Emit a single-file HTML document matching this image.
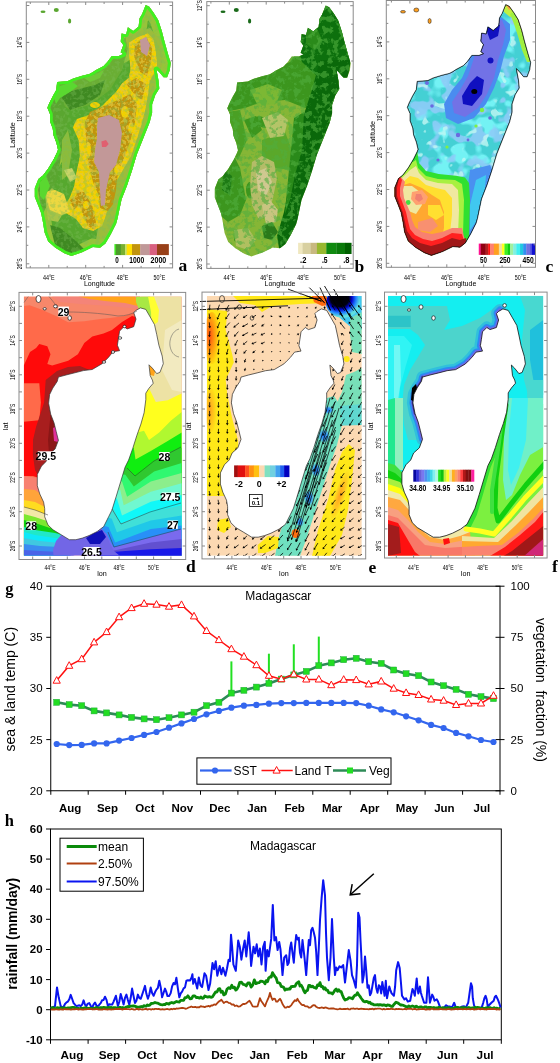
<!DOCTYPE html><html><head><meta charset="utf-8"><title>Madagascar climate figure</title><style>html,body{margin:0;padding:0;background:#fff;}svg{display:block;}</style></head><body>
<svg width="560" height="1063" viewBox="0 0 560 1063">
<rect x="0" y="0" width="560" height="1063" fill="#fff"/>
<g id="panel-a">
<clipPath id="isl-a"><polygon points="145.7,5.0 149.3,6.8 153.8,13.0 158.2,20.1 161.8,30.9 164.5,41.6 168.0,54.1 170.7,63.0 169.8,70.1 167.1,77.3 163.6,77.3 159.1,71.9 156.4,69.3 158.5,80.5 159.3,88.5 155.3,95.0 152.1,104.6 152.1,112.7 149.7,122.3 143.2,138.4 136.8,154.5 132.0,170.5 127.2,185.0 121.5,199.5 117.5,218.8 116.1,223.7 110.7,234.4 105.4,243.4 100.0,247.8 92.9,247.1 82.1,252.3 71.4,255.9 64.3,253.2 55.4,247.8 48.2,241.6 44.6,232.6 42.9,221.9 41.1,213.0 38.4,205.9 34.8,196.9 34.8,188.0 38.4,179.1 42.9,175.5 48.2,168.4 53.6,159.4 57.1,152.3 58.0,149.8 56.3,142.6 53.6,135.5 52.7,128.4 50.0,121.2 50.0,114.1 47.3,107.8 49.1,103.4 52.7,96.2 56.3,90.0 57.1,81.9 67.9,81.0 73.2,78.4 82.1,75.7 89.3,73.9 92.9,72.1 95.5,70.3 103.6,65.9 107.1,62.3 111.8,55.9 118.9,55.9 123.4,54.1 120.7,52.3 123.4,45.1 120.7,41.6 121.6,33.5 126.1,34.4 127.9,27.3 133.2,30.9 138.6,26.4 139.5,18.4 142.1,13.9"/></clipPath>
<polygon points="145.7,5.0 149.3,6.8 153.8,13.0 158.2,20.1 161.8,30.9 164.5,41.6 168.0,54.1 170.7,63.0 169.8,70.1 167.1,77.3 163.6,77.3 159.1,71.9 156.4,69.3 158.5,80.5 159.3,88.5 155.3,95.0 152.1,104.6 152.1,112.7 149.7,122.3 143.2,138.4 136.8,154.5 132.0,170.5 127.2,185.0 121.5,199.5 117.5,218.8 116.1,223.7 110.7,234.4 105.4,243.4 100.0,247.8 92.9,247.1 82.1,252.3 71.4,255.9 64.3,253.2 55.4,247.8 48.2,241.6 44.6,232.6 42.9,221.9 41.1,213.0 38.4,205.9 34.8,196.9 34.8,188.0 38.4,179.1 42.9,175.5 48.2,168.4 53.6,159.4 57.1,152.3 58.0,149.8 56.3,142.6 53.6,135.5 52.7,128.4 50.0,121.2 50.0,114.1 47.3,107.8 49.1,103.4 52.7,96.2 56.3,90.0 57.1,81.9 67.9,81.0 73.2,78.4 82.1,75.7 89.3,73.9 92.9,72.1 95.5,70.3 103.6,65.9 107.1,62.3 111.8,55.9 118.9,55.9 123.4,54.1 120.7,52.3 123.4,45.1 120.7,41.6 121.6,33.5 126.1,34.4 127.9,27.3 133.2,30.9 138.6,26.4 139.5,18.4 142.1,13.9" fill="#56a82e"/>
<polygon points="145.7,5.0 149.3,6.8 153.8,13.0 158.2,20.1 161.8,30.9 164.5,41.6 168.0,54.1 170.7,63.0 169.8,70.1 167.1,77.3 163.6,77.3 159.1,71.9 156.4,69.3 158.5,80.5 159.3,88.5 155.3,95.0 152.1,104.6 152.1,112.7 149.7,122.3 143.2,138.4 136.8,154.5 132.0,170.5 127.2,185.0 121.5,199.5 117.5,218.8 116.1,223.7 110.7,234.4 105.4,243.4 100.0,247.8 92.9,247.1 82.1,252.3 71.4,255.9 64.3,253.2 55.4,247.8 48.2,241.6 44.6,232.6 42.9,221.9 41.1,213.0 38.4,205.9 34.8,196.9 34.8,188.0 38.4,179.1 42.9,175.5 48.2,168.4 53.6,159.4 57.1,152.3 58.0,149.8 56.3,142.6 53.6,135.5 52.7,128.4 50.0,121.2 50.0,114.1 47.3,107.8 49.1,103.4 52.7,96.2 56.3,90.0 57.1,81.9 67.9,81.0 73.2,78.4 82.1,75.7 89.3,73.9 92.9,72.1 95.5,70.3 103.6,65.9 107.1,62.3 111.8,55.9 118.9,55.9 123.4,54.1 120.7,52.3 123.4,45.1 120.7,41.6 121.6,33.5 126.1,34.4 127.9,27.3 133.2,30.9 138.6,26.4 139.5,18.4 142.1,13.9" fill="none" stroke="#96c43a" stroke-width="17" stroke-linejoin="round" clip-path="url(#isl-a)"/>
<g clip-path="url(#isl-a)">
<polygon points="55.0,85.0 80.0,78.0 100.0,70.0 112.0,60.0 120.0,45.0 126.0,36.0 128.0,48.0 122.0,70.0 110.0,90.0 90.0,105.0 70.0,110.0 55.0,100.0" fill="#6aae34"/>
<polygon points="48.0,100.0 62.0,95.0 68.0,120.0 62.0,150.0 58.0,175.0 50.0,200.0 42.0,215.0 38.0,190.0 44.0,160.0 50.0,130.0" fill="#5aa630"/>
<polygon points="72.0,95.0 85.0,92.0 80.0,105.0 73.0,108.0" fill="#96c040"/>
<polygon points="62.0,140.0 68.0,130.0 72.0,150.0 68.0,175.0 62.0,180.0" fill="#8cbc3c"/>
<polygon points="45.0,195.0 52.0,188.0 60.0,195.0 65.0,210.0 58.0,222.0 48.0,220.0" fill="#a8c448"/>
<polygon points="50.0,225.0 60.0,228.0 75.0,240.0 85.0,250.0 70.0,254.0 55.0,245.0" fill="#3f8a22"/>
<polygon points="60.0,95.0 75.0,90.0 95.0,85.0 105.0,80.0 100.0,95.0 85.0,105.0 70.0,110.0" fill="#3f8a22"/>
<polygon points="125.0,36.0 150.0,28.0 160.0,40.0 162.0,65.0 156.0,80.0 152.0,100.0 148.0,120.0 142.0,145.0 135.0,170.0 124.0,198.0 114.0,222.0 104.0,238.0 96.0,240.0 100.0,215.0 112.0,190.0 125.0,160.0 135.0,130.0 140.0,100.0 142.0,80.0 130.0,60.0" fill="#9cbc3c"/>
<polygon points="129.1,42.8 137.2,37.4 147.9,33.4 153.2,38.8 155.9,52.1 157.0,65.5 154.0,73.6 149.5,81.6 148.0,95.0 145.0,111.0 141.0,126.0 136.5,140.0 131.0,156.0 124.0,168.0 117.0,180.0 111.0,198.0 107.0,212.0 102.0,226.0 93.0,231.0 83.0,228.0 76.0,219.0 66.0,213.0 64.0,207.0 69.5,198.2 74.1,186.6 76.4,172.7 79.9,156.4 78.7,140.2 74.1,130.0 72.9,127.2 76.9,119.1 88.9,115.1 102.3,105.7 109.0,99.0 115.7,92.3 122.4,83.0 129.1,77.6 130.5,68.2 129.1,54.8" fill="#f2d000"/>
<clipPath id="hl-a"><polygon points="129.1,42.8 137.2,37.4 147.9,33.4 153.2,38.8 155.9,52.1 157.0,65.5 154.0,73.6 149.5,81.6 148.0,95.0 145.0,111.0 141.0,126.0 136.5,140.0 131.0,156.0 124.0,168.0 117.0,180.0 111.0,198.0 107.0,212.0 102.0,226.0 93.0,231.0 83.0,228.0 76.0,219.0 66.0,213.0 64.0,207.0 69.5,198.2 74.1,186.6 76.4,172.7 79.9,156.4 78.7,140.2 74.1,130.0 72.9,127.2 76.9,119.1 88.9,115.1 102.3,105.7 109.0,99.0 115.7,92.3 122.4,83.0 129.1,77.6 130.5,68.2 129.1,54.8"/></clipPath>
<polygon points="44.0,192.0 55.0,190.0 64.0,194.0 70.0,212.0 62.0,215.0 50.0,210.0" fill="#ecd840"/>
<polygon points="64.0,170.0 72.0,168.0 77.0,178.0 70.0,182.0" fill="#c8d468"/>
<polygon points="135.0,44.0 146.0,37.0 152.0,47.0 151.0,62.0 147.0,76.0 140.0,72.0 134.0,56.0" fill="#c2940c"/>
<polygon points="126.0,84.0 136.0,78.0 146.0,84.0 142.0,100.0 136.0,96.0" fill="#c2940c"/>
<polygon points="90.0,112.0 104.0,106.0 118.0,100.0 130.0,94.0 137.0,104.0 135.0,122.0 130.0,142.0 124.0,158.0 118.0,172.0 116.0,190.0 113.0,204.0 108.0,211.0 100.0,208.0 99.0,196.0 93.0,182.0 88.0,162.0 86.0,140.0 85.0,122.0" fill="#c2940c"/>
<polygon points="77.0,191.0 84.0,192.0 92.0,205.0 96.0,222.0 95.0,230.0 88.0,226.0 82.0,212.0 76.0,198.0" fill="#c2940c"/>
<polygon points="70.0,200.0 76.0,196.0 80.0,204.0 74.0,210.0" fill="#c2940c"/>
<ellipse cx="125" cy="112" rx="4" ry="6" fill="#f2d000"/>
<ellipse cx="88" cy="150" rx="3" ry="8" fill="#f2d000"/>
<ellipse cx="118" cy="170" rx="4" ry="5" fill="#f2d000"/>
<ellipse cx="131" cy="128" rx="3" ry="5" fill="#f2d000"/>
<ellipse cx="95" cy="105" rx="5" ry="3" fill="#f2d000"/>
<ellipse cx="86" cy="205" rx="3" ry="4" fill="#f2d000"/>
<filter id="nza" x="0" y="0" width="1" height="1"><feTurbulence type="fractalNoise" baseFrequency="0.3" numOctaves="2" seed="3"/><feColorMatrix type="matrix" values="0 0 0 0 0.76  0 0 0 0 0.58  0 0 0 0 0.05  0 0 0 -8 4.2"/></filter>
<rect x="60" y="30" width="100" height="210" filter="url(#nza)" opacity="0.7" clip-path="url(#hl-a)"/>
<filter id="nza2" x="0" y="0" width="1" height="1"><feTurbulence type="fractalNoise" baseFrequency="0.25" numOctaves="2" seed="11"/><feColorMatrix type="matrix" values="0 0 0 0 0.2  0 0 0 0 0.5  0 0 0 0 0.1  0 0 0 -7 3.7"/></filter>
<rect x="26" y="2" width="147" height="266" filter="url(#nza2)" opacity="0.35"/>
<polygon points="140.0,40.0 146.0,37.0 150.0,45.0 147.0,56.0 141.0,52.0" fill="#c29898"/>
<polygon points="98.0,118.0 109.0,115.0 119.0,120.0 122.0,133.0 120.0,150.0 116.0,165.0 110.0,172.0 106.0,190.0 105.0,205.0 101.0,206.0 100.0,190.0 99.0,172.0 94.0,162.0 95.0,150.0 97.0,138.0 97.0,126.0" fill="#c29898"/>
<polygon points="101.4,141.4 106.0,140.0 108.6,144.0 106.0,147.1 102.0,147.0" fill="#e06070"/>
<polygon points="52.0,92.0 60.0,86.0 72.0,82.0 78.0,86.0 70.0,92.0 60.0,98.0 56.0,104.0" fill="#5ad830"/>
<polygon points="84.0,78.0 96.0,74.0 104.0,70.0 100.0,78.0 90.0,82.0" fill="#70c838"/>
<polygon points="40.0,182.0 46.0,176.0 50.0,186.0 44.0,200.0 40.0,196.0" fill="#5ad830"/>
</g>
<polygon points="145.7,5.0 149.3,6.8 153.8,13.0 158.2,20.1 161.8,30.9 164.5,41.6 168.0,54.1 170.7,63.0 169.8,70.1 167.1,77.3 163.6,77.3 159.1,71.9 156.4,69.3 158.5,80.5 159.3,88.5 155.3,95.0 152.1,104.6 152.1,112.7 149.7,122.3 143.2,138.4 136.8,154.5 132.0,170.5 127.2,185.0 121.5,199.5 117.5,218.8 116.1,223.7 110.7,234.4 105.4,243.4 100.0,247.8 92.9,247.1 82.1,252.3 71.4,255.9 64.3,253.2 55.4,247.8 48.2,241.6 44.6,232.6 42.9,221.9 41.1,213.0 38.4,205.9 34.8,196.9 34.8,188.0 38.4,179.1 42.9,175.5 48.2,168.4 53.6,159.4 57.1,152.3 58.0,149.8 56.3,142.6 53.6,135.5 52.7,128.4 50.0,121.2 50.0,114.1 47.3,107.8 49.1,103.4 52.7,96.2 56.3,90.0 57.1,81.9 67.9,81.0 73.2,78.4 82.1,75.7 89.3,73.9 92.9,72.1 95.5,70.3 103.6,65.9 107.1,62.3 111.8,55.9 118.9,55.9 123.4,54.1 120.7,52.3 123.4,45.1 120.7,41.6 121.6,33.5 126.1,34.4 127.9,27.3 133.2,30.9 138.6,26.4 139.5,18.4 142.1,13.9" fill="none" stroke="#40f020" stroke-width="5.5" stroke-linejoin="round" clip-path="url(#isl-a)"/>
<ellipse cx="43" cy="11.8" rx="2.5" ry="1.3" fill="#5aa630"/>
<ellipse cx="56.3" cy="10" rx="2.5" ry="2" fill="#5aa630"/>
<ellipse cx="69.6" cy="21" rx="1.6" ry="2.5" fill="#5aa630"/>
<rect x="114.40" y="244.1" width="1.65" height="11.0" fill="#40f020"/>
<rect x="115.80" y="244.1" width="5.25" height="11.0" fill="#4b9a2a"/>
<rect x="120.80" y="244.1" width="4.55" height="11.0" fill="#78b030"/>
<rect x="125.10" y="244.1" width="1.95" height="11.0" fill="#c8e060"/>
<rect x="126.80" y="244.1" width="5.45" height="11.0" fill="#ffe000"/>
<rect x="132.00" y="244.1" width="8.45" height="11.0" fill="#c2940c"/>
<rect x="140.20" y="244.1" width="9.55" height="11.0" fill="#c09898"/>
<rect x="149.50" y="244.1" width="7.75" height="11.0" fill="#d86080"/>
<rect x="157.00" y="244.1" width="11.85" height="11.0" fill="#984018"/>
<text x="115.25" y="260.3" font-family="'Liberation Sans', Arial, sans-serif" font-size="8.2" font-weight="bold" textLength="3.5" lengthAdjust="spacingAndGlyphs" dominant-baseline="central">0</text>
<text x="129.20" y="260.3" font-family="'Liberation Sans', Arial, sans-serif" font-size="8.2" font-weight="bold" textLength="15" lengthAdjust="spacingAndGlyphs" dominant-baseline="central">1000</text>
<text x="150.55" y="260.3" font-family="'Liberation Sans', Arial, sans-serif" font-size="8.2" font-weight="bold" textLength="15.7" lengthAdjust="spacingAndGlyphs" dominant-baseline="central">2000</text>
<rect x="26.3" y="2.0" width="146.3" height="265.9" fill="none" stroke="#8a8a8a" stroke-width="1"/>
<line x1="30.3" y1="267.9" x2="30.3" y2="265.9" stroke="#8a8a8a" stroke-width="1"/>
<line x1="30.3" y1="2.0" x2="30.3" y2="4.0" stroke="#8a8a8a" stroke-width="1"/>
<line x1="48.8" y1="267.9" x2="48.8" y2="264.9" stroke="#8a8a8a" stroke-width="1"/>
<line x1="48.8" y1="2.0" x2="48.8" y2="5.0" stroke="#8a8a8a" stroke-width="1"/>
<text x="48.8" y="277.0" font-family="'Liberation Sans', Arial, sans-serif" font-size="6.6" font-weight="normal" text-anchor="middle" dominant-baseline="central" fill="#000" textLength="11.8" lengthAdjust="spacingAndGlyphs">44°E</text>
<line x1="67.2" y1="267.9" x2="67.2" y2="265.9" stroke="#8a8a8a" stroke-width="1"/>
<line x1="67.2" y1="2.0" x2="67.2" y2="4.0" stroke="#8a8a8a" stroke-width="1"/>
<line x1="85.7" y1="267.9" x2="85.7" y2="264.9" stroke="#8a8a8a" stroke-width="1"/>
<line x1="85.7" y1="2.0" x2="85.7" y2="5.0" stroke="#8a8a8a" stroke-width="1"/>
<text x="85.69999999999999" y="277.0" font-family="'Liberation Sans', Arial, sans-serif" font-size="6.6" font-weight="normal" text-anchor="middle" dominant-baseline="central" fill="#000" textLength="11.8" lengthAdjust="spacingAndGlyphs">46°E</text>
<line x1="104.1" y1="267.9" x2="104.1" y2="265.9" stroke="#8a8a8a" stroke-width="1"/>
<line x1="104.1" y1="2.0" x2="104.1" y2="4.0" stroke="#8a8a8a" stroke-width="1"/>
<line x1="122.6" y1="267.9" x2="122.6" y2="264.9" stroke="#8a8a8a" stroke-width="1"/>
<line x1="122.6" y1="2.0" x2="122.6" y2="5.0" stroke="#8a8a8a" stroke-width="1"/>
<text x="122.6" y="277.0" font-family="'Liberation Sans', Arial, sans-serif" font-size="6.6" font-weight="normal" text-anchor="middle" dominant-baseline="central" fill="#000" textLength="11.8" lengthAdjust="spacingAndGlyphs">48°E</text>
<line x1="141.1" y1="267.9" x2="141.1" y2="265.9" stroke="#8a8a8a" stroke-width="1"/>
<line x1="141.1" y1="2.0" x2="141.1" y2="4.0" stroke="#8a8a8a" stroke-width="1"/>
<line x1="159.5" y1="267.9" x2="159.5" y2="264.9" stroke="#8a8a8a" stroke-width="1"/>
<line x1="159.5" y1="2.0" x2="159.5" y2="5.0" stroke="#8a8a8a" stroke-width="1"/>
<text x="159.5" y="277.0" font-family="'Liberation Sans', Arial, sans-serif" font-size="6.6" font-weight="normal" text-anchor="middle" dominant-baseline="central" fill="#000" textLength="11.8" lengthAdjust="spacingAndGlyphs">50°E</text>
<line x1="26.3" y1="5.5" x2="29.3" y2="5.5" stroke="#8a8a8a" stroke-width="1"/>
<line x1="172.6" y1="5.5" x2="169.6" y2="5.5" stroke="#8a8a8a" stroke-width="1"/>
<line x1="26.3" y1="23.9" x2="28.3" y2="23.9" stroke="#8a8a8a" stroke-width="1"/>
<line x1="172.6" y1="23.9" x2="170.6" y2="23.9" stroke="#8a8a8a" stroke-width="1"/>
<line x1="26.3" y1="42.4" x2="29.3" y2="42.4" stroke="#8a8a8a" stroke-width="1"/>
<line x1="172.6" y1="42.4" x2="169.6" y2="42.4" stroke="#8a8a8a" stroke-width="1"/>
<text x="19.3" y="42.4" font-family="'Liberation Sans', Arial, sans-serif" font-size="6.6" font-weight="normal" text-anchor="middle" dominant-baseline="central" fill="#000" transform="rotate(-90 19.3 42.4)" textLength="11.0" lengthAdjust="spacingAndGlyphs">14°S</text>
<line x1="26.3" y1="60.8" x2="28.3" y2="60.8" stroke="#8a8a8a" stroke-width="1"/>
<line x1="172.6" y1="60.8" x2="170.6" y2="60.8" stroke="#8a8a8a" stroke-width="1"/>
<line x1="26.3" y1="79.3" x2="29.3" y2="79.3" stroke="#8a8a8a" stroke-width="1"/>
<line x1="172.6" y1="79.3" x2="169.6" y2="79.3" stroke="#8a8a8a" stroke-width="1"/>
<text x="19.3" y="79.3" font-family="'Liberation Sans', Arial, sans-serif" font-size="6.6" font-weight="normal" text-anchor="middle" dominant-baseline="central" fill="#000" transform="rotate(-90 19.3 79.3)" textLength="11.0" lengthAdjust="spacingAndGlyphs">16°S</text>
<line x1="26.3" y1="97.8" x2="28.3" y2="97.8" stroke="#8a8a8a" stroke-width="1"/>
<line x1="172.6" y1="97.8" x2="170.6" y2="97.8" stroke="#8a8a8a" stroke-width="1"/>
<line x1="26.3" y1="116.2" x2="29.3" y2="116.2" stroke="#8a8a8a" stroke-width="1"/>
<line x1="172.6" y1="116.2" x2="169.6" y2="116.2" stroke="#8a8a8a" stroke-width="1"/>
<text x="19.3" y="116.19999999999999" font-family="'Liberation Sans', Arial, sans-serif" font-size="6.6" font-weight="normal" text-anchor="middle" dominant-baseline="central" fill="#000" transform="rotate(-90 19.3 116.19999999999999)" textLength="11.0" lengthAdjust="spacingAndGlyphs">18°S</text>
<line x1="26.3" y1="134.7" x2="28.3" y2="134.7" stroke="#8a8a8a" stroke-width="1"/>
<line x1="172.6" y1="134.7" x2="170.6" y2="134.7" stroke="#8a8a8a" stroke-width="1"/>
<line x1="26.3" y1="153.1" x2="29.3" y2="153.1" stroke="#8a8a8a" stroke-width="1"/>
<line x1="172.6" y1="153.1" x2="169.6" y2="153.1" stroke="#8a8a8a" stroke-width="1"/>
<text x="19.3" y="153.1" font-family="'Liberation Sans', Arial, sans-serif" font-size="6.6" font-weight="normal" text-anchor="middle" dominant-baseline="central" fill="#000" transform="rotate(-90 19.3 153.1)" textLength="11.0" lengthAdjust="spacingAndGlyphs">20°S</text>
<line x1="26.3" y1="171.6" x2="28.3" y2="171.6" stroke="#8a8a8a" stroke-width="1"/>
<line x1="172.6" y1="171.6" x2="170.6" y2="171.6" stroke="#8a8a8a" stroke-width="1"/>
<line x1="26.3" y1="190.0" x2="29.3" y2="190.0" stroke="#8a8a8a" stroke-width="1"/>
<line x1="172.6" y1="190.0" x2="169.6" y2="190.0" stroke="#8a8a8a" stroke-width="1"/>
<text x="19.3" y="190.0" font-family="'Liberation Sans', Arial, sans-serif" font-size="6.6" font-weight="normal" text-anchor="middle" dominant-baseline="central" fill="#000" transform="rotate(-90 19.3 190.0)" textLength="11.0" lengthAdjust="spacingAndGlyphs">22°S</text>
<line x1="26.3" y1="208.4" x2="28.3" y2="208.4" stroke="#8a8a8a" stroke-width="1"/>
<line x1="172.6" y1="208.4" x2="170.6" y2="208.4" stroke="#8a8a8a" stroke-width="1"/>
<line x1="26.3" y1="226.9" x2="29.3" y2="226.9" stroke="#8a8a8a" stroke-width="1"/>
<line x1="172.6" y1="226.9" x2="169.6" y2="226.9" stroke="#8a8a8a" stroke-width="1"/>
<text x="19.3" y="226.9" font-family="'Liberation Sans', Arial, sans-serif" font-size="6.6" font-weight="normal" text-anchor="middle" dominant-baseline="central" fill="#000" transform="rotate(-90 19.3 226.9)" textLength="11.0" lengthAdjust="spacingAndGlyphs">24°S</text>
<line x1="26.3" y1="245.3" x2="28.3" y2="245.3" stroke="#8a8a8a" stroke-width="1"/>
<line x1="172.6" y1="245.3" x2="170.6" y2="245.3" stroke="#8a8a8a" stroke-width="1"/>
<line x1="26.3" y1="263.8" x2="29.3" y2="263.8" stroke="#8a8a8a" stroke-width="1"/>
<line x1="172.6" y1="263.8" x2="169.6" y2="263.8" stroke="#8a8a8a" stroke-width="1"/>
<text x="19.3" y="263.79999999999995" font-family="'Liberation Sans', Arial, sans-serif" font-size="6.6" font-weight="normal" text-anchor="middle" dominant-baseline="central" fill="#000" transform="rotate(-90 19.3 263.79999999999995)" textLength="11.0" lengthAdjust="spacingAndGlyphs">26°S</text>
<text x="99.45" y="283.6" font-family="'Liberation Sans', Arial, sans-serif" font-size="7.6" font-weight="normal" text-anchor="middle" dominant-baseline="central" fill="#000" textLength="31.0" lengthAdjust="spacingAndGlyphs">Longitude</text>
<text x="13.0" y="134.95" font-family="'Liberation Sans', Arial, sans-serif" font-size="7.2" font-weight="normal" text-anchor="middle" dominant-baseline="central" fill="#000" transform="rotate(-90 13.0 134.95)">Latitude</text>
</g>
<g id="panel-b">
<clipPath id="isl-b"><polygon points="325.7,5.5 329.3,7.3 333.8,13.5 338.2,20.6 341.8,31.4 344.5,42.1 348.0,54.6 350.7,63.5 349.8,70.6 347.1,77.8 343.6,77.8 339.1,72.4 336.4,69.8 338.5,81.0 339.3,89.0 335.3,95.5 332.1,105.1 332.1,113.2 329.7,122.8 323.2,138.9 316.8,155.0 312.0,171.0 307.2,185.5 301.5,200.0 297.5,219.3 296.1,224.2 290.7,234.9 285.4,243.9 280.0,248.3 272.9,247.6 262.1,252.8 251.4,256.4 244.3,253.7 235.4,248.3 228.2,242.1 224.6,233.1 222.9,222.4 221.1,213.5 218.4,206.4 214.8,197.4 214.8,188.5 218.4,179.6 222.9,176.0 228.2,168.9 233.6,159.9 237.1,152.8 238.0,150.3 236.3,143.1 233.6,136.0 232.7,128.9 230.0,121.7 230.0,114.6 227.3,108.3 229.1,103.9 232.7,96.7 236.3,90.5 237.1,82.4 247.9,81.5 253.2,78.9 262.1,76.2 269.3,74.4 272.9,72.6 275.5,70.8 283.6,66.4 287.1,62.8 291.8,56.4 298.9,56.4 303.4,54.6 300.7,52.8 303.4,45.6 300.7,42.1 301.6,34.0 306.1,34.9 307.9,27.8 313.2,31.4 318.6,26.9 319.5,18.9 322.1,14.4"/></clipPath>
<polygon points="325.7,5.5 329.3,7.3 333.8,13.5 338.2,20.6 341.8,31.4 344.5,42.1 348.0,54.6 350.7,63.5 349.8,70.6 347.1,77.8 343.6,77.8 339.1,72.4 336.4,69.8 338.5,81.0 339.3,89.0 335.3,95.5 332.1,105.1 332.1,113.2 329.7,122.8 323.2,138.9 316.8,155.0 312.0,171.0 307.2,185.5 301.5,200.0 297.5,219.3 296.1,224.2 290.7,234.9 285.4,243.9 280.0,248.3 272.9,247.6 262.1,252.8 251.4,256.4 244.3,253.7 235.4,248.3 228.2,242.1 224.6,233.1 222.9,222.4 221.1,213.5 218.4,206.4 214.8,197.4 214.8,188.5 218.4,179.6 222.9,176.0 228.2,168.9 233.6,159.9 237.1,152.8 238.0,150.3 236.3,143.1 233.6,136.0 232.7,128.9 230.0,121.7 230.0,114.6 227.3,108.3 229.1,103.9 232.7,96.7 236.3,90.5 237.1,82.4 247.9,81.5 253.2,78.9 262.1,76.2 269.3,74.4 272.9,72.6 275.5,70.8 283.6,66.4 287.1,62.8 291.8,56.4 298.9,56.4 303.4,54.6 300.7,52.8 303.4,45.6 300.7,42.1 301.6,34.0 306.1,34.9 307.9,27.8 313.2,31.4 318.6,26.9 319.5,18.9 322.1,14.4" fill="#86b636"/>
<g clip-path="url(#isl-b)">
<ellipse cx="262" cy="122" rx="9" ry="5" transform="rotate(20 262 122)" fill="#3c961e"/>
<ellipse cx="270" cy="150" rx="8" ry="4" transform="rotate(-10 270 150)" fill="#3c961e"/>
<ellipse cx="238" cy="132" rx="5" ry="9" transform="rotate(0 238 132)" fill="#3c961e"/>
<ellipse cx="285" cy="95" rx="7" ry="4" transform="rotate(-20 285 95)" fill="#3c961e"/>
<ellipse cx="250" cy="190" rx="4" ry="8" transform="rotate(0 250 190)" fill="#3c961e"/>
<ellipse cx="240" cy="240" rx="6" ry="4" transform="rotate(10 240 240)" fill="#3c961e"/>
<ellipse cx="226" cy="200" rx="4" ry="8" transform="rotate(0 226 200)" fill="#3c961e"/>
<ellipse cx="282" cy="140" rx="5" ry="4" transform="rotate(0 282 140)" fill="#3c961e"/>
<polygon points="236.0,80.0 262.0,72.0 290.0,62.0 305.0,40.0 318.0,12.0 340.0,10.0 350.0,60.0 330.0,100.0 305.0,108.0 285.0,100.0 262.0,102.0 245.0,108.0 225.0,112.0 222.0,92.0" fill="#3c961e"/>
<polygon points="250.0,90.0 268.0,84.0 282.0,90.0 276.0,104.0 258.0,106.0" fill="#7cb834"/>
<polygon points="214.0,160.0 230.0,148.0 240.0,168.0 246.0,200.0 240.0,215.0 228.0,222.0 216.0,212.0" fill="#3c961e"/>
<polygon points="226.0,112.0 240.0,110.0 247.0,140.0 238.0,160.0 228.0,150.0" fill="#4aa024"/>
<polygon points="224.0,170.0 232.0,176.0 230.0,195.0 222.0,190.0" fill="#1d7a14"/>
<polygon points="262.0,140.0 285.0,132.0 292.0,150.0 290.0,170.0 276.0,168.0 262.0,160.0" fill="#5aa82a"/>
<polygon points="244.0,120.0 256.0,116.0 262.0,130.0 252.0,138.0" fill="#3c961e"/>
<polygon points="252.0,162.0 262.0,156.0 274.0,162.0 277.0,178.0 273.0,198.0 268.0,215.0 259.0,220.0 252.0,205.0 250.0,185.0" fill="#b4bc68"/>
<polygon points="256.0,172.0 266.0,168.0 272.0,182.0 266.0,196.0 258.0,190.0" fill="#d0c890"/>
<polygon points="262.0,205.0 270.0,200.0 278.0,210.0 276.0,222.0 266.0,224.0" fill="#c8c480"/>
<polygon points="262.0,118.0 278.0,112.0 288.0,120.0 284.0,136.0 270.0,138.0" fill="#b4c468"/>
<polygon points="234.0,230.0 248.0,228.0 256.0,240.0 248.0,250.0 236.0,246.0" fill="#b0c060"/>
<polygon points="302.0,8.0 330.0,5.0 346.0,30.0 352.0,55.0 348.0,75.0 332.0,80.0 316.0,75.0 302.0,62.0 296.0,40.0" fill="#0d700d"/>
<polygon points="306.0,30.0 316.0,26.0 322.0,40.0 314.0,50.0 306.0,44.0" fill="#2a8a1a"/>
<polygon points="320.0,60.0 350.0,60.0 345.0,100.0 332.0,140.0 320.0,180.0 306.0,215.0 292.0,245.0 280.0,254.0 277.0,236.0 284.0,212.0 288.0,190.0 294.0,156.0 302.0,120.0 312.0,90.0" fill="#0a680a"/>
<polygon points="294.0,118.0 304.0,112.0 302.0,150.0 295.0,175.0 290.0,200.0 285.0,214.0 287.0,190.0 290.0,160.0" fill="#2a8a1a"/>
<polygon points="262.0,226.0 272.0,222.0 278.0,232.0 272.0,240.0 264.0,238.0" fill="#2a7a1a"/>
<filter id="nzb" x="0" y="0" width="1" height="1"><feTurbulence type="fractalNoise" baseFrequency="0.18" numOctaves="3" seed="7"/><feColorMatrix type="matrix" values="0 0 0 0 0.08  0 0 0 0 0.42  0 0 0 0 0.05  0 0 0 -7 3.6"/></filter>
<rect x="206" y="2" width="148" height="266" filter="url(#nzb)" opacity="0.6"/>
</g>
<ellipse cx="223" cy="11.8" rx="2.5" ry="1.3" fill="#1a6a1a"/>
<ellipse cx="236.3" cy="10" rx="2.5" ry="2" fill="#1a6a1a"/>
<ellipse cx="249.6" cy="21" rx="1.6" ry="2.5" fill="#1a6a1a"/>
<rect x="298.10" y="242.8" width="4.65" height="11.2" fill="#f0e8c0"/>
<rect x="302.50" y="242.8" width="8.35" height="11.2" fill="#d8d0a0"/>
<rect x="310.60" y="242.8" width="6.55" height="11.2" fill="#c8b880"/>
<rect x="316.90" y="242.8" width="9.65" height="11.2" fill="#98b830"/>
<rect x="326.30" y="242.8" width="10.25" height="11.2" fill="#108a10"/>
<rect x="336.30" y="242.8" width="8.95" height="11.2" fill="#0a7a0a"/>
<rect x="345.00" y="242.8" width="6.55" height="11.2" fill="#006000"/>
<text x="300.05" y="260.5" font-family="'Liberation Sans', Arial, sans-serif" font-size="8.2" font-weight="bold" textLength="6.3" lengthAdjust="spacingAndGlyphs" dominant-baseline="central">.2</text>
<text x="321.90" y="260.5" font-family="'Liberation Sans', Arial, sans-serif" font-size="8.2" font-weight="bold" textLength="5.6" lengthAdjust="spacingAndGlyphs" dominant-baseline="central">.5</text>
<text x="343.15" y="260.5" font-family="'Liberation Sans', Arial, sans-serif" font-size="8.2" font-weight="bold" textLength="6.3" lengthAdjust="spacingAndGlyphs" dominant-baseline="central">.8</text>
<rect x="206.8" y="1.6" width="146.4" height="266.8" fill="none" stroke="#8a8a8a" stroke-width="1"/>
<line x1="210.9" y1="268.4" x2="210.9" y2="266.4" stroke="#8a8a8a" stroke-width="1"/>
<line x1="210.9" y1="1.6" x2="210.9" y2="3.6" stroke="#8a8a8a" stroke-width="1"/>
<line x1="229.3" y1="268.4" x2="229.3" y2="265.4" stroke="#8a8a8a" stroke-width="1"/>
<line x1="229.3" y1="1.6" x2="229.3" y2="4.6" stroke="#8a8a8a" stroke-width="1"/>
<text x="229.3" y="277.0" font-family="'Liberation Sans', Arial, sans-serif" font-size="6.6" font-weight="normal" text-anchor="middle" dominant-baseline="central" fill="#000" textLength="11.8" lengthAdjust="spacingAndGlyphs">44°E</text>
<line x1="247.8" y1="268.4" x2="247.8" y2="266.4" stroke="#8a8a8a" stroke-width="1"/>
<line x1="247.8" y1="1.6" x2="247.8" y2="3.6" stroke="#8a8a8a" stroke-width="1"/>
<line x1="266.2" y1="268.4" x2="266.2" y2="265.4" stroke="#8a8a8a" stroke-width="1"/>
<line x1="266.2" y1="1.6" x2="266.2" y2="4.6" stroke="#8a8a8a" stroke-width="1"/>
<text x="266.2" y="277.0" font-family="'Liberation Sans', Arial, sans-serif" font-size="6.6" font-weight="normal" text-anchor="middle" dominant-baseline="central" fill="#000" textLength="11.8" lengthAdjust="spacingAndGlyphs">46°E</text>
<line x1="284.6" y1="268.4" x2="284.6" y2="266.4" stroke="#8a8a8a" stroke-width="1"/>
<line x1="284.6" y1="1.6" x2="284.6" y2="3.6" stroke="#8a8a8a" stroke-width="1"/>
<line x1="303.1" y1="268.4" x2="303.1" y2="265.4" stroke="#8a8a8a" stroke-width="1"/>
<line x1="303.1" y1="1.6" x2="303.1" y2="4.6" stroke="#8a8a8a" stroke-width="1"/>
<text x="303.1" y="277.0" font-family="'Liberation Sans', Arial, sans-serif" font-size="6.6" font-weight="normal" text-anchor="middle" dominant-baseline="central" fill="#000" textLength="11.8" lengthAdjust="spacingAndGlyphs">48°E</text>
<line x1="321.6" y1="268.4" x2="321.6" y2="266.4" stroke="#8a8a8a" stroke-width="1"/>
<line x1="321.6" y1="1.6" x2="321.6" y2="3.6" stroke="#8a8a8a" stroke-width="1"/>
<line x1="340.0" y1="268.4" x2="340.0" y2="265.4" stroke="#8a8a8a" stroke-width="1"/>
<line x1="340.0" y1="1.6" x2="340.0" y2="4.6" stroke="#8a8a8a" stroke-width="1"/>
<text x="340.0" y="277.0" font-family="'Liberation Sans', Arial, sans-serif" font-size="6.6" font-weight="normal" text-anchor="middle" dominant-baseline="central" fill="#000" textLength="11.8" lengthAdjust="spacingAndGlyphs">50°E</text>
<line x1="206.8" y1="5.7" x2="209.8" y2="5.7" stroke="#8a8a8a" stroke-width="1"/>
<line x1="353.2" y1="5.7" x2="350.2" y2="5.7" stroke="#8a8a8a" stroke-width="1"/>
<text x="199.8" y="5.700000000000003" font-family="'Liberation Sans', Arial, sans-serif" font-size="6.6" font-weight="normal" text-anchor="middle" dominant-baseline="central" fill="#000" transform="rotate(-90 199.8 5.700000000000003)" textLength="11.0" lengthAdjust="spacingAndGlyphs">12°S</text>
<line x1="206.8" y1="24.2" x2="208.8" y2="24.2" stroke="#8a8a8a" stroke-width="1"/>
<line x1="353.2" y1="24.2" x2="351.2" y2="24.2" stroke="#8a8a8a" stroke-width="1"/>
<line x1="206.8" y1="42.6" x2="209.8" y2="42.6" stroke="#8a8a8a" stroke-width="1"/>
<line x1="353.2" y1="42.6" x2="350.2" y2="42.6" stroke="#8a8a8a" stroke-width="1"/>
<text x="199.8" y="42.6" font-family="'Liberation Sans', Arial, sans-serif" font-size="6.6" font-weight="normal" text-anchor="middle" dominant-baseline="central" fill="#000" transform="rotate(-90 199.8 42.6)" textLength="11.0" lengthAdjust="spacingAndGlyphs">14°S</text>
<line x1="206.8" y1="61.0" x2="208.8" y2="61.0" stroke="#8a8a8a" stroke-width="1"/>
<line x1="353.2" y1="61.0" x2="351.2" y2="61.0" stroke="#8a8a8a" stroke-width="1"/>
<line x1="206.8" y1="79.5" x2="209.8" y2="79.5" stroke="#8a8a8a" stroke-width="1"/>
<line x1="353.2" y1="79.5" x2="350.2" y2="79.5" stroke="#8a8a8a" stroke-width="1"/>
<text x="199.8" y="79.5" font-family="'Liberation Sans', Arial, sans-serif" font-size="6.6" font-weight="normal" text-anchor="middle" dominant-baseline="central" fill="#000" transform="rotate(-90 199.8 79.5)" textLength="11.0" lengthAdjust="spacingAndGlyphs">16°S</text>
<line x1="206.8" y1="97.9" x2="208.8" y2="97.9" stroke="#8a8a8a" stroke-width="1"/>
<line x1="353.2" y1="97.9" x2="351.2" y2="97.9" stroke="#8a8a8a" stroke-width="1"/>
<line x1="206.8" y1="116.4" x2="209.8" y2="116.4" stroke="#8a8a8a" stroke-width="1"/>
<line x1="353.2" y1="116.4" x2="350.2" y2="116.4" stroke="#8a8a8a" stroke-width="1"/>
<text x="199.8" y="116.4" font-family="'Liberation Sans', Arial, sans-serif" font-size="6.6" font-weight="normal" text-anchor="middle" dominant-baseline="central" fill="#000" transform="rotate(-90 199.8 116.4)" textLength="11.0" lengthAdjust="spacingAndGlyphs">18°S</text>
<line x1="206.8" y1="134.8" x2="208.8" y2="134.8" stroke="#8a8a8a" stroke-width="1"/>
<line x1="353.2" y1="134.8" x2="351.2" y2="134.8" stroke="#8a8a8a" stroke-width="1"/>
<line x1="206.8" y1="153.3" x2="209.8" y2="153.3" stroke="#8a8a8a" stroke-width="1"/>
<line x1="353.2" y1="153.3" x2="350.2" y2="153.3" stroke="#8a8a8a" stroke-width="1"/>
<text x="199.8" y="153.29999999999998" font-family="'Liberation Sans', Arial, sans-serif" font-size="6.6" font-weight="normal" text-anchor="middle" dominant-baseline="central" fill="#000" transform="rotate(-90 199.8 153.29999999999998)" textLength="11.0" lengthAdjust="spacingAndGlyphs">20°S</text>
<line x1="206.8" y1="171.8" x2="208.8" y2="171.8" stroke="#8a8a8a" stroke-width="1"/>
<line x1="353.2" y1="171.8" x2="351.2" y2="171.8" stroke="#8a8a8a" stroke-width="1"/>
<line x1="206.8" y1="190.2" x2="209.8" y2="190.2" stroke="#8a8a8a" stroke-width="1"/>
<line x1="353.2" y1="190.2" x2="350.2" y2="190.2" stroke="#8a8a8a" stroke-width="1"/>
<text x="199.8" y="190.2" font-family="'Liberation Sans', Arial, sans-serif" font-size="6.6" font-weight="normal" text-anchor="middle" dominant-baseline="central" fill="#000" transform="rotate(-90 199.8 190.2)" textLength="11.0" lengthAdjust="spacingAndGlyphs">22°S</text>
<line x1="206.8" y1="208.6" x2="208.8" y2="208.6" stroke="#8a8a8a" stroke-width="1"/>
<line x1="353.2" y1="208.6" x2="351.2" y2="208.6" stroke="#8a8a8a" stroke-width="1"/>
<line x1="206.8" y1="227.1" x2="209.8" y2="227.1" stroke="#8a8a8a" stroke-width="1"/>
<line x1="353.2" y1="227.1" x2="350.2" y2="227.1" stroke="#8a8a8a" stroke-width="1"/>
<text x="199.8" y="227.1" font-family="'Liberation Sans', Arial, sans-serif" font-size="6.6" font-weight="normal" text-anchor="middle" dominant-baseline="central" fill="#000" transform="rotate(-90 199.8 227.1)" textLength="11.0" lengthAdjust="spacingAndGlyphs">24°S</text>
<line x1="206.8" y1="245.5" x2="208.8" y2="245.5" stroke="#8a8a8a" stroke-width="1"/>
<line x1="353.2" y1="245.5" x2="351.2" y2="245.5" stroke="#8a8a8a" stroke-width="1"/>
<line x1="206.8" y1="264.0" x2="209.8" y2="264.0" stroke="#8a8a8a" stroke-width="1"/>
<line x1="353.2" y1="264.0" x2="350.2" y2="264.0" stroke="#8a8a8a" stroke-width="1"/>
<text x="199.8" y="264.0" font-family="'Liberation Sans', Arial, sans-serif" font-size="6.6" font-weight="normal" text-anchor="middle" dominant-baseline="central" fill="#000" transform="rotate(-90 199.8 264.0)" textLength="11.0" lengthAdjust="spacingAndGlyphs">26°S</text>
<text x="280.0" y="283.6" font-family="'Liberation Sans', Arial, sans-serif" font-size="7.6" font-weight="normal" text-anchor="middle" dominant-baseline="central" fill="#000" textLength="31.0" lengthAdjust="spacingAndGlyphs">Longitude</text>
<text x="193.5" y="135.0" font-family="'Liberation Sans', Arial, sans-serif" font-size="7.2" font-weight="normal" text-anchor="middle" dominant-baseline="central" fill="#000" transform="rotate(-90 193.5 135.0)">Latitude</text>
</g>
<g id="panel-c">
<clipPath id="isl-c"><polygon points="505.7,4.5 509.3,6.3 513.8,12.5 518.2,19.6 521.8,30.4 524.5,41.1 528.0,53.6 530.7,62.5 529.8,69.6 527.1,76.8 523.6,76.8 519.1,71.4 516.4,68.8 518.5,80.0 519.3,88.0 515.3,94.5 512.1,104.1 512.1,112.2 509.7,121.8 503.2,137.9 496.8,154.0 492.0,170.0 487.2,184.5 481.5,199.0 477.5,218.3 476.1,223.2 470.7,233.9 465.4,242.9 460.0,247.3 452.9,246.6 442.1,251.8 431.4,255.4 424.3,252.7 415.4,247.3 408.2,241.1 404.6,232.1 402.9,221.4 401.1,212.5 398.4,205.4 394.8,196.4 394.8,187.5 398.4,178.6 402.9,175.0 408.2,167.9 413.6,158.9 417.1,151.8 418.0,149.3 416.3,142.1 413.6,135.0 412.7,127.9 410.0,120.7 410.0,113.6 407.3,107.3 409.1,102.9 412.7,95.7 416.3,89.5 417.1,81.4 427.9,80.5 433.2,77.9 442.1,75.2 449.3,73.4 452.9,71.6 455.5,69.8 463.6,65.4 467.1,61.8 471.8,55.4 478.9,55.4 483.4,53.6 480.7,51.8 483.4,44.6 480.7,41.1 481.6,33.0 486.1,33.9 487.9,26.8 493.2,30.4 498.6,25.9 499.5,17.9 502.1,13.4"/></clipPath>
<polygon points="505.7,4.5 509.3,6.3 513.8,12.5 518.2,19.6 521.8,30.4 524.5,41.1 528.0,53.6 530.7,62.5 529.8,69.6 527.1,76.8 523.6,76.8 519.1,71.4 516.4,68.8 518.5,80.0 519.3,88.0 515.3,94.5 512.1,104.1 512.1,112.2 509.7,121.8 503.2,137.9 496.8,154.0 492.0,170.0 487.2,184.5 481.5,199.0 477.5,218.3 476.1,223.2 470.7,233.9 465.4,242.9 460.0,247.3 452.9,246.6 442.1,251.8 431.4,255.4 424.3,252.7 415.4,247.3 408.2,241.1 404.6,232.1 402.9,221.4 401.1,212.5 398.4,205.4 394.8,196.4 394.8,187.5 398.4,178.6 402.9,175.0 408.2,167.9 413.6,158.9 417.1,151.8 418.0,149.3 416.3,142.1 413.6,135.0 412.7,127.9 410.0,120.7 410.0,113.6 407.3,107.3 409.1,102.9 412.7,95.7 416.3,89.5 417.1,81.4 427.9,80.5 433.2,77.9 442.1,75.2 449.3,73.4 452.9,71.6 455.5,69.8 463.6,65.4 467.1,61.8 471.8,55.4 478.9,55.4 483.4,53.6 480.7,51.8 483.4,44.6 480.7,41.1 481.6,33.0 486.1,33.9 487.9,26.8 493.2,30.4 498.6,25.9 499.5,17.9 502.1,13.4" fill="#44d0d4"/>
<g clip-path="url(#isl-c)">
<filter id="nzc1" x="0" y="0" width="1" height="1"><feTurbulence type="fractalNoise" baseFrequency="0.06" numOctaves="2" seed="5"/><feColorMatrix type="matrix" values="0 0 0 0 0.19  0 0 0 0 0.91  0 0 0 0 0.94  0 0 0 -10 4.9"/></filter>
<rect x="386" y="1" width="150" height="266" filter="url(#nzc1)" opacity="0.9"/>
<filter id="nzc2" x="0" y="0" width="1" height="1"><feTurbulence type="fractalNoise" baseFrequency="0.07" numOctaves="2" seed="9"/><feColorMatrix type="matrix" values="0 0 0 0 0.27  0 0 0 0 0.6  0 0 0 0 0.94  0 0 0 -10 4.9"/></filter>
<rect x="386" y="1" width="150" height="266" filter="url(#nzc2)" opacity="0.9"/>
<filter id="nzc3" x="0" y="0" width="1" height="1"><feTurbulence type="fractalNoise" baseFrequency="0.1" numOctaves="2" seed="13"/><feColorMatrix type="matrix" values="0 0 0 0 0.55  0 0 0 0 0.93  0 0 0 0 0.9  0 0 0 -12 4.4"/></filter>
<rect x="386" y="1" width="150" height="266" filter="url(#nzc3)" opacity="0.8"/>
<polygon points="476.0,28.0 486.0,20.0 500.0,16.0 510.0,24.0 510.0,40.0 504.0,56.0 500.0,72.0 494.0,88.0 486.0,104.0 474.0,118.0 458.0,124.0 446.0,118.0 444.0,104.0 452.0,90.0 462.0,78.0 468.0,64.0 472.0,46.0" fill="#4a8cf0"/>
<polygon points="480.0,28.0 490.0,22.0 502.0,20.0 506.0,30.0 503.0,45.0 498.0,60.0 494.0,78.0 487.0,94.0 478.0,108.0 465.0,117.0 454.0,113.0 452.0,102.0 460.0,90.0 468.0,76.0 474.0,58.0 477.0,42.0" fill="#7272e6"/>
<polygon points="462.0,96.0 470.0,83.0 477.0,76.0 484.0,80.0 482.0,94.0 472.0,106.0 463.0,104.0" fill="#1010c0"/>
<ellipse cx="474.3" cy="91.4" rx="3" ry="2.5" fill="#000"/>
<polygon points="485.7,28.0 492.0,24.0 500.0,25.0 498.0,36.0 490.0,40.0" fill="#1010c0"/>
<circle cx="490.5" cy="60.5" r="3" fill="#1010c0"/>
<circle cx="427" cy="83" r="2" fill="#6a6ae0"/>
<circle cx="432" cy="106" r="1.8" fill="#6a6ae0"/>
<circle cx="458" cy="135" r="2.2" fill="#6a6ae0"/>
<circle cx="468" cy="140" r="1.4" fill="#6a6ae0"/>
<circle cx="485" cy="177" r="2.4" fill="#6a6ae0"/>
<circle cx="438" cy="160" r="1.6" fill="#6a6ae0"/>
<circle cx="490" cy="118" r="1.8" fill="#6a6ae0"/>
<circle cx="447" cy="147" r="1.6" fill="#80f040"/>
<circle cx="476" cy="126" r="1.6" fill="#80f040"/>
<circle cx="482" cy="110" r="2.2" fill="#80f040"/>
<polygon points="470.0,170.0 490.0,165.0 495.0,175.0 488.0,200.0 480.0,222.0 472.0,238.0 465.0,245.0 462.0,230.0 466.0,205.0 468.0,185.0" fill="#4a90f0"/>
<polygon points="476.0,180.0 486.0,175.0 484.0,200.0 476.0,222.0 470.0,230.0 470.0,205.0" fill="#40c8f0"/>
<polygon points="503.0,6.0 508.0,4.0 513.0,9.0 515.0,15.0 510.0,17.0 504.0,12.0" fill="#c0f040"/>
<polygon points="506.0,5.0 509.0,4.0 512.0,8.0 509.0,10.0" fill="#ffa040"/>
<polygon points="513.0,12.0 518.0,18.0 522.0,30.0 525.0,42.0 528.0,54.0 531.0,62.0 527.0,62.0 522.0,50.0 518.0,36.0 514.0,24.0 510.0,14.0" fill="#a0f040"/>
<polygon points="516.0,15.0 520.0,22.0 524.0,34.0 527.0,46.0 530.0,58.0 528.0,50.0 524.0,38.0 520.0,26.0" fill="#ffa040"/>
<polygon points="380.0,175.0 395.0,175.0 405.0,160.0 417.0,150.0 419.0,163.0 426.0,171.0 438.6,174.0 456.0,175.7 465.0,177.5 469.0,183.0 470.0,200.0 469.0,240.0 463.0,250.0 440.0,262.0 380.0,262.0" fill="#30e030"/>
<polygon points="380.0,178.0 398.0,178.0 408.0,165.0 416.0,160.0 418.0,168.0 426.0,176.0 438.0,179.0 455.0,180.0 462.0,184.0 464.0,200.0 463.0,235.0 458.0,250.0 440.0,262.0 380.0,262.0" fill="#a8f040"/>
<polygon points="380.0,180.0 400.0,180.0 410.0,170.0 416.0,166.0 419.0,173.0 426.0,180.0 438.0,183.0 452.0,184.0 458.0,190.0 459.0,210.0 458.0,235.0 452.0,250.0 440.0,262.0 380.0,262.0" fill="#f0e8a0"/>
<polygon points="380.0,183.0 402.0,183.0 410.0,176.0 418.0,178.0 426.0,185.0 436.0,188.0 445.0,190.0 452.0,198.0 452.0,215.0 450.0,232.0 446.0,248.0 380.0,262.0" fill="#ffe030"/>
<polygon points="380.0,186.0 400.0,186.0 410.0,183.0 422.0,188.0 432.0,195.0 440.0,200.0 444.0,212.0 444.0,228.0 440.0,245.0 380.0,262.0" fill="#ffa830"/>
<polygon points="402.0,186.0 412.0,186.0 420.0,192.0 422.0,205.0 416.0,214.0 406.0,210.0 402.0,198.0" fill="#f0e8a0"/>
<polygon points="412.0,192.0 422.0,190.0 428.0,197.0 425.0,204.0 416.0,205.0 411.0,199.0" fill="#ffa070"/>
<polygon points="416.0,194.0 421.0,194.0 423.0,199.0 419.0,202.0 415.0,199.0" fill="#f08070"/>
<circle cx="408.2" cy="202.5" r="2.4" fill="#40e040"/>
<polygon points="418.0,222.0 432.0,218.0 438.0,226.0 430.0,232.0 418.0,230.0" fill="#f89070"/>
<polygon points="428.0,205.0 440.0,205.0 444.0,215.0 436.0,220.0 428.0,215.0" fill="#ffe030"/>
<polygon points="405.0,182.0 403.0,190.0 404.0,198.0 407.0,205.0 410.0,212.0 412.0,220.0 415.0,227.0 422.0,232.0 432.0,234.0 442.0,232.0 452.0,228.0 462.0,228.0 470.0,262.0 380.0,262.0 380.0,150.0" fill="#f88070"/>
<polygon points="402.0,180.0 400.0,188.0 400.0,196.0 403.0,204.0 406.0,212.0 408.0,221.0 410.0,229.0 415.0,235.0 423.0,239.0 432.0,241.0 442.0,238.0 452.0,233.0 462.0,234.0 470.0,262.0 380.0,262.0 380.0,150.0" fill="#ff2020"/>
<polygon points="399.0,178.0 397.0,188.0 397.0,196.0 400.0,205.0 403.0,213.0 405.0,222.0 407.0,231.0 412.0,238.0 420.0,243.0 431.0,246.0 442.0,243.0 452.0,238.0 460.0,240.0 466.0,238.0 470.0,262.0 380.0,262.0 380.0,150.0" fill="#a01818"/>
</g>
<polygon points="505.7,4.5 509.3,6.3 513.8,12.5 518.2,19.6 521.8,30.4 524.5,41.1 528.0,53.6 530.7,62.5 529.8,69.6 527.1,76.8 523.6,76.8 519.1,71.4 516.4,68.8 518.5,80.0 519.3,88.0 515.3,94.5 512.1,104.1 512.1,112.2 509.7,121.8 503.2,137.9 496.8,154.0 492.0,170.0 487.2,184.5 481.5,199.0 477.5,218.3 476.1,223.2 470.7,233.9 465.4,242.9 460.0,247.3 452.9,246.6 442.1,251.8 431.4,255.4 424.3,252.7 415.4,247.3 408.2,241.1 404.6,232.1 402.9,221.4 401.1,212.5 398.4,205.4 394.8,196.4 394.8,187.5 398.4,178.6 402.9,175.0 408.2,167.9 413.6,158.9 417.1,151.8 418.0,149.3 416.3,142.1 413.6,135.0 412.7,127.9 410.0,120.7 410.0,113.6 407.3,107.3 409.1,102.9 412.7,95.7 416.3,89.5 417.1,81.4 427.9,80.5 433.2,77.9 442.1,75.2 449.3,73.4 452.9,71.6 455.5,69.8 463.6,65.4 467.1,61.8 471.8,55.4 478.9,55.4 483.4,53.6 480.7,51.8 483.4,44.6 480.7,41.1 481.6,33.0 486.1,33.9 487.9,26.8 493.2,30.4 498.6,25.9 499.5,17.9 502.1,13.4" fill="none" stroke="#111" stroke-width="0.8" stroke-linejoin="round" clip-path="url(#isl-c)"/>
<polygon points="505.7,4.5 509.3,6.3 513.8,12.5 518.2,19.6 521.8,30.4 524.5,41.1 528.0,53.6 530.7,62.5 529.8,69.6 527.1,76.8 523.6,76.8 519.1,71.4 516.4,68.8 518.5,80.0 519.3,88.0 515.3,94.5 512.1,104.1 512.1,112.2 509.7,121.8 503.2,137.9 496.8,154.0 492.0,170.0 487.2,184.5 481.5,199.0 477.5,218.3 476.1,223.2 470.7,233.9 465.4,242.9 460.0,247.3 452.9,246.6 442.1,251.8 431.4,255.4 424.3,252.7 415.4,247.3 408.2,241.1 404.6,232.1 402.9,221.4 401.1,212.5 398.4,205.4 394.8,196.4 394.8,187.5 398.4,178.6 402.9,175.0 408.2,167.9 413.6,158.9 417.1,151.8 418.0,149.3 416.3,142.1 413.6,135.0 412.7,127.9 410.0,120.7 410.0,113.6 407.3,107.3 409.1,102.9 412.7,95.7 416.3,89.5 417.1,81.4 427.9,80.5 433.2,77.9 442.1,75.2 449.3,73.4 452.9,71.6 455.5,69.8 463.6,65.4 467.1,61.8 471.8,55.4 478.9,55.4 483.4,53.6 480.7,51.8 483.4,44.6 480.7,41.1 481.6,33.0 486.1,33.9 487.9,26.8 493.2,30.4 498.6,25.9 499.5,17.9 502.1,13.4" fill="none" stroke="#111" stroke-width="0.6"/>
<ellipse cx="403" cy="11.8" rx="2.5" ry="1.3" fill="#ffa020" stroke="#111" stroke-width="0.5"/>
<ellipse cx="416.3" cy="10" rx="2.5" ry="2" fill="#ffa020" stroke="#111" stroke-width="0.5"/>
<ellipse cx="429.6" cy="21" rx="1.6" ry="2.5" fill="#ffa020" stroke="#111" stroke-width="0.5"/>
<rect x="478.75" y="243.6" width="2.15" height="11.3" fill="#ff1090"/>
<rect x="480.65" y="243.6" width="5.25" height="11.3" fill="#900010"/>
<rect x="485.65" y="243.6" width="2.75" height="11.3" fill="#b02020"/>
<rect x="488.15" y="243.6" width="2.15" height="11.3" fill="#ff1010"/>
<rect x="490.05" y="243.6" width="4.05" height="11.3" fill="#ff8070"/>
<rect x="493.85" y="243.6" width="5.25" height="11.3" fill="#ffa020"/>
<rect x="498.85" y="243.6" width="3.35" height="11.3" fill="#f0e0a0"/>
<rect x="501.95" y="243.6" width="2.75" height="11.3" fill="#ffff20"/>
<rect x="504.45" y="243.6" width="3.35" height="11.3" fill="#40f020"/>
<rect x="507.55" y="243.6" width="2.75" height="11.3" fill="#10d010"/>
<rect x="510.05" y="243.6" width="3.35" height="11.3" fill="#a0f0a0"/>
<rect x="513.15" y="243.6" width="3.35" height="11.3" fill="#80f0e0"/>
<rect x="516.25" y="243.6" width="4.05" height="11.3" fill="#40f0f0"/>
<rect x="520.05" y="243.6" width="3.35" height="11.3" fill="#20c8e0"/>
<rect x="523.15" y="243.6" width="3.35" height="11.3" fill="#3090f0"/>
<rect x="526.25" y="243.6" width="4.05" height="11.3" fill="#7070e0"/>
<rect x="530.05" y="243.6" width="2.15" height="11.3" fill="#5050e0"/>
<rect x="531.95" y="243.6" width="4.05" height="11.3" fill="#1010d0"/>
<text x="479.95" y="260.8" font-family="'Liberation Sans', Arial, sans-serif" font-size="8.2" font-weight="bold" textLength="6.9" lengthAdjust="spacingAndGlyphs" dominant-baseline="central">50</text>
<text x="499.40" y="260.8" font-family="'Liberation Sans', Arial, sans-serif" font-size="8.2" font-weight="bold" textLength="11.2" lengthAdjust="spacingAndGlyphs" dominant-baseline="central">250</text>
<text x="522.50" y="260.8" font-family="'Liberation Sans', Arial, sans-serif" font-size="8.2" font-weight="bold" textLength="11.2" lengthAdjust="spacingAndGlyphs" dominant-baseline="central">450</text>
<rect x="386.3" y="0.5" width="149.2" height="266.8" fill="none" stroke="#8a8a8a" stroke-width="1"/>
<line x1="391.4" y1="267.3" x2="391.4" y2="265.3" stroke="#8a8a8a" stroke-width="1"/>
<line x1="391.4" y1="0.5" x2="391.4" y2="2.5" stroke="#8a8a8a" stroke-width="1"/>
<line x1="409.9" y1="267.3" x2="409.9" y2="264.3" stroke="#8a8a8a" stroke-width="1"/>
<line x1="409.9" y1="0.5" x2="409.9" y2="3.5" stroke="#8a8a8a" stroke-width="1"/>
<text x="409.9" y="277.0" font-family="'Liberation Sans', Arial, sans-serif" font-size="6.6" font-weight="normal" text-anchor="middle" dominant-baseline="central" fill="#000" textLength="11.8" lengthAdjust="spacingAndGlyphs">44°E</text>
<line x1="428.3" y1="267.3" x2="428.3" y2="265.3" stroke="#8a8a8a" stroke-width="1"/>
<line x1="428.3" y1="0.5" x2="428.3" y2="2.5" stroke="#8a8a8a" stroke-width="1"/>
<line x1="446.8" y1="267.3" x2="446.8" y2="264.3" stroke="#8a8a8a" stroke-width="1"/>
<line x1="446.8" y1="0.5" x2="446.8" y2="3.5" stroke="#8a8a8a" stroke-width="1"/>
<text x="446.79999999999995" y="277.0" font-family="'Liberation Sans', Arial, sans-serif" font-size="6.6" font-weight="normal" text-anchor="middle" dominant-baseline="central" fill="#000" textLength="11.8" lengthAdjust="spacingAndGlyphs">46°E</text>
<line x1="465.2" y1="267.3" x2="465.2" y2="265.3" stroke="#8a8a8a" stroke-width="1"/>
<line x1="465.2" y1="0.5" x2="465.2" y2="2.5" stroke="#8a8a8a" stroke-width="1"/>
<line x1="483.7" y1="267.3" x2="483.7" y2="264.3" stroke="#8a8a8a" stroke-width="1"/>
<line x1="483.7" y1="0.5" x2="483.7" y2="3.5" stroke="#8a8a8a" stroke-width="1"/>
<text x="483.7" y="277.0" font-family="'Liberation Sans', Arial, sans-serif" font-size="6.6" font-weight="normal" text-anchor="middle" dominant-baseline="central" fill="#000" textLength="11.8" lengthAdjust="spacingAndGlyphs">48°E</text>
<line x1="502.1" y1="267.3" x2="502.1" y2="265.3" stroke="#8a8a8a" stroke-width="1"/>
<line x1="502.1" y1="0.5" x2="502.1" y2="2.5" stroke="#8a8a8a" stroke-width="1"/>
<line x1="520.6" y1="267.3" x2="520.6" y2="264.3" stroke="#8a8a8a" stroke-width="1"/>
<line x1="520.6" y1="0.5" x2="520.6" y2="3.5" stroke="#8a8a8a" stroke-width="1"/>
<text x="520.5999999999999" y="277.0" font-family="'Liberation Sans', Arial, sans-serif" font-size="6.6" font-weight="normal" text-anchor="middle" dominant-baseline="central" fill="#000" textLength="11.8" lengthAdjust="spacingAndGlyphs">50°E</text>
<line x1="386.3" y1="5.0" x2="389.3" y2="5.0" stroke="#8a8a8a" stroke-width="1"/>
<line x1="535.5" y1="5.0" x2="532.5" y2="5.0" stroke="#8a8a8a" stroke-width="1"/>
<line x1="386.3" y1="23.4" x2="388.3" y2="23.4" stroke="#8a8a8a" stroke-width="1"/>
<line x1="535.5" y1="23.4" x2="533.5" y2="23.4" stroke="#8a8a8a" stroke-width="1"/>
<line x1="386.3" y1="41.9" x2="389.3" y2="41.9" stroke="#8a8a8a" stroke-width="1"/>
<line x1="535.5" y1="41.9" x2="532.5" y2="41.9" stroke="#8a8a8a" stroke-width="1"/>
<text x="379.3" y="41.9" font-family="'Liberation Sans', Arial, sans-serif" font-size="6.6" font-weight="normal" text-anchor="middle" dominant-baseline="central" fill="#000" transform="rotate(-90 379.3 41.9)" textLength="11.0" lengthAdjust="spacingAndGlyphs">14°S</text>
<line x1="386.3" y1="60.3" x2="388.3" y2="60.3" stroke="#8a8a8a" stroke-width="1"/>
<line x1="535.5" y1="60.3" x2="533.5" y2="60.3" stroke="#8a8a8a" stroke-width="1"/>
<line x1="386.3" y1="78.8" x2="389.3" y2="78.8" stroke="#8a8a8a" stroke-width="1"/>
<line x1="535.5" y1="78.8" x2="532.5" y2="78.8" stroke="#8a8a8a" stroke-width="1"/>
<text x="379.3" y="78.8" font-family="'Liberation Sans', Arial, sans-serif" font-size="6.6" font-weight="normal" text-anchor="middle" dominant-baseline="central" fill="#000" transform="rotate(-90 379.3 78.8)" textLength="11.0" lengthAdjust="spacingAndGlyphs">16°S</text>
<line x1="386.3" y1="97.2" x2="388.3" y2="97.2" stroke="#8a8a8a" stroke-width="1"/>
<line x1="535.5" y1="97.2" x2="533.5" y2="97.2" stroke="#8a8a8a" stroke-width="1"/>
<line x1="386.3" y1="115.7" x2="389.3" y2="115.7" stroke="#8a8a8a" stroke-width="1"/>
<line x1="535.5" y1="115.7" x2="532.5" y2="115.7" stroke="#8a8a8a" stroke-width="1"/>
<text x="379.3" y="115.69999999999999" font-family="'Liberation Sans', Arial, sans-serif" font-size="6.6" font-weight="normal" text-anchor="middle" dominant-baseline="central" fill="#000" transform="rotate(-90 379.3 115.69999999999999)" textLength="11.0" lengthAdjust="spacingAndGlyphs">18°S</text>
<line x1="386.3" y1="134.2" x2="388.3" y2="134.2" stroke="#8a8a8a" stroke-width="1"/>
<line x1="535.5" y1="134.2" x2="533.5" y2="134.2" stroke="#8a8a8a" stroke-width="1"/>
<line x1="386.3" y1="152.6" x2="389.3" y2="152.6" stroke="#8a8a8a" stroke-width="1"/>
<line x1="535.5" y1="152.6" x2="532.5" y2="152.6" stroke="#8a8a8a" stroke-width="1"/>
<text x="379.3" y="152.6" font-family="'Liberation Sans', Arial, sans-serif" font-size="6.6" font-weight="normal" text-anchor="middle" dominant-baseline="central" fill="#000" transform="rotate(-90 379.3 152.6)" textLength="11.0" lengthAdjust="spacingAndGlyphs">20°S</text>
<line x1="386.3" y1="171.1" x2="388.3" y2="171.1" stroke="#8a8a8a" stroke-width="1"/>
<line x1="535.5" y1="171.1" x2="533.5" y2="171.1" stroke="#8a8a8a" stroke-width="1"/>
<line x1="386.3" y1="189.5" x2="389.3" y2="189.5" stroke="#8a8a8a" stroke-width="1"/>
<line x1="535.5" y1="189.5" x2="532.5" y2="189.5" stroke="#8a8a8a" stroke-width="1"/>
<text x="379.3" y="189.5" font-family="'Liberation Sans', Arial, sans-serif" font-size="6.6" font-weight="normal" text-anchor="middle" dominant-baseline="central" fill="#000" transform="rotate(-90 379.3 189.5)" textLength="11.0" lengthAdjust="spacingAndGlyphs">22°S</text>
<line x1="386.3" y1="207.9" x2="388.3" y2="207.9" stroke="#8a8a8a" stroke-width="1"/>
<line x1="535.5" y1="207.9" x2="533.5" y2="207.9" stroke="#8a8a8a" stroke-width="1"/>
<line x1="386.3" y1="226.4" x2="389.3" y2="226.4" stroke="#8a8a8a" stroke-width="1"/>
<line x1="535.5" y1="226.4" x2="532.5" y2="226.4" stroke="#8a8a8a" stroke-width="1"/>
<text x="379.3" y="226.4" font-family="'Liberation Sans', Arial, sans-serif" font-size="6.6" font-weight="normal" text-anchor="middle" dominant-baseline="central" fill="#000" transform="rotate(-90 379.3 226.4)" textLength="11.0" lengthAdjust="spacingAndGlyphs">24°S</text>
<line x1="386.3" y1="244.8" x2="388.3" y2="244.8" stroke="#8a8a8a" stroke-width="1"/>
<line x1="535.5" y1="244.8" x2="533.5" y2="244.8" stroke="#8a8a8a" stroke-width="1"/>
<line x1="386.3" y1="263.3" x2="389.3" y2="263.3" stroke="#8a8a8a" stroke-width="1"/>
<line x1="535.5" y1="263.3" x2="532.5" y2="263.3" stroke="#8a8a8a" stroke-width="1"/>
<text x="379.3" y="263.29999999999995" font-family="'Liberation Sans', Arial, sans-serif" font-size="6.6" font-weight="normal" text-anchor="middle" dominant-baseline="central" fill="#000" transform="rotate(-90 379.3 263.29999999999995)" textLength="11.0" lengthAdjust="spacingAndGlyphs">26°S</text>
<text x="460.9" y="283.6" font-family="'Liberation Sans', Arial, sans-serif" font-size="7.6" font-weight="normal" text-anchor="middle" dominant-baseline="central" fill="#000" textLength="31.0" lengthAdjust="spacingAndGlyphs">Longitude</text>
<text x="373.0" y="133.9" font-family="'Liberation Sans', Arial, sans-serif" font-size="7.2" font-weight="normal" text-anchor="middle" dominant-baseline="central" fill="#000" transform="rotate(-90 373.0 133.9)">Latitude</text>
</g>
<g id="panel-d">
<clipPath id="dat-d"><rect x="23.8" y="296.5" width="157.9" height="259.1"/></clipPath>
<g clip-path="url(#dat-d)">
<polygon points="23.8,296.5 181.7,296.5 181.7,555.6 23.8,555.6" fill="#ff6a4a"/>
<polygon points="23.8,296.5 140.0,296.5 140.0,310.0 125.0,316.0 110.0,318.0 100.4,319.0 84.3,321.3 68.2,322.2 55.4,315.7 40.0,309.0 29.6,305.3 23.8,306.0" fill="#f7876a"/>
<polygon points="52.0,296.5 140.0,296.5 140.0,309.0 110.0,306.0 80.0,304.0 60.0,302.0" fill="#f48478"/>
<polygon points="78.0,296.5 135.0,296.5 138.0,306.0 125.0,303.0 105.0,301.0 90.0,299.0" fill="#ffa41a"/>
<polygon points="23.8,365.6 30.0,352.0 36.1,347.9 39.3,343.9 47.3,346.3 50.5,354.3 47.3,364.0 52.2,365.6 68.2,360.7 77.9,354.3 84.3,343.0 92.3,336.6 103.6,333.4 112.0,330.0 122.0,322.0 132.0,316.0 140.0,318.0 140.0,470.0 60.0,482.0 39.3,478.0 33.0,476.0 23.8,476.0" fill="#ff0a0a"/>
<polygon points="23.8,383.2 39.3,383.2 40.9,402.5 39.3,420.2 23.8,421.8" fill="#ff6a4a"/>
<polygon points="57.0,371.0 68.0,367.0 80.0,366.0 92.0,371.0 110.0,360.0 110.0,380.0 70.0,380.0 62.0,385.0 60.0,478.0 45.0,479.0 39.3,478.0 35.0,470.0 32.9,455.0 33.0,440.0 36.1,426.7 40.0,415.0 44.1,402.5 45.7,380.0 52.0,375.0" fill="#a81e1e"/>
<polygon points="52.0,392.0 56.0,388.0 60.0,392.0 60.0,470.0 50.0,468.0 48.0,440.0 50.0,420.0" fill="#8a1616"/>
<polygon points="53.0,428.0 57.0,426.0 60.0,432.0 58.0,442.0 54.0,441.0" fill="#e0309a"/>
<polygon points="23.8,476.0 40.0,478.0 70.0,484.0 66.0,560.0 23.8,560.0" fill="#f88070"/>
<polygon points="23.8,489.0 35.0,490.0 45.0,497.0 70.0,505.0 66.0,560.0 23.8,560.0" fill="#ffa43a"/>
<polygon points="23.8,500.0 35.0,502.0 47.0,508.0 70.0,515.0 66.0,560.0 23.8,560.0" fill="#ffdc20"/>
<polygon points="23.8,507.0 35.0,510.0 48.0,515.0 70.0,520.0 66.0,560.0 23.8,560.0" fill="#f2e8a8"/>
<polygon points="23.8,514.0 35.0,517.0 50.0,522.0 70.0,527.0 66.0,560.0 23.8,560.0" fill="#7ce830"/>
<polygon points="23.8,520.0 35.0,523.0 50.0,528.0 70.0,532.0 66.0,560.0 23.8,560.0" fill="#10d010"/>
<polygon points="23.8,527.0 35.0,530.0 55.0,533.0 70.0,537.0 66.0,560.0 23.8,560.0" fill="#20e8c8"/>
<polygon points="23.8,532.0 35.0,535.0 55.0,538.0 75.0,540.0 66.0,560.0 23.8,560.0" fill="#10e8f8"/>
<polygon points="23.8,538.0 40.0,541.0 60.0,543.0 80.0,544.0 66.0,560.0 23.8,560.0" fill="#40c8e0"/>
<polygon points="23.8,544.0 40.0,546.0 60.0,547.0 80.0,547.0 66.0,560.0 23.8,560.0" fill="#3a8cf0"/>
<polygon points="23.8,550.0 40.0,551.0 60.0,552.0 80.0,552.0 66.0,560.0 23.8,560.0" fill="#4a64e8"/>
<polygon points="141.0,296.0 181.7,296.0 181.7,560.0 120.0,560.0 125.0,440.0 135.0,400.0 140.0,350.0 141.0,310.0" fill="#ede2a4"/>
<polygon points="110.0,384.0 149.1,388.5 155.8,402.0 167.7,400.3 177.8,395.2 181.7,393.5 181.7,560.0 110.0,560.0" fill="#ffff1e"/>
<polygon points="110.0,440.0 144.0,430.8 149.0,440.0 159.2,432.5 171.1,420.6 181.7,412.1 181.7,560.0 110.0,560.0" fill="#b0f830"/>
<polygon points="110.0,450.0 133.8,447.7 135.5,459.5 150.8,451.0 167.7,441.0 181.7,432.5 181.7,560.0 110.0,560.0" fill="#10ee10"/>
<polygon points="105.0,465.0 127.1,468.0 135.5,476.4 154.1,461.2 167.7,452.8 181.7,447.7 181.7,560.0 105.0,560.0" fill="#30c830"/>
<polygon points="105.0,472.0 125.4,474.8 133.8,486.6 154.1,471.4 181.7,462.9 181.7,560.0 105.0,560.0" fill="#30f870"/>
<polygon points="100.0,478.0 122.0,481.5 127.1,496.8 150.8,481.5 181.7,473.0 181.7,560.0 100.0,560.0" fill="#8cee8c"/>
<polygon points="100.0,487.0 120.3,490.0 123.7,505.2 150.8,491.7 181.7,483.2 181.7,560.0 100.0,560.0" fill="#70f8d0"/>
<polygon points="100.0,495.0 116.9,498.4 122.0,515.4 150.8,501.8 181.7,495.0 181.7,560.0 100.0,560.0" fill="#10f8f8"/>
<polygon points="100.0,505.0 113.5,508.6 120.3,523.8 150.8,512.0 181.7,505.2 181.7,560.0 100.0,560.0" fill="#40e0d8"/>
<polygon points="100.0,515.0 111.8,518.7 116.9,532.3 150.8,520.4 181.7,515.4 181.7,560.0 100.0,560.0" fill="#20c8e8"/>
<polygon points="100.0,525.0 108.5,527.0 115.2,542.4 150.8,528.9 181.7,525.5 181.7,560.0 100.0,560.0" fill="#2890f8"/>
<polygon points="100.0,532.0 106.0,533.0 113.5,547.5 150.8,537.4 181.7,528.9 181.7,560.0 100.0,560.0" fill="#7a6aee"/>
<polygon points="100.0,540.0 111.8,550.9 150.8,542.4 181.7,539.0 181.7,560.0 100.0,560.0" fill="#6250d0"/>
<polygon points="100.0,553.0 125.4,550.9 150.8,549.2 181.7,548.0 181.7,560.0 100.0,560.0" fill="#1818e8"/>
<polygon points="54.0,560.0 53.0,550.0 56.0,541.0 62.0,534.0 75.0,530.0 90.0,528.0 100.0,526.0 106.0,534.0 110.0,544.0 114.0,551.0 120.0,556.0 124.0,560.0" fill="#7266e6"/>
<polygon points="86.0,538.0 94.0,533.0 102.0,530.0 106.0,537.0 100.0,544.0 90.0,544.0" fill="#1010b8"/>
<polygon points="165.0,330.0 181.7,320.0 181.7,392.0 172.0,390.0 162.0,370.0" fill="#f2eac0"/>
<polygon points="136.0,296.5 150.0,296.5 152.0,310.0 151.0,320.0 146.0,322.0 140.0,312.0 136.0,302.0" fill="#a8e844"/>
<polygon points="148.0,296.5 154.0,296.5 159.0,310.0 158.0,322.0 152.0,326.0 151.0,312.0" fill="#ffff30"/>
<polygon points="149.4,366.0 153.0,364.0 155.6,369.0 154.0,376.0 150.0,375.0" fill="#ffa41a"/>
</g>
<polygon points="140.4,307.9 145.8,309.4 150.2,317.0 154.5,324.6 156.7,334.4 158.9,345.2 162.2,356.1 163.3,363.7 159.9,372.4 156.7,373.6 152.3,368.1 149.0,364.8 150.2,375.7 152.4,380.1 153.2,383.3 149.0,388.2 145.8,393.2 145.8,399.7 144.1,412.8 140.9,424.1 136.8,435.6 132.7,448.6 128.6,460.1 125.1,467.1 120.7,481.6 116.3,496.1 111.9,510.2 108.6,516.8 103.7,526.6 97.2,531.5 89.0,535.6 82.4,538.1 75.9,539.7 69.3,539.7 61.1,534.7 53.0,529.8 48.0,525.0 44.7,516.8 44.7,508.6 43.6,502.1 39.8,494.0 37.3,485.8 37.3,474.4 41.4,466.2 46.3,461.3 49.3,454.2 55.1,449.0 58.4,440.3 56.2,431.5 54.0,422.8 50.7,414.2 48.6,403.3 49.6,394.6 52.8,388.1 57.2,381.5 58.4,377.1 66.0,375.0 74.8,372.8 83.4,370.6 92.2,369.5 102.1,363.7 105.4,360.5 108.6,357.2 113.0,351.7 119.6,350.7 117.4,345.2 118.4,338.7 119.6,331.1 123.9,326.7 127.2,328.9 133.7,326.7 136.0,319.1 133.7,312.6 136.0,310.4" fill="#fff" stroke="#333" stroke-width="0.7"/>
<ellipse cx="38.5" cy="299" rx="2.5" ry="3.5" fill="#fff" stroke="#111" stroke-width="0.7"/>
<ellipse cx="44.7" cy="308.8" rx="1.6" ry="1.2" fill="#fff" stroke="#111" stroke-width="0.7"/>
<ellipse cx="55.5" cy="306.3" rx="2" ry="1.6" fill="#fff" stroke="#111" stroke-width="0.7"/>
<ellipse cx="69.7" cy="318" rx="1.8" ry="2.2" fill="#fff" stroke="#111" stroke-width="0.7"/>
<ellipse cx="124.5" cy="326.5" rx="1.5" ry="1.3" fill="#fff" stroke="#111" stroke-width="0.7"/>
<ellipse cx="120" cy="338" rx="1.8" ry="1.2" fill="#fff" stroke="#111" stroke-width="0.7"/>
<ellipse cx="113" cy="352" rx="1.6" ry="1.4" fill="#fff" stroke="#111" stroke-width="0.7"/>
<ellipse cx="104" cy="362" rx="1.8" ry="1.2" fill="#fff" stroke="#111" stroke-width="0.7"/>
<path d="M49,296.5 C52,300 55,304 58,308 M69,312 C80,312 100,313 118,316 C126,316 132,314 137,311 M24,302.5 C26,300 27,298 28.3,296.5" fill="none" stroke="#555" stroke-width="0.5"/>
<path d="M179,329 C172,331 169,340 170,346 C171,352 174,356 179,357" fill="none" stroke="#555" stroke-width="0.5"/>
<path d="M127,468 L135,476 L154,461 L181,447" fill="none" stroke="#333" stroke-width="0.5"/>
<path d="M112,509 L121,524 L150,512 L181,503" fill="none" stroke="#333" stroke-width="0.5"/>
<path d="M108,532 L114,547 L151,537 L181,529" fill="none" stroke="#333" stroke-width="0.5"/>
<path d="M24,507 L35,510 L48,515" fill="none" stroke="#333" stroke-width="0.5"/>
<rect x="58.3" y="306.6" width="10.6" height="9.8" fill="#fff"/>
<text x="63.6" y="312.0" font-family="'Liberation Sans', Arial, sans-serif" font-size="10.5" font-weight="bold" text-anchor="middle" dominant-baseline="central">29</text>
<rect x="37.7" y="451.3" width="16.1" height="8.9" fill="#fff"/>
<text x="45.8" y="456.2" font-family="'Liberation Sans', Arial, sans-serif" font-size="10.5" font-weight="bold" text-anchor="middle" dominant-baseline="central">29.5</text>
<rect x="159.2" y="452.0" width="10.4" height="8.6" fill="#fff"/>
<text x="164.4" y="456.8" font-family="'Liberation Sans', Arial, sans-serif" font-size="10.5" font-weight="bold" text-anchor="middle" dominant-baseline="central">28</text>
<rect x="161.8" y="492.5" width="16.9" height="7.8" fill="#fff"/>
<text x="170.2" y="496.9" font-family="'Liberation Sans', Arial, sans-serif" font-size="10.5" font-weight="bold" text-anchor="middle" dominant-baseline="central">27.5</text>
<rect x="167.7" y="520.4" width="10.1" height="8.5" fill="#fff"/>
<text x="172.8" y="525.1" font-family="'Liberation Sans', Arial, sans-serif" font-size="10.5" font-weight="bold" text-anchor="middle" dominant-baseline="central">27</text>
<rect x="26.4" y="521.3" width="9.7" height="8.8" fill="#fff"/>
<text x="31.2" y="526.2" font-family="'Liberation Sans', Arial, sans-serif" font-size="10.5" font-weight="bold" text-anchor="middle" dominant-baseline="central">28</text>
<rect x="83.5" y="547.0" width="16.1" height="8.0" fill="#fff"/>
<text x="91.5" y="551.5" font-family="'Liberation Sans', Arial, sans-serif" font-size="10.5" font-weight="bold" text-anchor="middle" dominant-baseline="central">26.5</text>
<rect x="19.0" y="292.4" width="166.7" height="267.1" fill="none" stroke="#8a8a8a" stroke-width="1"/>
<line x1="32.7" y1="559.5" x2="32.7" y2="556.5" stroke="#8a8a8a" stroke-width="1"/>
<line x1="32.7" y1="292.4" x2="32.7" y2="295.4" stroke="#8a8a8a" stroke-width="1"/>
<line x1="50.0" y1="559.5" x2="50.0" y2="556.5" stroke="#8a8a8a" stroke-width="1"/>
<line x1="50.0" y1="292.4" x2="50.0" y2="295.4" stroke="#8a8a8a" stroke-width="1"/>
<text x="50.0" y="567.2" font-family="'Liberation Sans', Arial, sans-serif" font-size="6.6" font-weight="normal" text-anchor="middle" dominant-baseline="central" fill="#000" textLength="11.0" lengthAdjust="spacingAndGlyphs">44°E</text>
<line x1="67.3" y1="559.5" x2="67.3" y2="556.5" stroke="#8a8a8a" stroke-width="1"/>
<line x1="67.3" y1="292.4" x2="67.3" y2="295.4" stroke="#8a8a8a" stroke-width="1"/>
<line x1="84.5" y1="559.5" x2="84.5" y2="556.5" stroke="#8a8a8a" stroke-width="1"/>
<line x1="84.5" y1="292.4" x2="84.5" y2="295.4" stroke="#8a8a8a" stroke-width="1"/>
<text x="84.53999999999999" y="567.2" font-family="'Liberation Sans', Arial, sans-serif" font-size="6.6" font-weight="normal" text-anchor="middle" dominant-baseline="central" fill="#000" textLength="11.0" lengthAdjust="spacingAndGlyphs">46°E</text>
<line x1="101.8" y1="559.5" x2="101.8" y2="556.5" stroke="#8a8a8a" stroke-width="1"/>
<line x1="101.8" y1="292.4" x2="101.8" y2="295.4" stroke="#8a8a8a" stroke-width="1"/>
<line x1="119.1" y1="559.5" x2="119.1" y2="556.5" stroke="#8a8a8a" stroke-width="1"/>
<line x1="119.1" y1="292.4" x2="119.1" y2="295.4" stroke="#8a8a8a" stroke-width="1"/>
<text x="119.08" y="567.2" font-family="'Liberation Sans', Arial, sans-serif" font-size="6.6" font-weight="normal" text-anchor="middle" dominant-baseline="central" fill="#000" textLength="11.0" lengthAdjust="spacingAndGlyphs">48°E</text>
<line x1="136.3" y1="559.5" x2="136.3" y2="556.5" stroke="#8a8a8a" stroke-width="1"/>
<line x1="136.3" y1="292.4" x2="136.3" y2="295.4" stroke="#8a8a8a" stroke-width="1"/>
<line x1="153.6" y1="559.5" x2="153.6" y2="556.5" stroke="#8a8a8a" stroke-width="1"/>
<line x1="153.6" y1="292.4" x2="153.6" y2="295.4" stroke="#8a8a8a" stroke-width="1"/>
<text x="153.62" y="567.2" font-family="'Liberation Sans', Arial, sans-serif" font-size="6.6" font-weight="normal" text-anchor="middle" dominant-baseline="central" fill="#000" textLength="11.0" lengthAdjust="spacingAndGlyphs">50°E</text>
<line x1="170.9" y1="559.5" x2="170.9" y2="556.5" stroke="#8a8a8a" stroke-width="1"/>
<line x1="170.9" y1="292.4" x2="170.9" y2="295.4" stroke="#8a8a8a" stroke-width="1"/>
<line x1="19.0" y1="306.3" x2="22.0" y2="306.3" stroke="#8a8a8a" stroke-width="1"/>
<line x1="185.7" y1="306.3" x2="182.7" y2="306.3" stroke="#8a8a8a" stroke-width="1"/>
<text x="12.7" y="306.3" font-family="'Liberation Sans', Arial, sans-serif" font-size="6.6" font-weight="normal" text-anchor="middle" dominant-baseline="central" fill="#000" transform="rotate(-90 12.7 306.3)" textLength="10.5" lengthAdjust="spacingAndGlyphs">12°S</text>
<line x1="19.0" y1="323.4" x2="22.0" y2="323.4" stroke="#8a8a8a" stroke-width="1"/>
<line x1="185.7" y1="323.4" x2="182.7" y2="323.4" stroke="#8a8a8a" stroke-width="1"/>
<line x1="19.0" y1="340.5" x2="22.0" y2="340.5" stroke="#8a8a8a" stroke-width="1"/>
<line x1="185.7" y1="340.5" x2="182.7" y2="340.5" stroke="#8a8a8a" stroke-width="1"/>
<text x="12.7" y="340.54" font-family="'Liberation Sans', Arial, sans-serif" font-size="6.6" font-weight="normal" text-anchor="middle" dominant-baseline="central" fill="#000" transform="rotate(-90 12.7 340.54)" textLength="10.5" lengthAdjust="spacingAndGlyphs">14°S</text>
<line x1="19.0" y1="357.7" x2="22.0" y2="357.7" stroke="#8a8a8a" stroke-width="1"/>
<line x1="185.7" y1="357.7" x2="182.7" y2="357.7" stroke="#8a8a8a" stroke-width="1"/>
<line x1="19.0" y1="374.8" x2="22.0" y2="374.8" stroke="#8a8a8a" stroke-width="1"/>
<line x1="185.7" y1="374.8" x2="182.7" y2="374.8" stroke="#8a8a8a" stroke-width="1"/>
<text x="12.7" y="374.78000000000003" font-family="'Liberation Sans', Arial, sans-serif" font-size="6.6" font-weight="normal" text-anchor="middle" dominant-baseline="central" fill="#000" transform="rotate(-90 12.7 374.78000000000003)" textLength="10.5" lengthAdjust="spacingAndGlyphs">16°S</text>
<line x1="19.0" y1="391.9" x2="22.0" y2="391.9" stroke="#8a8a8a" stroke-width="1"/>
<line x1="185.7" y1="391.9" x2="182.7" y2="391.9" stroke="#8a8a8a" stroke-width="1"/>
<line x1="19.0" y1="409.0" x2="22.0" y2="409.0" stroke="#8a8a8a" stroke-width="1"/>
<line x1="185.7" y1="409.0" x2="182.7" y2="409.0" stroke="#8a8a8a" stroke-width="1"/>
<text x="12.7" y="409.02" font-family="'Liberation Sans', Arial, sans-serif" font-size="6.6" font-weight="normal" text-anchor="middle" dominant-baseline="central" fill="#000" transform="rotate(-90 12.7 409.02)" textLength="10.5" lengthAdjust="spacingAndGlyphs">18°S</text>
<line x1="19.0" y1="426.1" x2="22.0" y2="426.1" stroke="#8a8a8a" stroke-width="1"/>
<line x1="185.7" y1="426.1" x2="182.7" y2="426.1" stroke="#8a8a8a" stroke-width="1"/>
<line x1="19.0" y1="443.3" x2="22.0" y2="443.3" stroke="#8a8a8a" stroke-width="1"/>
<line x1="185.7" y1="443.3" x2="182.7" y2="443.3" stroke="#8a8a8a" stroke-width="1"/>
<text x="12.7" y="443.26" font-family="'Liberation Sans', Arial, sans-serif" font-size="6.6" font-weight="normal" text-anchor="middle" dominant-baseline="central" fill="#000" transform="rotate(-90 12.7 443.26)" textLength="10.5" lengthAdjust="spacingAndGlyphs">20°S</text>
<line x1="19.0" y1="460.4" x2="22.0" y2="460.4" stroke="#8a8a8a" stroke-width="1"/>
<line x1="185.7" y1="460.4" x2="182.7" y2="460.4" stroke="#8a8a8a" stroke-width="1"/>
<line x1="19.0" y1="477.5" x2="22.0" y2="477.5" stroke="#8a8a8a" stroke-width="1"/>
<line x1="185.7" y1="477.5" x2="182.7" y2="477.5" stroke="#8a8a8a" stroke-width="1"/>
<text x="12.7" y="477.5" font-family="'Liberation Sans', Arial, sans-serif" font-size="6.6" font-weight="normal" text-anchor="middle" dominant-baseline="central" fill="#000" transform="rotate(-90 12.7 477.5)" textLength="10.5" lengthAdjust="spacingAndGlyphs">22°S</text>
<line x1="19.0" y1="494.6" x2="22.0" y2="494.6" stroke="#8a8a8a" stroke-width="1"/>
<line x1="185.7" y1="494.6" x2="182.7" y2="494.6" stroke="#8a8a8a" stroke-width="1"/>
<line x1="19.0" y1="511.7" x2="22.0" y2="511.7" stroke="#8a8a8a" stroke-width="1"/>
<line x1="185.7" y1="511.7" x2="182.7" y2="511.7" stroke="#8a8a8a" stroke-width="1"/>
<text x="12.7" y="511.74" font-family="'Liberation Sans', Arial, sans-serif" font-size="6.6" font-weight="normal" text-anchor="middle" dominant-baseline="central" fill="#000" transform="rotate(-90 12.7 511.74)" textLength="10.5" lengthAdjust="spacingAndGlyphs">24°S</text>
<line x1="19.0" y1="528.9" x2="22.0" y2="528.9" stroke="#8a8a8a" stroke-width="1"/>
<line x1="185.7" y1="528.9" x2="182.7" y2="528.9" stroke="#8a8a8a" stroke-width="1"/>
<line x1="19.0" y1="546.0" x2="22.0" y2="546.0" stroke="#8a8a8a" stroke-width="1"/>
<line x1="185.7" y1="546.0" x2="182.7" y2="546.0" stroke="#8a8a8a" stroke-width="1"/>
<text x="12.7" y="545.98" font-family="'Liberation Sans', Arial, sans-serif" font-size="6.6" font-weight="normal" text-anchor="middle" dominant-baseline="central" fill="#000" transform="rotate(-90 12.7 545.98)" textLength="10.5" lengthAdjust="spacingAndGlyphs">26°S</text>
<text x="102.0" y="573.8" font-family="'Liberation Sans', Arial, sans-serif" font-size="7.2" font-weight="normal" text-anchor="middle" dominant-baseline="central" fill="#000">lon</text>
<text x="5.5" y="426.4" font-family="'Liberation Sans', Arial, sans-serif" font-size="7.2" font-weight="normal" text-anchor="middle" dominant-baseline="central" fill="#000" transform="rotate(-90 5.5 426.4)">lat</text>
</g>
<g id="panel-e">
<clipPath id="dat-e"><rect x="206.8" y="296.0" width="155.0" height="259.7"/></clipPath>
<defs><radialGradient id="eor1" cx="0.35" cy="0.45" r="0.6"><stop offset="0" stop-color="#ff5010"/><stop offset="0.55" stop-color="#ffa010"/><stop offset="1" stop-color="#ffe010"/></radialGradient><radialGradient id="eor2" cx="0.4" cy="0.5" r="0.6"><stop offset="0" stop-color="#ff9020"/><stop offset="1" stop-color="#ffe818"/></radialGradient><radialGradient id="eor3" cx="0.5" cy="0.5" r="0.5"><stop offset="0" stop-color="#ffa020"/><stop offset="1" stop-color="#ffee20"/></radialGradient><radialGradient id="ebs"><stop offset="0" stop-color="#2070f0"/><stop offset="0.6" stop-color="#40a8f0"/><stop offset="1" stop-color="#70e0c0"/></radialGradient><radialGradient id="ebl" cx="0.4" cy="0.35" r="0.6"><stop offset="0" stop-color="#000"/><stop offset="0.45" stop-color="#000010"/><stop offset="0.6" stop-color="#0000c8"/><stop offset="0.8" stop-color="#2080ff"/><stop offset="1" stop-color="#60e0e0"/></radialGradient></defs>
<g clip-path="url(#dat-e)">
<polygon points="206.8,296.0 361.8,296.0 361.8,555.7 206.8,555.7" fill="#fcd9b2"/>
<polygon points="206.8,309.0 227.3,311.0 225.7,330.0 232.2,354.3 233.8,362.3 225.7,380.0 227.3,394.5 232.2,418.6 238.0,440.0 239.5,470.0 236.0,496.0 206.8,496.0" fill="#ffe818"/>
<ellipse cx="212" cy="338" rx="8" ry="26" fill="url(#eor1)"/>
<ellipse cx="211" cy="410" rx="6" ry="22" fill="url(#eor2)" opacity="0.8"/>
<polygon points="233.0,296.0 330.0,296.0 330.0,303.0 300.0,304.0 272.0,306.0 262.0,312.0 255.0,305.0 240.0,303.0" fill="#ffe818"/>
<polygon points="312.0,296.0 327.0,296.0 328.0,305.0 322.0,306.0 314.0,302.0" fill="#ff6a10"/>
<polygon points="326.0,296.0 361.8,296.0 361.8,330.0 352.0,328.0 340.0,318.0 332.0,306.0" fill="#40c8f0"/>
<ellipse cx="343" cy="303" rx="17" ry="15" fill="url(#ebl)"/>
<polygon points="350.0,318.0 361.8,312.0 361.8,354.0 352.0,352.0 350.0,335.0" fill="#78e0b8"/>
<polygon points="346.0,375.0 354.0,372.0 361.8,368.0 361.8,405.0 334.0,409.0 342.0,392.0" fill="#78e0b8"/>
<polygon points="326.6,407.2 361.8,404.0 361.8,425.0 330.0,426.0" fill="#60d8d0"/>
<polygon points="320.0,400.0 334.0,396.0 340.0,405.0 342.0,425.0 337.0,445.0 330.0,465.0 322.0,490.0 314.0,515.0 306.0,540.0 300.0,556.0 275.0,556.0 278.0,540.0 284.0,520.0 290.0,500.0 296.0,480.0 303.0,460.0 310.0,440.0 316.0,420.0" fill="#70e0c0"/>
<ellipse cx="324" cy="436" rx="6" ry="7" fill="url(#ebs)"/>
<ellipse cx="316" cy="470" rx="5" ry="7" fill="url(#ebs)"/>
<ellipse cx="309" cy="498" rx="5" ry="8" fill="url(#ebs)"/>
<ellipse cx="300" cy="522" rx="4" ry="5" fill="url(#ebs)"/>
<ellipse cx="328" cy="410" rx="6" ry="4" fill="url(#ebs)"/>
<polygon points="348.8,444.0 355.0,450.0 352.0,480.0 348.0,510.0 342.0,535.0 330.0,556.0 312.0,556.0 318.0,530.0 328.0,500.0 335.0,470.0 342.0,452.0" fill="#ffe818"/>
<ellipse cx="340" cy="495" rx="6" ry="28" fill="url(#eor3)" transform="rotate(18 340 495)"/>
<ellipse cx="346.7" cy="359" rx="3" ry="3" fill="#ffe818"/>
<polygon points="218.0,520.0 228.0,518.0 231.0,527.0 224.0,533.0 217.0,530.0" fill="#ffe818"/>
<polygon points="257.7,545.0 268.0,536.0 279.0,537.0 278.0,548.0 265.0,553.0 258.0,553.0" fill="#ffe818"/>
<ellipse cx="295.5" cy="533.5" rx="4" ry="4.5" fill="#ff7010"/>
<line x1="209.9" y1="304.7" x2="209.5" y2="308.4" stroke="#000" stroke-width="0.8"/>
<polygon points="209.3,310.6 208.2,308.3 210.8,308.6" fill="#000"/>
<line x1="219.5" y1="304.7" x2="218.1" y2="308.6" stroke="#000" stroke-width="0.8"/>
<polygon points="217.4,310.6 216.9,308.1 219.4,309.0" fill="#000"/>
<line x1="229.0" y1="305.0" x2="226.8" y2="308.5" stroke="#000" stroke-width="0.8"/>
<polygon points="225.6,310.3 225.7,307.8 227.9,309.2" fill="#000"/>
<line x1="238.2" y1="305.6" x2="235.7" y2="308.1" stroke="#000" stroke-width="0.8"/>
<polygon points="234.1,309.7 234.7,307.2 236.6,309.0" fill="#000"/>
<line x1="247.1" y1="306.2" x2="244.7" y2="307.9" stroke="#000" stroke-width="0.8"/>
<polygon points="242.9,309.1 243.9,306.8 245.5,308.9" fill="#000"/>
<line x1="255.8" y1="306.3" x2="253.7" y2="307.8" stroke="#000" stroke-width="0.8"/>
<polygon points="251.9,309.0 252.9,306.7 254.5,308.8" fill="#000"/>
<line x1="263.8" y1="306.5" x2="263.0" y2="307.3" stroke="#000" stroke-width="0.8"/>
<polygon points="261.6,308.8 262.1,306.5 263.9,308.1" fill="#000"/>
<line x1="271.0" y1="307.0" x2="271.2" y2="307.1" stroke="#000" stroke-width="0.8"/>
<polygon points="272.1,308.3 270.4,307.7 271.9,306.6" fill="#000"/>
<line x1="279.2" y1="307.2" x2="279.9" y2="307.5" stroke="#000" stroke-width="0.8"/>
<polygon points="281.6,308.1 279.5,308.5 280.3,306.5" fill="#000"/>
<line x1="288.2" y1="307.4" x2="288.7" y2="307.5" stroke="#000" stroke-width="0.8"/>
<polygon points="290.3,307.9 288.4,308.4 288.9,306.6" fill="#000"/>
<line x1="297.4" y1="307.9" x2="297.5" y2="307.9" stroke="#000" stroke-width="0.8"/>
<polygon points="298.8,307.4 297.7,308.7 297.2,307.1" fill="#000"/>
<line x1="306.4" y1="308.5" x2="306.6" y2="308.2" stroke="#000" stroke-width="0.8"/>
<polygon points="307.5,306.8 307.5,308.7 305.8,307.7" fill="#000"/>
<line x1="315.2" y1="308.9" x2="315.6" y2="308.1" stroke="#000" stroke-width="0.8"/>
<polygon points="316.4,306.4 316.6,308.6 314.6,307.6" fill="#000"/>
<line x1="324.4" y1="309.2" x2="324.6" y2="308.1" stroke="#000" stroke-width="0.8"/>
<polygon points="324.9,306.1 325.7,308.3 323.4,307.9" fill="#000"/>
<line x1="335.1" y1="310.3" x2="333.0" y2="306.8" stroke="#000" stroke-width="0.8"/>
<polygon points="331.9,305.0 334.1,306.2 331.9,307.5" fill="#000"/>
<line x1="344.8" y1="310.9" x2="341.2" y2="306.1" stroke="#000" stroke-width="0.8"/>
<polygon points="339.9,304.4 342.3,305.3 340.2,306.9" fill="#000"/>
<line x1="353.5" y1="310.7" x2="350.2" y2="306.3" stroke="#000" stroke-width="0.8"/>
<polygon points="348.9,304.6 351.3,305.5 349.2,307.1" fill="#000"/>
<line x1="362.2" y1="310.4" x2="359.3" y2="306.7" stroke="#000" stroke-width="0.8"/>
<polygon points="357.9,304.9 360.3,305.9 358.3,307.5" fill="#000"/>
<line x1="209.1" y1="313.5" x2="209.7" y2="317.3" stroke="#000" stroke-width="0.8"/>
<polygon points="210.1,319.5 208.4,317.6 211.0,317.1" fill="#000"/>
<line x1="219.8" y1="313.2" x2="217.9" y2="317.7" stroke="#000" stroke-width="0.8"/>
<polygon points="217.1,319.8 216.7,317.2 219.2,318.2" fill="#000"/>
<line x1="229.3" y1="313.6" x2="226.6" y2="317.6" stroke="#000" stroke-width="0.8"/>
<polygon points="225.3,319.4 225.5,316.8 227.7,318.3" fill="#000"/>
<line x1="238.6" y1="314.3" x2="235.4" y2="317.2" stroke="#000" stroke-width="0.8"/>
<polygon points="233.7,318.7 234.5,316.2 236.3,318.2" fill="#000"/>
<line x1="247.2" y1="315.1" x2="244.7" y2="316.7" stroke="#000" stroke-width="0.8"/>
<polygon points="242.8,317.9 244.0,315.6 245.4,317.8" fill="#000"/>
<line x1="256.0" y1="315.2" x2="253.6" y2="316.7" stroke="#000" stroke-width="0.8"/>
<polygon points="251.7,317.8 252.9,315.5 254.3,317.8" fill="#000"/>
<line x1="263.9" y1="315.4" x2="263.0" y2="316.2" stroke="#000" stroke-width="0.8"/>
<polygon points="261.5,317.6 262.1,315.3 263.8,317.1" fill="#000"/>
<line x1="270.5" y1="315.9" x2="271.1" y2="316.2" stroke="#000" stroke-width="0.8"/>
<polygon points="272.6,317.1 270.6,317.1 271.6,315.3" fill="#000"/>
<line x1="278.8" y1="316.1" x2="280.0" y2="316.4" stroke="#000" stroke-width="0.8"/>
<polygon points="282.0,316.9 279.7,317.6 280.3,315.2" fill="#000"/>
<line x1="288.0" y1="316.3" x2="288.8" y2="316.4" stroke="#000" stroke-width="0.8"/>
<polygon points="290.5,316.7 288.6,317.5 289.0,315.3" fill="#000"/>
<line x1="297.2" y1="316.9" x2="297.6" y2="316.7" stroke="#000" stroke-width="0.8"/>
<polygon points="299.0,316.1 297.9,317.6 297.2,315.9" fill="#000"/>
<line x1="306.2" y1="317.4" x2="306.6" y2="316.9" stroke="#000" stroke-width="0.8"/>
<polygon points="307.7,315.6 307.4,317.6 305.8,316.3" fill="#000"/>
<line x1="315.0" y1="317.8" x2="315.6" y2="316.9" stroke="#000" stroke-width="0.8"/>
<polygon points="316.6,315.2 316.6,317.5 314.6,316.3" fill="#000"/>
<line x1="324.1" y1="317.9" x2="324.5" y2="316.9" stroke="#000" stroke-width="0.8"/>
<polygon points="325.2,315.1 325.6,317.4 323.4,316.5" fill="#000"/>
<line x1="335.8" y1="319.8" x2="332.5" y2="315.0" stroke="#000" stroke-width="0.8"/>
<polygon points="331.2,313.2 333.5,314.3 331.4,315.8" fill="#000"/>
<line x1="345.2" y1="320.2" x2="340.8" y2="314.5" stroke="#000" stroke-width="0.8"/>
<polygon points="339.5,312.8 341.8,313.7 339.8,315.3" fill="#000"/>
<line x1="353.7" y1="319.9" x2="350.0" y2="314.9" stroke="#000" stroke-width="0.8"/>
<polygon points="348.7,313.1 351.0,314.1 348.9,315.7" fill="#000"/>
<line x1="362.3" y1="319.7" x2="359.0" y2="315.1" stroke="#000" stroke-width="0.8"/>
<polygon points="357.8,313.3 360.1,314.3 358.0,315.9" fill="#000"/>
<line x1="209.3" y1="322.3" x2="209.7" y2="326.2" stroke="#000" stroke-width="0.8"/>
<polygon points="209.9,328.4 208.4,326.3 211.0,326.0" fill="#000"/>
<line x1="219.7" y1="322.2" x2="218.0" y2="326.5" stroke="#000" stroke-width="0.8"/>
<polygon points="217.2,328.5 216.8,326.0 219.2,327.0" fill="#000"/>
<line x1="229.8" y1="322.6" x2="226.3" y2="326.4" stroke="#000" stroke-width="0.8"/>
<polygon points="224.8,328.1 225.3,325.5 227.3,327.3" fill="#000"/>
<line x1="239.0" y1="322.9" x2="235.0" y2="326.3" stroke="#000" stroke-width="0.8"/>
<polygon points="233.3,327.8 234.2,325.3 235.9,327.3" fill="#000"/>
<line x1="248.0" y1="323.6" x2="243.9" y2="326.0" stroke="#000" stroke-width="0.8"/>
<polygon points="242.0,327.1 243.3,324.8 244.6,327.1" fill="#000"/>
<line x1="256.3" y1="323.9" x2="253.3" y2="325.7" stroke="#000" stroke-width="0.8"/>
<polygon points="251.4,326.8 252.6,324.6 253.9,326.8" fill="#000"/>
<line x1="264.3" y1="324.2" x2="262.9" y2="325.2" stroke="#000" stroke-width="0.8"/>
<polygon points="261.1,326.5 262.2,324.1 263.7,326.3" fill="#000"/>
<line x1="271.2" y1="324.7" x2="271.2" y2="324.8" stroke="#000" stroke-width="0.8"/>
<polygon points="271.9,326.0 270.5,325.2 271.9,324.3" fill="#000"/>
<line x1="279.1" y1="324.9" x2="279.9" y2="325.2" stroke="#000" stroke-width="0.8"/>
<polygon points="281.7,325.8 279.6,326.3 280.3,324.1" fill="#000"/>
<line x1="288.2" y1="325.4" x2="288.7" y2="325.4" stroke="#000" stroke-width="0.8"/>
<polygon points="290.3,325.3 288.7,326.4 288.6,324.4" fill="#000"/>
<line x1="296.9" y1="326.1" x2="297.7" y2="325.6" stroke="#000" stroke-width="0.8"/>
<polygon points="299.3,324.6 298.3,326.6 297.1,324.7" fill="#000"/>
<line x1="305.9" y1="326.1" x2="306.5" y2="325.7" stroke="#000" stroke-width="0.8"/>
<polygon points="308.0,324.6 307.2,326.5 305.9,324.8" fill="#000"/>
<line x1="315.2" y1="326.5" x2="315.6" y2="325.8" stroke="#000" stroke-width="0.8"/>
<polygon points="316.4,324.2 316.5,326.3 314.6,325.3" fill="#000"/>
<line x1="324.7" y1="326.9" x2="324.7" y2="325.8" stroke="#000" stroke-width="0.8"/>
<polygon points="324.6,323.8 325.8,325.8 323.5,325.8" fill="#000"/>
<line x1="335.5" y1="328.2" x2="332.8" y2="324.3" stroke="#000" stroke-width="0.8"/>
<polygon points="331.5,322.5 333.8,323.5 331.7,325.1" fill="#000"/>
<line x1="344.9" y1="328.7" x2="341.1" y2="323.8" stroke="#000" stroke-width="0.8"/>
<polygon points="339.8,322.0 342.2,323.0 340.1,324.6" fill="#000"/>
<line x1="353.7" y1="329.1" x2="349.9" y2="323.4" stroke="#000" stroke-width="0.8"/>
<polygon points="348.7,321.6 351.0,322.7 348.8,324.1" fill="#000"/>
<line x1="362.5" y1="329.1" x2="358.8" y2="323.4" stroke="#000" stroke-width="0.8"/>
<polygon points="357.6,321.6 359.9,322.7 357.7,324.1" fill="#000"/>
<line x1="209.9" y1="331.1" x2="209.5" y2="335.2" stroke="#000" stroke-width="0.8"/>
<polygon points="209.3,337.3 208.2,335.0 210.8,335.3" fill="#000"/>
<line x1="219.5" y1="331.1" x2="218.1" y2="335.2" stroke="#000" stroke-width="0.8"/>
<polygon points="217.4,337.3 216.9,334.7 219.4,335.6" fill="#000"/>
<line x1="228.9" y1="331.1" x2="226.7" y2="335.3" stroke="#000" stroke-width="0.8"/>
<polygon points="225.7,337.3 225.5,334.7 227.9,335.9" fill="#000"/>
<line x1="238.4" y1="331.6" x2="235.4" y2="335.1" stroke="#000" stroke-width="0.8"/>
<polygon points="233.9,336.8 234.4,334.2 236.4,336.0" fill="#000"/>
<line x1="248.1" y1="332.5" x2="243.8" y2="334.8" stroke="#000" stroke-width="0.8"/>
<polygon points="241.9,335.9 243.2,333.7 244.5,336.0" fill="#000"/>
<line x1="256.4" y1="333.1" x2="253.3" y2="334.4" stroke="#000" stroke-width="0.8"/>
<polygon points="251.3,335.3 252.8,333.2 253.8,335.6" fill="#000"/>
<line x1="264.9" y1="333.2" x2="262.5" y2="334.3" stroke="#000" stroke-width="0.8"/>
<polygon points="260.5,335.2 262.0,333.1 263.1,335.5" fill="#000"/>
<line x1="272.2" y1="333.5" x2="271.9" y2="333.7" stroke="#000" stroke-width="0.8"/>
<polygon points="270.9,334.9 271.2,333.1 272.7,334.3" fill="#000"/>
<line x1="280.0" y1="333.8" x2="279.9" y2="333.6" stroke="#000" stroke-width="0.8"/>
<polygon points="280.8,334.6 279.3,334.2 280.5,333.1" fill="#000"/>
<line x1="288.6" y1="334.2" x2="288.6" y2="334.2" stroke="#000" stroke-width="0.8"/>
<polygon points="289.9,334.2 288.6,335.1 288.5,333.4" fill="#000"/>
<line x1="296.9" y1="334.9" x2="297.7" y2="334.5" stroke="#000" stroke-width="0.8"/>
<polygon points="299.3,333.5 298.3,335.4 297.1,333.5" fill="#000"/>
<line x1="305.9" y1="334.9" x2="306.5" y2="334.5" stroke="#000" stroke-width="0.8"/>
<polygon points="308.0,333.5 307.1,335.4 305.9,333.6" fill="#000"/>
<line x1="315.4" y1="334.9" x2="315.5" y2="334.8" stroke="#000" stroke-width="0.8"/>
<polygon points="316.2,333.5 316.3,335.2 314.7,334.4" fill="#000"/>
<line x1="325.1" y1="335.2" x2="324.9" y2="334.7" stroke="#000" stroke-width="0.8"/>
<polygon points="324.2,333.2 325.8,334.3 324.0,335.1" fill="#000"/>
<line x1="334.9" y1="335.4" x2="333.8" y2="334.4" stroke="#000" stroke-width="0.8"/>
<polygon points="332.1,333.0 334.6,333.4 332.9,335.4" fill="#000"/>
<line x1="344.1" y1="335.2" x2="342.5" y2="334.3" stroke="#000" stroke-width="0.8"/>
<polygon points="340.6,333.2 343.2,333.1 341.8,335.4" fill="#000"/>
<line x1="353.4" y1="337.0" x2="350.4" y2="333.1" stroke="#000" stroke-width="0.8"/>
<polygon points="349.0,331.4 351.4,332.3 349.3,334.0" fill="#000"/>
<line x1="362.4" y1="337.4" x2="359.0" y2="332.7" stroke="#000" stroke-width="0.8"/>
<polygon points="357.7,331.0 360.1,332.0 357.9,333.5" fill="#000"/>
<line x1="209.6" y1="339.7" x2="209.6" y2="344.2" stroke="#000" stroke-width="0.8"/>
<polygon points="209.6,346.4 208.3,344.2 210.9,344.2" fill="#000"/>
<line x1="219.0" y1="339.8" x2="218.3" y2="344.1" stroke="#000" stroke-width="0.8"/>
<polygon points="217.9,346.3 217.0,343.9 219.6,344.3" fill="#000"/>
<line x1="228.6" y1="339.8" x2="226.8" y2="344.3" stroke="#000" stroke-width="0.8"/>
<polygon points="226.0,346.3 225.6,343.8 228.1,344.8" fill="#000"/>
<line x1="237.6" y1="340.1" x2="235.6" y2="344.1" stroke="#000" stroke-width="0.8"/>
<polygon points="234.7,346.0 234.5,343.5 236.8,344.7" fill="#000"/>
<line x1="247.2" y1="341.3" x2="244.5" y2="343.4" stroke="#000" stroke-width="0.8"/>
<polygon points="242.8,344.8 243.7,342.4 245.3,344.5" fill="#000"/>
<line x1="256.3" y1="342.0" x2="253.5" y2="343.2" stroke="#000" stroke-width="0.8"/>
<polygon points="251.4,344.1 253.0,342.0 254.0,344.4" fill="#000"/>
<line x1="264.7" y1="342.1" x2="262.7" y2="343.1" stroke="#000" stroke-width="0.8"/>
<polygon points="260.7,344.0 262.1,341.9 263.2,344.3" fill="#000"/>
<line x1="272.1" y1="342.4" x2="272.0" y2="342.5" stroke="#000" stroke-width="0.8"/>
<polygon points="271.0,343.7 271.2,342.0 272.7,343.1" fill="#000"/>
<line x1="280.1" y1="342.6" x2="279.9" y2="342.5" stroke="#000" stroke-width="0.8"/>
<polygon points="280.7,343.5 279.3,343.0 280.5,342.0" fill="#000"/>
<line x1="288.8" y1="342.7" x2="288.7" y2="342.5" stroke="#000" stroke-width="0.8"/>
<polygon points="289.7,343.4 288.2,343.1 289.2,342.0" fill="#000"/>
<line x1="297.6" y1="343.1" x2="297.4" y2="343.1" stroke="#000" stroke-width="0.8"/>
<polygon points="298.6,343.0 297.4,343.9 297.3,342.3" fill="#000"/>
<line x1="306.4" y1="343.3" x2="306.3" y2="343.4" stroke="#000" stroke-width="0.8"/>
<polygon points="307.5,342.8 306.7,344.1 305.9,342.7" fill="#000"/>
<circle cx="315.7" cy="343.3" r="0.7" fill="#000"/>
<line x1="325.2" y1="343.2" x2="325.3" y2="343.3" stroke="#000" stroke-width="0.8"/>
<polygon points="324.1,342.9 325.6,342.5 325.1,344.0" fill="#000"/>
<line x1="334.6" y1="342.5" x2="334.0" y2="342.8" stroke="#000" stroke-width="0.8"/>
<polygon points="332.4,343.6 333.5,341.9 334.5,343.7" fill="#000"/>
<line x1="343.4" y1="340.8" x2="342.2" y2="343.3" stroke="#000" stroke-width="0.8"/>
<polygon points="341.3,345.3 341.0,342.8 343.4,343.9" fill="#000"/>
<line x1="352.1" y1="340.0" x2="350.9" y2="344.0" stroke="#000" stroke-width="0.8"/>
<polygon points="350.3,346.1 349.7,343.6 352.2,344.4" fill="#000"/>
<line x1="361.4" y1="342.1" x2="360.4" y2="342.8" stroke="#000" stroke-width="0.8"/>
<polygon points="358.7,344.0 359.7,341.8 361.1,343.8" fill="#000"/>
<line x1="209.7" y1="348.6" x2="209.6" y2="353.0" stroke="#000" stroke-width="0.8"/>
<polygon points="209.5,355.2 208.2,353.0 210.9,353.0" fill="#000"/>
<line x1="218.8" y1="348.8" x2="218.4" y2="352.8" stroke="#000" stroke-width="0.8"/>
<polygon points="218.1,355.0 217.0,352.7 219.7,353.0" fill="#000"/>
<line x1="228.0" y1="348.9" x2="227.1" y2="352.7" stroke="#000" stroke-width="0.8"/>
<polygon points="226.6,354.9 225.8,352.4 228.4,353.0" fill="#000"/>
<line x1="237.2" y1="349.2" x2="235.9" y2="352.5" stroke="#000" stroke-width="0.8"/>
<polygon points="235.1,354.6 234.7,352.0 237.1,353.0" fill="#000"/>
<line x1="246.5" y1="350.0" x2="244.9" y2="352.1" stroke="#000" stroke-width="0.8"/>
<polygon points="243.5,353.8 243.8,351.3 245.9,352.9" fill="#000"/>
<line x1="255.4" y1="350.6" x2="254.0" y2="351.8" stroke="#000" stroke-width="0.8"/>
<polygon points="252.3,353.2 253.2,350.8 254.8,352.8" fill="#000"/>
<line x1="263.8" y1="351.0" x2="263.1" y2="351.6" stroke="#000" stroke-width="0.8"/>
<polygon points="261.6,352.8 262.3,350.7 263.8,352.5" fill="#000"/>
<line x1="271.8" y1="351.3" x2="271.8" y2="351.3" stroke="#000" stroke-width="0.8"/>
<polygon points="271.3,352.5 271.1,350.9 272.6,351.6" fill="#000"/>
<line x1="280.2" y1="351.5" x2="280.1" y2="351.2" stroke="#000" stroke-width="0.8"/>
<polygon points="280.6,352.3 279.4,351.5 280.8,350.9" fill="#000"/>
<circle cx="289.1" cy="351.6" r="0.7" fill="#000"/>
<circle cx="298.0" cy="351.7" r="0.7" fill="#000"/>
<circle cx="306.8" cy="351.7" r="0.7" fill="#000"/>
<circle cx="316.0" cy="351.7" r="0.7" fill="#000"/>
<line x1="325.2" y1="351.4" x2="325.2" y2="351.5" stroke="#000" stroke-width="0.8"/>
<polygon points="324.1,352.4 324.6,350.8 325.7,352.1" fill="#000"/>
<line x1="334.4" y1="350.6" x2="333.7" y2="351.6" stroke="#000" stroke-width="0.8"/>
<polygon points="332.6,353.2 332.8,350.9 334.7,352.3" fill="#000"/>
<line x1="343.3" y1="349.4" x2="342.2" y2="352.3" stroke="#000" stroke-width="0.8"/>
<polygon points="341.4,354.4 341.0,351.8 343.4,352.8" fill="#000"/>
<line x1="352.1" y1="349.0" x2="350.9" y2="352.7" stroke="#000" stroke-width="0.8"/>
<polygon points="350.3,354.8 349.7,352.3 352.2,353.1" fill="#000"/>
<line x1="361.1" y1="349.9" x2="360.0" y2="352.0" stroke="#000" stroke-width="0.8"/>
<polygon points="359.0,353.9 358.8,351.4 361.2,352.6" fill="#000"/>
<line x1="209.8" y1="357.8" x2="209.5" y2="361.5" stroke="#000" stroke-width="0.8"/>
<polygon points="209.4,363.7 208.2,361.5 210.9,361.6" fill="#000"/>
<line x1="218.3" y1="357.8" x2="218.5" y2="361.5" stroke="#000" stroke-width="0.8"/>
<polygon points="218.6,363.7 217.2,361.5 219.8,361.4" fill="#000"/>
<line x1="227.0" y1="357.8" x2="227.4" y2="361.5" stroke="#000" stroke-width="0.8"/>
<polygon points="227.6,363.7 226.1,361.6 228.7,361.4" fill="#000"/>
<line x1="236.3" y1="358.1" x2="236.1" y2="361.2" stroke="#000" stroke-width="0.8"/>
<polygon points="236.0,363.4 234.8,361.1 237.4,361.3" fill="#000"/>
<line x1="245.7" y1="358.8" x2="245.1" y2="360.6" stroke="#000" stroke-width="0.8"/>
<polygon points="244.3,362.7 243.8,360.1 246.3,361.1" fill="#000"/>
<line x1="254.6" y1="359.6" x2="254.1" y2="360.3" stroke="#000" stroke-width="0.8"/>
<polygon points="253.1,361.9 253.2,359.7 255.1,360.9" fill="#000"/>
<line x1="263.0" y1="360.1" x2="263.0" y2="360.2" stroke="#000" stroke-width="0.8"/>
<polygon points="262.4,361.4 262.2,359.8 263.8,360.5" fill="#000"/>
<line x1="271.6" y1="360.3" x2="271.6" y2="360.0" stroke="#000" stroke-width="0.8"/>
<polygon points="271.5,361.2 270.9,359.9 272.4,360.1" fill="#000"/>
<circle cx="280.4" cy="360.4" r="0.7" fill="#000"/>
<circle cx="289.2" cy="360.5" r="0.7" fill="#000"/>
<circle cx="298.1" cy="360.5" r="0.7" fill="#000"/>
<circle cx="307.0" cy="360.4" r="0.7" fill="#000"/>
<line x1="316.1" y1="360.2" x2="316.1" y2="360.1" stroke="#000" stroke-width="0.8"/>
<polygon points="315.5,361.3 315.4,359.7 316.9,360.5" fill="#000"/>
<line x1="325.3" y1="359.8" x2="325.0" y2="360.3" stroke="#000" stroke-width="0.8"/>
<polygon points="324.0,361.7 324.1,359.7 325.8,360.9" fill="#000"/>
<line x1="334.4" y1="359.2" x2="333.7" y2="360.4" stroke="#000" stroke-width="0.8"/>
<polygon points="332.6,362.3 332.6,359.8 334.8,361.1" fill="#000"/>
<line x1="343.3" y1="358.7" x2="342.3" y2="360.8" stroke="#000" stroke-width="0.8"/>
<polygon points="341.4,362.8 341.1,360.3 343.5,361.4" fill="#000"/>
<line x1="352.2" y1="358.5" x2="351.1" y2="361.0" stroke="#000" stroke-width="0.8"/>
<polygon points="350.2,363.0 349.9,360.5 352.3,361.5" fill="#000"/>
<line x1="361.1" y1="358.7" x2="360.0" y2="360.9" stroke="#000" stroke-width="0.8"/>
<polygon points="359.0,362.8 358.8,360.3 361.2,361.4" fill="#000"/>
<line x1="209.9" y1="366.7" x2="209.5" y2="370.3" stroke="#000" stroke-width="0.8"/>
<polygon points="209.3,372.5 208.2,370.2 210.8,370.5" fill="#000"/>
<line x1="218.4" y1="366.7" x2="218.5" y2="370.3" stroke="#000" stroke-width="0.8"/>
<polygon points="218.5,372.5 217.1,370.3 219.8,370.3" fill="#000"/>
<line x1="227.0" y1="366.7" x2="227.4" y2="370.3" stroke="#000" stroke-width="0.8"/>
<polygon points="227.6,372.5 226.1,370.5 228.7,370.2" fill="#000"/>
<line x1="236.1" y1="367.0" x2="236.2" y2="370.0" stroke="#000" stroke-width="0.8"/>
<polygon points="236.2,372.2 234.8,370.0 237.5,370.0" fill="#000"/>
<line x1="245.3" y1="367.9" x2="245.1" y2="369.2" stroke="#000" stroke-width="0.8"/>
<polygon points="244.7,371.3 243.8,369.0 246.3,369.5" fill="#000"/>
<line x1="254.1" y1="368.9" x2="254.1" y2="369.0" stroke="#000" stroke-width="0.8"/>
<polygon points="253.6,370.3 253.2,368.7 254.9,369.2" fill="#000"/>
<line x1="262.8" y1="369.2" x2="262.9" y2="368.9" stroke="#000" stroke-width="0.8"/>
<polygon points="262.6,370.0 262.2,368.7 263.6,369.0" fill="#000"/>
<line x1="271.6" y1="369.2" x2="271.6" y2="368.8" stroke="#000" stroke-width="0.8"/>
<polygon points="271.5,370.0 270.9,368.8 272.3,368.9" fill="#000"/>
<line x1="280.4" y1="369.2" x2="280.4" y2="368.8" stroke="#000" stroke-width="0.8"/>
<polygon points="280.4,370.0 279.7,368.8 281.2,368.9" fill="#000"/>
<circle cx="289.3" cy="369.3" r="0.7" fill="#000"/>
<circle cx="298.2" cy="369.2" r="0.7" fill="#000"/>
<line x1="307.1" y1="369.0" x2="307.2" y2="368.9" stroke="#000" stroke-width="0.8"/>
<polygon points="306.8,370.2 306.4,368.7 307.9,369.2" fill="#000"/>
<line x1="316.2" y1="368.7" x2="316.1" y2="369.1" stroke="#000" stroke-width="0.8"/>
<polygon points="315.4,370.5 315.2,368.6 316.9,369.5" fill="#000"/>
<line x1="325.4" y1="368.3" x2="324.9" y2="369.2" stroke="#000" stroke-width="0.8"/>
<polygon points="323.9,370.9 323.8,368.6 325.9,369.8" fill="#000"/>
<line x1="334.4" y1="367.7" x2="333.5" y2="369.5" stroke="#000" stroke-width="0.8"/>
<polygon points="332.6,371.5 332.4,368.9 334.7,370.1" fill="#000"/>
<line x1="343.3" y1="367.2" x2="342.2" y2="369.9" stroke="#000" stroke-width="0.8"/>
<polygon points="341.4,372.0 341.0,369.4 343.5,370.4" fill="#000"/>
<line x1="352.1" y1="367.1" x2="351.1" y2="370.0" stroke="#000" stroke-width="0.8"/>
<polygon points="350.3,372.1 349.8,369.6 352.3,370.5" fill="#000"/>
<line x1="360.9" y1="367.2" x2="359.9" y2="370.0" stroke="#000" stroke-width="0.8"/>
<polygon points="359.2,372.0 358.7,369.5 361.2,370.4" fill="#000"/>
<line x1="210.0" y1="375.5" x2="209.5" y2="379.2" stroke="#000" stroke-width="0.8"/>
<polygon points="209.2,381.4 208.2,379.1 210.8,379.4" fill="#000"/>
<line x1="218.8" y1="375.5" x2="218.4" y2="379.2" stroke="#000" stroke-width="0.8"/>
<polygon points="218.1,381.4 217.1,379.0 219.7,379.3" fill="#000"/>
<line x1="227.4" y1="375.7" x2="227.3" y2="379.0" stroke="#000" stroke-width="0.8"/>
<polygon points="227.2,381.2 226.0,379.0 228.6,379.0" fill="#000"/>
<line x1="236.3" y1="376.1" x2="236.1" y2="378.6" stroke="#000" stroke-width="0.8"/>
<polygon points="236.0,380.8 234.8,378.5 237.5,378.7" fill="#000"/>
<line x1="245.2" y1="377.1" x2="245.1" y2="378.0" stroke="#000" stroke-width="0.8"/>
<polygon points="244.8,379.8 244.0,377.8 246.2,378.1" fill="#000"/>
<circle cx="253.9" cy="378.1" r="0.7" fill="#000"/>
<circle cx="262.7" cy="378.3" r="0.7" fill="#000"/>
<circle cx="271.6" cy="378.1" r="0.7" fill="#000"/>
<line x1="280.4" y1="378.0" x2="280.5" y2="377.7" stroke="#000" stroke-width="0.8"/>
<polygon points="280.4,378.9 279.7,377.6 281.2,377.7" fill="#000"/>
<line x1="289.3" y1="378.0" x2="289.3" y2="377.7" stroke="#000" stroke-width="0.8"/>
<polygon points="289.2,378.9 288.6,377.6 290.1,377.8" fill="#000"/>
<line x1="298.2" y1="377.9" x2="298.3" y2="377.7" stroke="#000" stroke-width="0.8"/>
<polygon points="298.0,379.0 297.5,377.5 299.0,377.9" fill="#000"/>
<line x1="307.3" y1="377.6" x2="307.2" y2="377.9" stroke="#000" stroke-width="0.8"/>
<polygon points="306.6,379.3 306.4,377.5 308.0,378.2" fill="#000"/>
<line x1="316.4" y1="377.2" x2="316.0" y2="378.0" stroke="#000" stroke-width="0.8"/>
<polygon points="315.2,379.7 315.0,377.5 317.0,378.5" fill="#000"/>
<line x1="325.6" y1="376.7" x2="324.7" y2="378.3" stroke="#000" stroke-width="0.8"/>
<polygon points="323.7,380.2 323.6,377.7 325.9,378.9" fill="#000"/>
<line x1="334.5" y1="376.2" x2="333.4" y2="378.7" stroke="#000" stroke-width="0.8"/>
<polygon points="332.5,380.7 332.2,378.1 334.6,379.2" fill="#000"/>
<line x1="343.3" y1="376.0" x2="342.2" y2="378.9" stroke="#000" stroke-width="0.8"/>
<polygon points="341.4,380.9 341.0,378.4 343.4,379.3" fill="#000"/>
<line x1="352.1" y1="375.9" x2="351.0" y2="378.9" stroke="#000" stroke-width="0.8"/>
<polygon points="350.3,381.0 349.8,378.5 352.3,379.3" fill="#000"/>
<line x1="360.9" y1="376.0" x2="359.9" y2="378.9" stroke="#000" stroke-width="0.8"/>
<polygon points="359.2,380.9 358.7,378.4 361.1,379.3" fill="#000"/>
<line x1="210.0" y1="384.4" x2="209.5" y2="388.0" stroke="#000" stroke-width="0.8"/>
<polygon points="209.2,390.2 208.2,387.9 210.8,388.2" fill="#000"/>
<line x1="218.7" y1="384.4" x2="218.4" y2="388.0" stroke="#000" stroke-width="0.8"/>
<polygon points="218.2,390.2 217.1,387.9 219.7,388.1" fill="#000"/>
<line x1="227.4" y1="384.5" x2="227.3" y2="387.9" stroke="#000" stroke-width="0.8"/>
<polygon points="227.2,390.1 226.0,387.8 228.6,387.9" fill="#000"/>
<line x1="236.3" y1="384.9" x2="236.1" y2="387.5" stroke="#000" stroke-width="0.8"/>
<polygon points="236.0,389.7 234.8,387.4 237.5,387.6" fill="#000"/>
<line x1="245.2" y1="385.9" x2="245.0" y2="386.8" stroke="#000" stroke-width="0.8"/>
<polygon points="244.8,388.7 243.9,386.7 246.2,387.0" fill="#000"/>
<line x1="253.9" y1="386.8" x2="254.0" y2="386.6" stroke="#000" stroke-width="0.8"/>
<polygon points="253.8,387.8 253.2,386.5 254.7,386.7" fill="#000"/>
<circle cx="262.7" cy="387.0" r="0.7" fill="#000"/>
<circle cx="271.5" cy="387.0" r="0.7" fill="#000"/>
<circle cx="280.3" cy="387.0" r="0.7" fill="#000"/>
<circle cx="289.2" cy="386.9" r="0.7" fill="#000"/>
<line x1="298.3" y1="386.6" x2="298.3" y2="386.6" stroke="#000" stroke-width="0.8"/>
<polygon points="297.9,388.0 297.5,386.4 299.1,386.8" fill="#000"/>
<line x1="307.4" y1="386.2" x2="307.2" y2="386.8" stroke="#000" stroke-width="0.8"/>
<polygon points="306.5,388.4 306.2,386.4 308.1,387.2" fill="#000"/>
<line x1="316.7" y1="385.6" x2="315.9" y2="387.0" stroke="#000" stroke-width="0.8"/>
<polygon points="314.9,389.0 314.8,386.4 317.1,387.6" fill="#000"/>
<line x1="325.9" y1="385.0" x2="324.4" y2="387.7" stroke="#000" stroke-width="0.8"/>
<polygon points="323.4,389.6 323.3,387.1 325.6,388.3" fill="#000"/>
<line x1="334.9" y1="384.5" x2="333.1" y2="388.1" stroke="#000" stroke-width="0.8"/>
<polygon points="332.1,390.1 331.9,387.5 334.2,388.7" fill="#000"/>
<line x1="343.7" y1="384.5" x2="342.0" y2="388.1" stroke="#000" stroke-width="0.8"/>
<polygon points="341.0,390.1 340.8,387.6 343.2,388.7" fill="#000"/>
<line x1="352.3" y1="384.7" x2="350.9" y2="387.9" stroke="#000" stroke-width="0.8"/>
<polygon points="350.1,389.9 349.7,387.4 352.2,388.4" fill="#000"/>
<line x1="361.1" y1="384.8" x2="359.8" y2="387.8" stroke="#000" stroke-width="0.8"/>
<polygon points="359.0,389.8 358.6,387.3 361.1,388.3" fill="#000"/>
<line x1="209.8" y1="393.3" x2="209.6" y2="396.8" stroke="#000" stroke-width="0.8"/>
<polygon points="209.4,399.0 208.2,396.7 210.9,396.9" fill="#000"/>
<line x1="218.5" y1="393.2" x2="218.4" y2="396.9" stroke="#000" stroke-width="0.8"/>
<polygon points="218.4,399.1 217.1,396.8 219.8,396.9" fill="#000"/>
<line x1="227.3" y1="393.2" x2="227.3" y2="396.9" stroke="#000" stroke-width="0.8"/>
<polygon points="227.3,399.1 226.0,396.9 228.6,396.9" fill="#000"/>
<line x1="236.2" y1="393.5" x2="236.1" y2="396.6" stroke="#000" stroke-width="0.8"/>
<polygon points="236.1,398.8 234.8,396.6 237.5,396.7" fill="#000"/>
<line x1="245.1" y1="394.4" x2="245.0" y2="395.8" stroke="#000" stroke-width="0.8"/>
<polygon points="244.9,397.9 243.7,395.7 246.3,395.9" fill="#000"/>
<line x1="254.0" y1="395.2" x2="253.9" y2="395.5" stroke="#000" stroke-width="0.8"/>
<polygon points="253.7,397.1 253.0,395.4 254.8,395.6" fill="#000"/>
<line x1="262.7" y1="395.6" x2="262.7" y2="395.4" stroke="#000" stroke-width="0.8"/>
<polygon points="262.7,396.7 262.0,395.4 263.5,395.5" fill="#000"/>
<circle cx="271.4" cy="395.8" r="0.7" fill="#000"/>
<circle cx="280.2" cy="395.9" r="0.7" fill="#000"/>
<circle cx="289.1" cy="395.8" r="0.7" fill="#000"/>
<line x1="298.3" y1="395.4" x2="298.3" y2="395.5" stroke="#000" stroke-width="0.8"/>
<polygon points="297.9,396.9 297.4,395.3 299.1,395.7" fill="#000"/>
<line x1="307.6" y1="394.8" x2="307.1" y2="395.7" stroke="#000" stroke-width="0.8"/>
<polygon points="306.3,397.5 306.1,395.3 308.2,396.2" fill="#000"/>
<line x1="316.9" y1="394.0" x2="315.7" y2="396.4" stroke="#000" stroke-width="0.8"/>
<polygon points="314.7,398.3 314.5,395.8 316.9,397.0" fill="#000"/>
<line x1="326.3" y1="393.2" x2="324.1" y2="397.2" stroke="#000" stroke-width="0.8"/>
<polygon points="323.0,399.1 322.9,396.6 325.2,397.8" fill="#000"/>
<line x1="335.4" y1="392.6" x2="332.6" y2="397.7" stroke="#000" stroke-width="0.8"/>
<polygon points="331.6,399.7 331.5,397.1 333.8,398.4" fill="#000"/>
<line x1="344.3" y1="392.5" x2="341.4" y2="397.8" stroke="#000" stroke-width="0.8"/>
<polygon points="340.4,399.8 340.3,397.2 342.6,398.5" fill="#000"/>
<line x1="352.9" y1="392.9" x2="350.5" y2="397.5" stroke="#000" stroke-width="0.8"/>
<polygon points="349.5,399.4 349.3,396.9 351.7,398.1" fill="#000"/>
<line x1="361.5" y1="393.3" x2="359.6" y2="397.1" stroke="#000" stroke-width="0.8"/>
<polygon points="358.6,399.0 358.4,396.4 360.8,397.7" fill="#000"/>
<line x1="209.7" y1="402.2" x2="209.6" y2="405.6" stroke="#000" stroke-width="0.8"/>
<polygon points="209.5,407.8 208.3,405.6 210.9,405.7" fill="#000"/>
<line x1="218.5" y1="402.1" x2="218.4" y2="405.7" stroke="#000" stroke-width="0.8"/>
<polygon points="218.4,407.9 217.1,405.7 219.8,405.7" fill="#000"/>
<line x1="227.3" y1="402.1" x2="227.3" y2="405.7" stroke="#000" stroke-width="0.8"/>
<polygon points="227.3,407.9 226.0,405.7 228.6,405.7" fill="#000"/>
<line x1="236.2" y1="402.3" x2="236.1" y2="405.5" stroke="#000" stroke-width="0.8"/>
<polygon points="236.1,407.7 234.8,405.5 237.5,405.5" fill="#000"/>
<line x1="245.1" y1="403.1" x2="245.0" y2="404.7" stroke="#000" stroke-width="0.8"/>
<polygon points="244.9,406.9 243.7,404.6 246.3,404.8" fill="#000"/>
<line x1="254.0" y1="404.0" x2="253.9" y2="404.4" stroke="#000" stroke-width="0.8"/>
<polygon points="253.7,406.0 252.9,404.3 254.9,404.5" fill="#000"/>
<line x1="262.8" y1="404.4" x2="262.8" y2="404.3" stroke="#000" stroke-width="0.8"/>
<polygon points="262.6,405.6 262.0,404.2 263.5,404.3" fill="#000"/>
<circle cx="271.5" cy="404.6" r="0.7" fill="#000"/>
<circle cx="280.3" cy="404.7" r="0.7" fill="#000"/>
<line x1="289.3" y1="404.5" x2="289.3" y2="404.2" stroke="#000" stroke-width="0.8"/>
<polygon points="289.2,405.5 288.5,404.2 290.0,404.3" fill="#000"/>
<line x1="298.4" y1="404.0" x2="298.3" y2="404.4" stroke="#000" stroke-width="0.8"/>
<polygon points="297.8,406.0 297.4,404.1 299.2,404.8" fill="#000"/>
<line x1="307.8" y1="403.2" x2="307.1" y2="404.8" stroke="#000" stroke-width="0.8"/>
<polygon points="306.1,406.8 305.9,404.2 308.2,405.3" fill="#000"/>
<line x1="317.2" y1="402.3" x2="315.4" y2="405.7" stroke="#000" stroke-width="0.8"/>
<polygon points="314.4,407.7 314.3,405.1 316.6,406.3" fill="#000"/>
<line x1="326.5" y1="401.6" x2="323.9" y2="406.4" stroke="#000" stroke-width="0.8"/>
<polygon points="322.8,408.4 322.7,405.8 325.0,407.1" fill="#000"/>
<line x1="335.6" y1="401.2" x2="332.5" y2="406.8" stroke="#000" stroke-width="0.8"/>
<polygon points="331.4,408.8 331.3,406.2 333.6,407.5" fill="#000"/>
<line x1="344.5" y1="401.2" x2="341.3" y2="406.9" stroke="#000" stroke-width="0.8"/>
<polygon points="340.2,408.8 340.2,406.2 342.5,407.5" fill="#000"/>
<line x1="353.2" y1="401.4" x2="350.3" y2="406.7" stroke="#000" stroke-width="0.8"/>
<polygon points="349.2,408.6 349.1,406.0 351.4,407.3" fill="#000"/>
<line x1="361.8" y1="401.9" x2="359.4" y2="406.2" stroke="#000" stroke-width="0.8"/>
<polygon points="358.3,408.1 358.2,405.6 360.5,406.9" fill="#000"/>
<line x1="209.6" y1="410.9" x2="209.6" y2="414.6" stroke="#000" stroke-width="0.8"/>
<polygon points="209.6,416.8 208.3,414.6 210.9,414.6" fill="#000"/>
<line x1="218.5" y1="410.9" x2="218.4" y2="414.6" stroke="#000" stroke-width="0.8"/>
<polygon points="218.4,416.8 217.1,414.5 219.8,414.6" fill="#000"/>
<line x1="227.4" y1="411.1" x2="227.3" y2="414.4" stroke="#000" stroke-width="0.8"/>
<polygon points="227.2,416.6 226.0,414.4 228.6,414.5" fill="#000"/>
<line x1="236.3" y1="411.4" x2="236.1" y2="414.1" stroke="#000" stroke-width="0.8"/>
<polygon points="236.0,416.3 234.8,414.0 237.5,414.2" fill="#000"/>
<line x1="245.1" y1="412.1" x2="245.0" y2="413.5" stroke="#000" stroke-width="0.8"/>
<polygon points="244.9,415.6 243.8,413.4 246.3,413.6" fill="#000"/>
<line x1="254.0" y1="413.0" x2="253.9" y2="413.2" stroke="#000" stroke-width="0.8"/>
<polygon points="253.7,414.7 253.0,413.1 254.8,413.3" fill="#000"/>
<circle cx="262.7" cy="413.5" r="0.7" fill="#000"/>
<circle cx="271.6" cy="413.7" r="0.7" fill="#000"/>
<circle cx="280.5" cy="413.5" r="0.7" fill="#000"/>
<line x1="289.5" y1="413.1" x2="289.4" y2="413.2" stroke="#000" stroke-width="0.8"/>
<polygon points="289.0,414.6 288.6,413.0 290.3,413.4" fill="#000"/>
<line x1="298.7" y1="412.5" x2="298.3" y2="413.4" stroke="#000" stroke-width="0.8"/>
<polygon points="297.5,415.2 297.2,413.0 299.3,413.9" fill="#000"/>
<line x1="308.0" y1="411.6" x2="306.8" y2="414.1" stroke="#000" stroke-width="0.8"/>
<polygon points="305.9,416.1 305.6,413.5 308.0,414.7" fill="#000"/>
<line x1="317.4" y1="410.7" x2="315.2" y2="415.1" stroke="#000" stroke-width="0.8"/>
<polygon points="314.2,417.0 314.0,414.5 316.4,415.7" fill="#000"/>
<line x1="326.6" y1="410.1" x2="323.7" y2="415.6" stroke="#000" stroke-width="0.8"/>
<polygon points="322.7,417.6 322.6,415.0 324.9,416.2" fill="#000"/>
<line x1="335.5" y1="410.0" x2="332.5" y2="415.7" stroke="#000" stroke-width="0.8"/>
<polygon points="331.5,417.7 331.3,415.1 333.7,416.3" fill="#000"/>
<line x1="344.4" y1="410.1" x2="341.3" y2="415.7" stroke="#000" stroke-width="0.8"/>
<polygon points="340.3,417.6 340.2,415.0 342.5,416.3" fill="#000"/>
<line x1="353.2" y1="410.3" x2="350.3" y2="415.5" stroke="#000" stroke-width="0.8"/>
<polygon points="349.2,417.4 349.1,414.8 351.4,416.1" fill="#000"/>
<line x1="361.9" y1="410.7" x2="359.3" y2="415.1" stroke="#000" stroke-width="0.8"/>
<polygon points="358.2,417.0 358.2,414.4 360.4,415.8" fill="#000"/>
<line x1="209.6" y1="419.7" x2="209.6" y2="423.5" stroke="#000" stroke-width="0.8"/>
<polygon points="209.6,425.7 208.3,423.5 210.9,423.5" fill="#000"/>
<line x1="218.5" y1="419.8" x2="218.4" y2="423.4" stroke="#000" stroke-width="0.8"/>
<polygon points="218.4,425.6 217.1,423.4 219.8,423.4" fill="#000"/>
<line x1="227.4" y1="420.0" x2="227.3" y2="423.2" stroke="#000" stroke-width="0.8"/>
<polygon points="227.2,425.4 226.0,423.1 228.6,423.2" fill="#000"/>
<line x1="236.3" y1="420.5" x2="236.1" y2="422.7" stroke="#000" stroke-width="0.8"/>
<polygon points="236.0,424.9 234.8,422.7 237.5,422.8" fill="#000"/>
<line x1="245.2" y1="421.1" x2="245.0" y2="422.3" stroke="#000" stroke-width="0.8"/>
<polygon points="244.8,424.3 243.9,422.1 246.2,422.4" fill="#000"/>
<line x1="254.0" y1="421.9" x2="253.9" y2="422.0" stroke="#000" stroke-width="0.8"/>
<polygon points="253.7,423.5 253.1,421.9 254.8,422.2" fill="#000"/>
<circle cx="262.7" cy="422.5" r="0.7" fill="#000"/>
<circle cx="271.6" cy="422.5" r="0.7" fill="#000"/>
<circle cx="280.5" cy="422.4" r="0.7" fill="#000"/>
<line x1="289.6" y1="421.8" x2="289.5" y2="422.1" stroke="#000" stroke-width="0.8"/>
<polygon points="288.9,423.6 288.6,421.8 290.3,422.5" fill="#000"/>
<line x1="298.9" y1="421.0" x2="298.2" y2="422.4" stroke="#000" stroke-width="0.8"/>
<polygon points="297.3,424.4 297.0,421.8 299.4,422.9" fill="#000"/>
<line x1="308.3" y1="420.0" x2="306.6" y2="423.5" stroke="#000" stroke-width="0.8"/>
<polygon points="305.6,425.4 305.4,422.9 307.8,424.0" fill="#000"/>
<line x1="317.6" y1="418.9" x2="314.9" y2="424.5" stroke="#000" stroke-width="0.8"/>
<polygon points="314.0,426.5 313.7,423.9 316.1,425.1" fill="#000"/>
<line x1="326.7" y1="418.3" x2="323.5" y2="425.1" stroke="#000" stroke-width="0.8"/>
<polygon points="322.6,427.1 322.3,424.5 324.7,425.7" fill="#000"/>
<line x1="335.6" y1="418.3" x2="332.4" y2="425.1" stroke="#000" stroke-width="0.8"/>
<polygon points="331.4,427.1 331.2,424.6 333.5,425.7" fill="#000"/>
<line x1="344.4" y1="418.8" x2="341.3" y2="424.7" stroke="#000" stroke-width="0.8"/>
<polygon points="340.3,426.6 340.2,424.0 342.5,425.3" fill="#000"/>
<line x1="353.2" y1="419.4" x2="350.3" y2="424.2" stroke="#000" stroke-width="0.8"/>
<polygon points="349.2,426.0 349.2,423.5 351.4,424.8" fill="#000"/>
<line x1="362.0" y1="419.8" x2="359.3" y2="423.8" stroke="#000" stroke-width="0.8"/>
<polygon points="358.1,425.6 358.2,423.0 360.4,424.5" fill="#000"/>
<line x1="209.6" y1="428.7" x2="209.6" y2="432.2" stroke="#000" stroke-width="0.8"/>
<polygon points="209.6,434.4 208.3,432.2 210.9,432.2" fill="#000"/>
<line x1="218.5" y1="428.8" x2="218.4" y2="432.1" stroke="#000" stroke-width="0.8"/>
<polygon points="218.4,434.3 217.1,432.1 219.8,432.1" fill="#000"/>
<line x1="227.4" y1="429.0" x2="227.3" y2="431.9" stroke="#000" stroke-width="0.8"/>
<polygon points="227.2,434.1 226.0,431.8 228.6,431.9" fill="#000"/>
<line x1="236.3" y1="429.5" x2="236.2" y2="431.4" stroke="#000" stroke-width="0.8"/>
<polygon points="236.0,433.6 234.8,431.3 237.5,431.5" fill="#000"/>
<line x1="245.2" y1="430.0" x2="245.1" y2="431.1" stroke="#000" stroke-width="0.8"/>
<polygon points="244.8,433.1 243.9,431.0 246.2,431.3" fill="#000"/>
<line x1="254.0" y1="430.6" x2="254.0" y2="430.9" stroke="#000" stroke-width="0.8"/>
<polygon points="253.7,432.5 253.0,430.8 254.9,431.1" fill="#000"/>
<line x1="262.8" y1="431.1" x2="262.9" y2="430.8" stroke="#000" stroke-width="0.8"/>
<polygon points="262.6,432.0 262.1,430.7 263.6,431.0" fill="#000"/>
<circle cx="271.6" cy="431.2" r="0.7" fill="#000"/>
<line x1="280.6" y1="430.9" x2="280.6" y2="430.9" stroke="#000" stroke-width="0.8"/>
<polygon points="280.2,432.2 279.9,430.6 281.4,431.1" fill="#000"/>
<line x1="289.8" y1="430.3" x2="289.4" y2="431.1" stroke="#000" stroke-width="0.8"/>
<polygon points="288.7,432.8 288.4,430.7 290.5,431.5" fill="#000"/>
<line x1="299.1" y1="429.5" x2="298.1" y2="431.6" stroke="#000" stroke-width="0.8"/>
<polygon points="297.1,433.6 296.9,431.0 299.3,432.2" fill="#000"/>
<line x1="308.5" y1="428.5" x2="306.4" y2="432.6" stroke="#000" stroke-width="0.8"/>
<polygon points="305.4,434.6 305.2,432.0 307.6,433.2" fill="#000"/>
<line x1="317.7" y1="427.6" x2="314.8" y2="433.6" stroke="#000" stroke-width="0.8"/>
<polygon points="313.9,435.5 313.6,433.0 316.0,434.1" fill="#000"/>
<line x1="326.8" y1="427.0" x2="323.5" y2="434.1" stroke="#000" stroke-width="0.8"/>
<polygon points="322.5,436.1 322.3,433.6 324.7,434.7" fill="#000"/>
<line x1="335.6" y1="427.0" x2="332.3" y2="434.1" stroke="#000" stroke-width="0.8"/>
<polygon points="331.4,436.1 331.1,433.6 333.5,434.7" fill="#000"/>
<line x1="344.5" y1="427.8" x2="341.3" y2="433.4" stroke="#000" stroke-width="0.8"/>
<polygon points="340.2,435.3 340.1,432.8 342.4,434.1" fill="#000"/>
<line x1="353.4" y1="428.8" x2="350.4" y2="432.6" stroke="#000" stroke-width="0.8"/>
<polygon points="349.0,434.3 349.4,431.7 351.4,433.4" fill="#000"/>
<line x1="362.2" y1="429.2" x2="359.4" y2="432.3" stroke="#000" stroke-width="0.8"/>
<polygon points="357.9,433.9 358.4,431.4 360.3,433.2" fill="#000"/>
<line x1="209.7" y1="437.8" x2="209.6" y2="440.8" stroke="#000" stroke-width="0.8"/>
<polygon points="209.5,443.0 208.3,440.7 210.9,440.8" fill="#000"/>
<line x1="218.5" y1="437.9" x2="218.4" y2="440.7" stroke="#000" stroke-width="0.8"/>
<polygon points="218.4,442.9 217.1,440.7 219.8,440.7" fill="#000"/>
<line x1="227.4" y1="438.1" x2="227.3" y2="440.5" stroke="#000" stroke-width="0.8"/>
<polygon points="227.2,442.7 226.0,440.4 228.6,440.6" fill="#000"/>
<line x1="236.3" y1="438.5" x2="236.2" y2="440.1" stroke="#000" stroke-width="0.8"/>
<polygon points="236.0,442.3 234.9,440.0 237.5,440.3" fill="#000"/>
<line x1="245.2" y1="438.9" x2="245.1" y2="440.0" stroke="#000" stroke-width="0.8"/>
<polygon points="244.8,441.9 243.9,439.8 246.2,440.1" fill="#000"/>
<line x1="254.1" y1="439.3" x2="254.0" y2="439.9" stroke="#000" stroke-width="0.8"/>
<polygon points="253.6,441.5 253.0,439.7 255.0,440.1" fill="#000"/>
<line x1="262.9" y1="439.5" x2="262.9" y2="439.8" stroke="#000" stroke-width="0.8"/>
<polygon points="262.5,441.3 262.0,439.6 263.8,440.0" fill="#000"/>
<line x1="271.8" y1="439.5" x2="271.7" y2="439.8" stroke="#000" stroke-width="0.8"/>
<polygon points="271.3,441.3 270.9,439.5 272.6,440.1" fill="#000"/>
<line x1="280.8" y1="439.3" x2="280.6" y2="439.9" stroke="#000" stroke-width="0.8"/>
<polygon points="280.0,441.5 279.6,439.5 281.6,440.3" fill="#000"/>
<line x1="290.0" y1="438.7" x2="289.4" y2="440.1" stroke="#000" stroke-width="0.8"/>
<polygon points="288.5,442.1 288.2,439.5 290.6,440.6" fill="#000"/>
<line x1="299.3" y1="438.0" x2="297.9" y2="440.8" stroke="#000" stroke-width="0.8"/>
<polygon points="296.9,442.8 296.7,440.2 299.1,441.4" fill="#000"/>
<line x1="308.5" y1="437.3" x2="306.4" y2="441.6" stroke="#000" stroke-width="0.8"/>
<polygon points="305.4,443.5 305.2,441.0 307.5,442.2" fill="#000"/>
<line x1="317.7" y1="436.7" x2="314.9" y2="442.2" stroke="#000" stroke-width="0.8"/>
<polygon points="313.9,444.1 313.7,441.6 316.1,442.8" fill="#000"/>
<line x1="326.7" y1="436.2" x2="323.6" y2="442.6" stroke="#000" stroke-width="0.8"/>
<polygon points="322.6,444.6 322.4,442.0 324.7,443.2" fill="#000"/>
<line x1="335.6" y1="436.5" x2="332.4" y2="442.4" stroke="#000" stroke-width="0.8"/>
<polygon points="331.4,444.3 331.3,441.8 333.6,443.0" fill="#000"/>
<line x1="344.7" y1="438.0" x2="341.5" y2="441.2" stroke="#000" stroke-width="0.8"/>
<polygon points="340.0,442.8 340.6,440.3 342.5,442.2" fill="#000"/>
<line x1="353.6" y1="438.8" x2="350.6" y2="440.8" stroke="#000" stroke-width="0.8"/>
<polygon points="348.8,442.0 349.8,439.7 351.3,441.9" fill="#000"/>
<line x1="362.4" y1="438.7" x2="359.4" y2="440.8" stroke="#000" stroke-width="0.8"/>
<polygon points="357.7,442.1 358.7,439.8 360.2,441.9" fill="#000"/>
<line x1="209.6" y1="446.7" x2="209.6" y2="449.6" stroke="#000" stroke-width="0.8"/>
<polygon points="209.6,451.8 208.3,449.5 210.9,449.6" fill="#000"/>
<line x1="218.5" y1="446.8" x2="218.4" y2="449.5" stroke="#000" stroke-width="0.8"/>
<polygon points="218.4,451.7 217.1,449.5 219.8,449.5" fill="#000"/>
<line x1="227.4" y1="447.0" x2="227.3" y2="449.3" stroke="#000" stroke-width="0.8"/>
<polygon points="227.2,451.5 226.0,449.2 228.6,449.3" fill="#000"/>
<line x1="236.3" y1="447.5" x2="236.2" y2="448.9" stroke="#000" stroke-width="0.8"/>
<polygon points="236.0,451.0 234.9,448.8 237.5,449.0" fill="#000"/>
<line x1="245.2" y1="448.0" x2="245.1" y2="448.7" stroke="#000" stroke-width="0.8"/>
<polygon points="244.8,450.5 244.0,448.6 246.1,448.9" fill="#000"/>
<line x1="254.0" y1="448.3" x2="254.0" y2="448.7" stroke="#000" stroke-width="0.8"/>
<polygon points="253.7,450.2 253.0,448.5 254.9,448.8" fill="#000"/>
<line x1="263.0" y1="448.3" x2="262.9" y2="448.7" stroke="#000" stroke-width="0.8"/>
<polygon points="262.4,450.2 261.9,448.4 263.8,448.9" fill="#000"/>
<line x1="272.0" y1="448.1" x2="271.7" y2="448.7" stroke="#000" stroke-width="0.8"/>
<polygon points="271.1,450.4 270.8,448.4 272.7,449.1" fill="#000"/>
<line x1="281.0" y1="447.8" x2="280.6" y2="448.9" stroke="#000" stroke-width="0.8"/>
<polygon points="279.8,450.7 279.4,448.4 281.7,449.4" fill="#000"/>
<line x1="290.2" y1="447.2" x2="289.2" y2="449.3" stroke="#000" stroke-width="0.8"/>
<polygon points="288.3,451.3 288.0,448.8 290.4,449.9" fill="#000"/>
<line x1="299.5" y1="446.5" x2="297.7" y2="450.0" stroke="#000" stroke-width="0.8"/>
<polygon points="296.7,452.0 296.5,449.4 298.9,450.6" fill="#000"/>
<line x1="308.7" y1="446.0" x2="306.3" y2="450.6" stroke="#000" stroke-width="0.8"/>
<polygon points="305.2,452.5 305.1,450.0 307.4,451.2" fill="#000"/>
<line x1="317.7" y1="445.6" x2="314.9" y2="450.9" stroke="#000" stroke-width="0.8"/>
<polygon points="313.9,452.9 313.8,450.3 316.1,451.5" fill="#000"/>
<line x1="326.7" y1="445.7" x2="323.7" y2="450.9" stroke="#000" stroke-width="0.8"/>
<polygon points="322.6,452.8 322.6,450.2 324.9,451.5" fill="#000"/>
<line x1="335.7" y1="446.4" x2="332.7" y2="450.3" stroke="#000" stroke-width="0.8"/>
<polygon points="331.3,452.1 331.6,449.5 333.7,451.1" fill="#000"/>
<line x1="344.8" y1="447.7" x2="341.7" y2="449.6" stroke="#000" stroke-width="0.8"/>
<polygon points="339.9,450.8 341.0,448.5 342.4,450.8" fill="#000"/>
<line x1="353.7" y1="447.9" x2="350.6" y2="449.5" stroke="#000" stroke-width="0.8"/>
<polygon points="348.7,450.6 350.0,448.4 351.2,450.7" fill="#000"/>
<line x1="362.5" y1="447.8" x2="359.5" y2="449.6" stroke="#000" stroke-width="0.8"/>
<polygon points="357.6,450.7 358.8,448.5 360.1,450.7" fill="#000"/>
<line x1="209.6" y1="455.6" x2="209.6" y2="458.4" stroke="#000" stroke-width="0.8"/>
<polygon points="209.6,460.6 208.3,458.4 210.9,458.4" fill="#000"/>
<line x1="218.5" y1="455.6" x2="218.4" y2="458.4" stroke="#000" stroke-width="0.8"/>
<polygon points="218.4,460.6 217.1,458.4 219.8,458.4" fill="#000"/>
<line x1="227.4" y1="455.9" x2="227.3" y2="458.1" stroke="#000" stroke-width="0.8"/>
<polygon points="227.2,460.3 226.0,458.1 228.6,458.2" fill="#000"/>
<line x1="236.3" y1="456.5" x2="236.2" y2="457.7" stroke="#000" stroke-width="0.8"/>
<polygon points="236.0,459.7 235.0,457.6 237.4,457.8" fill="#000"/>
<line x1="245.1" y1="457.3" x2="245.1" y2="457.5" stroke="#000" stroke-width="0.8"/>
<polygon points="244.9,458.9 244.2,457.4 246.0,457.6" fill="#000"/>
<line x1="253.9" y1="457.6" x2="254.0" y2="457.4" stroke="#000" stroke-width="0.8"/>
<polygon points="253.8,458.6 253.3,457.2 254.7,457.5" fill="#000"/>
<line x1="262.8" y1="457.5" x2="262.9" y2="457.4" stroke="#000" stroke-width="0.8"/>
<polygon points="262.6,458.7 262.1,457.2 263.6,457.6" fill="#000"/>
<line x1="271.9" y1="457.1" x2="271.8" y2="457.6" stroke="#000" stroke-width="0.8"/>
<polygon points="271.2,459.1 270.8,457.2 272.7,457.9" fill="#000"/>
<line x1="281.1" y1="456.5" x2="280.5" y2="457.8" stroke="#000" stroke-width="0.8"/>
<polygon points="279.7,459.7 279.4,457.2 281.7,458.3" fill="#000"/>
<line x1="290.4" y1="455.8" x2="289.1" y2="458.5" stroke="#000" stroke-width="0.8"/>
<polygon points="288.1,460.4 287.9,457.9 290.3,459.1" fill="#000"/>
<line x1="299.7" y1="455.0" x2="297.5" y2="459.2" stroke="#000" stroke-width="0.8"/>
<polygon points="296.5,461.2 296.4,458.6 298.7,459.8" fill="#000"/>
<line x1="308.8" y1="454.4" x2="306.1" y2="459.9" stroke="#000" stroke-width="0.8"/>
<polygon points="305.1,461.8 304.9,459.3 307.2,460.5" fill="#000"/>
<line x1="317.8" y1="454.0" x2="314.8" y2="460.2" stroke="#000" stroke-width="0.8"/>
<polygon points="313.8,462.2 313.6,459.7 315.9,460.8" fill="#000"/>
<line x1="326.7" y1="454.2" x2="323.6" y2="460.1" stroke="#000" stroke-width="0.8"/>
<polygon points="322.6,462.0 322.5,459.5 324.8,460.7" fill="#000"/>
<line x1="335.6" y1="455.1" x2="332.7" y2="459.3" stroke="#000" stroke-width="0.8"/>
<polygon points="331.4,461.1 331.6,458.5 333.7,460.1" fill="#000"/>
<line x1="344.7" y1="456.3" x2="341.7" y2="458.6" stroke="#000" stroke-width="0.8"/>
<polygon points="340.0,459.9 340.9,457.5 342.5,459.6" fill="#000"/>
<line x1="353.7" y1="456.6" x2="350.6" y2="458.4" stroke="#000" stroke-width="0.8"/>
<polygon points="348.7,459.6 349.9,457.3 351.3,459.6" fill="#000"/>
<line x1="362.5" y1="456.5" x2="359.5" y2="458.5" stroke="#000" stroke-width="0.8"/>
<polygon points="357.6,459.7 358.7,457.4 360.2,459.6" fill="#000"/>
<line x1="209.6" y1="464.4" x2="209.6" y2="467.3" stroke="#000" stroke-width="0.8"/>
<polygon points="209.6,469.5 208.3,467.2 210.9,467.3" fill="#000"/>
<line x1="218.5" y1="464.5" x2="218.4" y2="467.2" stroke="#000" stroke-width="0.8"/>
<polygon points="218.4,469.4 217.1,467.1 219.8,467.2" fill="#000"/>
<line x1="227.3" y1="464.8" x2="227.3" y2="466.9" stroke="#000" stroke-width="0.8"/>
<polygon points="227.3,469.1 226.0,466.9 228.6,466.9" fill="#000"/>
<line x1="236.2" y1="465.4" x2="236.2" y2="466.5" stroke="#000" stroke-width="0.8"/>
<polygon points="236.1,468.5 235.0,466.5 237.4,466.6" fill="#000"/>
<line x1="245.0" y1="466.4" x2="245.1" y2="466.2" stroke="#000" stroke-width="0.8"/>
<polygon points="245.0,467.5 244.3,466.1 245.8,466.3" fill="#000"/>
<circle cx="253.9" cy="466.8" r="0.7" fill="#000"/>
<circle cx="262.7" cy="466.7" r="0.7" fill="#000"/>
<line x1="271.8" y1="466.1" x2="271.8" y2="466.3" stroke="#000" stroke-width="0.8"/>
<polygon points="271.3,467.8 270.9,466.0 272.6,466.7" fill="#000"/>
<line x1="281.2" y1="465.3" x2="280.5" y2="466.6" stroke="#000" stroke-width="0.8"/>
<polygon points="279.6,468.6 279.4,466.1 281.7,467.2" fill="#000"/>
<line x1="290.5" y1="464.4" x2="289.0" y2="467.5" stroke="#000" stroke-width="0.8"/>
<polygon points="288.0,469.5 287.8,466.9 290.1,468.1" fill="#000"/>
<line x1="299.8" y1="463.6" x2="297.4" y2="468.3" stroke="#000" stroke-width="0.8"/>
<polygon points="296.4,470.3 296.2,467.7 298.6,468.9" fill="#000"/>
<line x1="308.9" y1="462.9" x2="305.9" y2="469.1" stroke="#000" stroke-width="0.8"/>
<polygon points="305.0,471.0 304.7,468.5 307.1,469.6" fill="#000"/>
<line x1="317.9" y1="462.4" x2="314.6" y2="469.5" stroke="#000" stroke-width="0.8"/>
<polygon points="313.7,471.5 313.4,468.9 315.8,470.1" fill="#000"/>
<line x1="326.7" y1="462.5" x2="323.5" y2="469.4" stroke="#000" stroke-width="0.8"/>
<polygon points="322.6,471.4 322.3,468.8 324.7,469.9" fill="#000"/>
<line x1="335.4" y1="463.7" x2="332.7" y2="468.3" stroke="#000" stroke-width="0.8"/>
<polygon points="331.6,470.2 331.5,467.7 333.8,469.0" fill="#000"/>
<line x1="344.4" y1="464.4" x2="341.7" y2="467.8" stroke="#000" stroke-width="0.8"/>
<polygon points="340.3,469.5 340.7,467.0 342.7,468.6" fill="#000"/>
<line x1="353.4" y1="464.9" x2="350.6" y2="467.5" stroke="#000" stroke-width="0.8"/>
<polygon points="349.0,469.0 349.7,466.6 351.5,468.5" fill="#000"/>
<line x1="362.3" y1="465.0" x2="359.5" y2="467.5" stroke="#000" stroke-width="0.8"/>
<polygon points="357.8,468.9 358.6,466.5 360.3,468.5" fill="#000"/>
<line x1="209.6" y1="473.5" x2="209.6" y2="475.9" stroke="#000" stroke-width="0.8"/>
<polygon points="209.6,478.1 208.3,475.9 210.9,475.9" fill="#000"/>
<line x1="218.5" y1="473.6" x2="218.5" y2="475.8" stroke="#000" stroke-width="0.8"/>
<polygon points="218.4,478.0 217.1,475.8 219.8,475.8" fill="#000"/>
<line x1="227.3" y1="473.7" x2="227.3" y2="475.7" stroke="#000" stroke-width="0.8"/>
<polygon points="227.3,477.9 226.0,475.7 228.6,475.7" fill="#000"/>
<line x1="236.2" y1="474.0" x2="236.2" y2="475.4" stroke="#000" stroke-width="0.8"/>
<polygon points="236.1,477.6 234.9,475.4 237.5,475.5" fill="#000"/>
<line x1="245.1" y1="475.1" x2="245.1" y2="475.1" stroke="#000" stroke-width="0.8"/>
<polygon points="244.9,476.5 244.2,475.0 245.9,475.2" fill="#000"/>
<circle cx="253.9" cy="475.6" r="0.7" fill="#000"/>
<circle cx="262.8" cy="475.5" r="0.7" fill="#000"/>
<line x1="271.9" y1="474.9" x2="271.8" y2="475.2" stroke="#000" stroke-width="0.8"/>
<polygon points="271.2,476.7 270.9,474.9 272.7,475.6" fill="#000"/>
<line x1="281.3" y1="474.0" x2="280.5" y2="475.6" stroke="#000" stroke-width="0.8"/>
<polygon points="279.5,477.6 279.3,475.1 281.7,476.2" fill="#000"/>
<line x1="290.6" y1="473.1" x2="288.9" y2="476.5" stroke="#000" stroke-width="0.8"/>
<polygon points="287.9,478.5 287.7,475.9 290.1,477.1" fill="#000"/>
<line x1="299.8" y1="472.4" x2="297.4" y2="477.2" stroke="#000" stroke-width="0.8"/>
<polygon points="296.4,479.2 296.2,476.6 298.5,477.8" fill="#000"/>
<line x1="308.9" y1="471.8" x2="306.0" y2="477.8" stroke="#000" stroke-width="0.8"/>
<polygon points="305.0,479.8 304.8,477.2 307.1,478.4" fill="#000"/>
<line x1="317.9" y1="471.4" x2="314.7" y2="478.2" stroke="#000" stroke-width="0.8"/>
<polygon points="313.7,480.2 313.5,477.6 315.9,478.7" fill="#000"/>
<line x1="326.6" y1="472.1" x2="323.7" y2="477.6" stroke="#000" stroke-width="0.8"/>
<polygon points="322.7,479.5 322.6,477.0 324.9,478.2" fill="#000"/>
<line x1="335.2" y1="473.1" x2="333.0" y2="476.6" stroke="#000" stroke-width="0.8"/>
<polygon points="331.8,478.5 331.9,475.9 334.1,477.3" fill="#000"/>
<line x1="344.2" y1="473.2" x2="341.8" y2="476.6" stroke="#000" stroke-width="0.8"/>
<polygon points="340.5,478.4 340.7,475.9 342.8,477.4" fill="#000"/>
<line x1="353.3" y1="473.4" x2="350.6" y2="476.5" stroke="#000" stroke-width="0.8"/>
<polygon points="349.1,478.2 349.6,475.7 351.6,477.4" fill="#000"/>
<line x1="362.2" y1="473.6" x2="359.4" y2="476.4" stroke="#000" stroke-width="0.8"/>
<polygon points="357.9,478.0 358.5,475.5 360.4,477.4" fill="#000"/>
<line x1="209.5" y1="482.3" x2="209.6" y2="484.8" stroke="#000" stroke-width="0.8"/>
<polygon points="209.7,487.0 208.3,484.8 210.9,484.7" fill="#000"/>
<line x1="218.4" y1="482.5" x2="218.4" y2="484.6" stroke="#000" stroke-width="0.8"/>
<polygon points="218.5,486.8 217.1,484.6 219.8,484.6" fill="#000"/>
<line x1="227.3" y1="482.5" x2="227.3" y2="484.6" stroke="#000" stroke-width="0.8"/>
<polygon points="227.3,486.8 226.0,484.6 228.6,484.6" fill="#000"/>
<line x1="236.2" y1="482.7" x2="236.2" y2="484.4" stroke="#000" stroke-width="0.8"/>
<polygon points="236.1,486.6 234.8,484.4 237.5,484.4" fill="#000"/>
<line x1="245.2" y1="483.4" x2="245.1" y2="484.1" stroke="#000" stroke-width="0.8"/>
<polygon points="244.8,485.9 244.0,484.0 246.1,484.3" fill="#000"/>
<line x1="254.0" y1="483.9" x2="254.0" y2="484.0" stroke="#000" stroke-width="0.8"/>
<polygon points="253.7,485.4 253.1,483.8 254.8,484.2" fill="#000"/>
<line x1="263.0" y1="483.8" x2="262.9" y2="484.1" stroke="#000" stroke-width="0.8"/>
<polygon points="262.4,485.5 262.0,483.8 263.8,484.3" fill="#000"/>
<line x1="272.2" y1="483.3" x2="271.7" y2="484.2" stroke="#000" stroke-width="0.8"/>
<polygon points="270.9,486.0 270.6,483.8 272.8,484.7" fill="#000"/>
<line x1="281.5" y1="482.5" x2="280.3" y2="484.8" stroke="#000" stroke-width="0.8"/>
<polygon points="279.3,486.8 279.1,484.3 281.5,485.4" fill="#000"/>
<line x1="290.7" y1="481.8" x2="288.8" y2="485.6" stroke="#000" stroke-width="0.8"/>
<polygon points="287.8,487.5 287.6,485.0 289.9,486.2" fill="#000"/>
<line x1="299.9" y1="481.3" x2="297.3" y2="486.1" stroke="#000" stroke-width="0.8"/>
<polygon points="296.3,488.0 296.2,485.5 298.5,486.7" fill="#000"/>
<line x1="308.9" y1="481.0" x2="306.1" y2="486.3" stroke="#000" stroke-width="0.8"/>
<polygon points="305.0,488.3 304.9,485.7 307.2,487.0" fill="#000"/>
<line x1="317.7" y1="481.1" x2="314.9" y2="486.3" stroke="#000" stroke-width="0.8"/>
<polygon points="313.9,488.2 313.7,485.7 316.1,486.9" fill="#000"/>
<line x1="326.4" y1="481.7" x2="324.0" y2="485.7" stroke="#000" stroke-width="0.8"/>
<polygon points="322.9,487.6 322.9,485.0 325.1,486.4" fill="#000"/>
<line x1="335.2" y1="482.0" x2="333.0" y2="485.4" stroke="#000" stroke-width="0.8"/>
<polygon points="331.8,487.3 331.9,484.7 334.1,486.2" fill="#000"/>
<line x1="344.3" y1="482.1" x2="341.8" y2="485.4" stroke="#000" stroke-width="0.8"/>
<polygon points="340.4,487.2 340.7,484.6 342.8,486.2" fill="#000"/>
<line x1="353.4" y1="482.5" x2="350.6" y2="485.3" stroke="#000" stroke-width="0.8"/>
<polygon points="349.0,486.8 349.6,484.3 351.5,486.2" fill="#000"/>
<line x1="362.3" y1="482.6" x2="359.4" y2="485.2" stroke="#000" stroke-width="0.8"/>
<polygon points="357.8,486.7 358.5,484.2 360.3,486.2" fill="#000"/>
<line x1="209.2" y1="491.0" x2="209.6" y2="493.8" stroke="#000" stroke-width="0.8"/>
<polygon points="210.0,496.0 208.3,494.0 211.0,493.6" fill="#000"/>
<line x1="218.2" y1="491.1" x2="218.5" y2="493.7" stroke="#000" stroke-width="0.8"/>
<polygon points="218.7,495.9 217.2,493.9 219.8,493.6" fill="#000"/>
<line x1="227.3" y1="491.3" x2="227.3" y2="493.5" stroke="#000" stroke-width="0.8"/>
<polygon points="227.3,495.7 226.0,493.5 228.6,493.5" fill="#000"/>
<line x1="236.3" y1="491.5" x2="236.2" y2="493.3" stroke="#000" stroke-width="0.8"/>
<polygon points="236.0,495.5 234.8,493.2 237.5,493.4" fill="#000"/>
<line x1="245.3" y1="491.8" x2="245.1" y2="493.1" stroke="#000" stroke-width="0.8"/>
<polygon points="244.7,495.2 243.8,492.9 246.3,493.4" fill="#000"/>
<line x1="254.3" y1="492.0" x2="254.0" y2="493.1" stroke="#000" stroke-width="0.8"/>
<polygon points="253.4,495.0 252.9,492.7 255.1,493.4" fill="#000"/>
<line x1="263.3" y1="492.0" x2="262.9" y2="493.1" stroke="#000" stroke-width="0.8"/>
<polygon points="262.1,495.0 261.7,492.7 264.0,493.6" fill="#000"/>
<line x1="272.5" y1="491.5" x2="271.6" y2="493.5" stroke="#000" stroke-width="0.8"/>
<polygon points="270.6,495.5 270.4,492.9 272.7,494.1" fill="#000"/>
<line x1="281.7" y1="490.9" x2="280.1" y2="494.1" stroke="#000" stroke-width="0.8"/>
<polygon points="279.1,496.1 278.9,493.5 281.2,494.7" fill="#000"/>
<line x1="290.9" y1="490.3" x2="288.6" y2="494.8" stroke="#000" stroke-width="0.8"/>
<polygon points="287.6,496.7 287.4,494.2 289.8,495.4" fill="#000"/>
<line x1="300.0" y1="489.8" x2="297.2" y2="495.2" stroke="#000" stroke-width="0.8"/>
<polygon points="296.2,497.2 296.0,494.6 298.4,495.8" fill="#000"/>
<line x1="308.9" y1="489.7" x2="306.0" y2="495.4" stroke="#000" stroke-width="0.8"/>
<polygon points="305.0,497.3 304.8,494.8 307.2,496.0" fill="#000"/>
<line x1="317.7" y1="490.0" x2="314.9" y2="495.1" stroke="#000" stroke-width="0.8"/>
<polygon points="313.9,497.0 313.8,494.5 316.1,495.7" fill="#000"/>
<line x1="326.5" y1="490.5" x2="323.9" y2="494.6" stroke="#000" stroke-width="0.8"/>
<polygon points="322.8,496.5 322.8,493.9 325.1,495.3" fill="#000"/>
<line x1="335.4" y1="490.9" x2="332.9" y2="494.3" stroke="#000" stroke-width="0.8"/>
<polygon points="331.6,496.1 331.8,493.5 333.9,495.1" fill="#000"/>
<line x1="344.6" y1="491.4" x2="341.7" y2="494.1" stroke="#000" stroke-width="0.8"/>
<polygon points="340.1,495.6 340.8,493.1 342.6,495.1" fill="#000"/>
<line x1="353.7" y1="491.7" x2="350.5" y2="494.0" stroke="#000" stroke-width="0.8"/>
<polygon points="348.7,495.3 349.7,492.9 351.3,495.1" fill="#000"/>
<line x1="362.5" y1="491.7" x2="359.4" y2="494.0" stroke="#000" stroke-width="0.8"/>
<polygon points="357.6,495.3 358.6,492.9 360.1,495.1" fill="#000"/>
<line x1="209.2" y1="499.8" x2="209.7" y2="502.7" stroke="#000" stroke-width="0.8"/>
<polygon points="210.0,504.9 208.4,502.9 211.0,502.5" fill="#000"/>
<line x1="218.1" y1="499.8" x2="218.5" y2="502.7" stroke="#000" stroke-width="0.8"/>
<polygon points="218.8,504.9 217.2,502.9 219.8,502.5" fill="#000"/>
<line x1="227.3" y1="500.1" x2="227.3" y2="502.4" stroke="#000" stroke-width="0.8"/>
<polygon points="227.3,504.6 226.0,502.4 228.6,502.4" fill="#000"/>
<line x1="236.5" y1="500.3" x2="236.2" y2="502.2" stroke="#000" stroke-width="0.8"/>
<polygon points="235.8,504.4 234.9,502.0 237.5,502.4" fill="#000"/>
<line x1="245.6" y1="500.5" x2="245.1" y2="502.1" stroke="#000" stroke-width="0.8"/>
<polygon points="244.4,504.2 243.8,501.7 246.3,502.5" fill="#000"/>
<line x1="254.6" y1="500.5" x2="253.9" y2="502.2" stroke="#000" stroke-width="0.8"/>
<polygon points="253.1,504.2 252.7,501.7 255.1,502.7" fill="#000"/>
<line x1="263.7" y1="500.4" x2="262.7" y2="502.4" stroke="#000" stroke-width="0.8"/>
<polygon points="261.7,504.3 261.5,501.8 263.9,502.9" fill="#000"/>
<line x1="272.8" y1="500.0" x2="271.3" y2="502.8" stroke="#000" stroke-width="0.8"/>
<polygon points="270.3,504.7 270.2,502.1 272.5,503.4" fill="#000"/>
<line x1="282.0" y1="499.4" x2="279.9" y2="503.3" stroke="#000" stroke-width="0.8"/>
<polygon points="278.8,505.3 278.7,502.7 281.0,504.0" fill="#000"/>
<line x1="291.1" y1="498.7" x2="288.4" y2="504.0" stroke="#000" stroke-width="0.8"/>
<polygon points="287.4,506.0 287.2,503.4 289.6,504.6" fill="#000"/>
<line x1="300.1" y1="498.1" x2="297.0" y2="504.6" stroke="#000" stroke-width="0.8"/>
<polygon points="296.1,506.6 295.8,504.0 298.2,505.1" fill="#000"/>
<line x1="309.0" y1="497.9" x2="305.8" y2="504.8" stroke="#000" stroke-width="0.8"/>
<polygon points="304.9,506.8 304.6,504.2 307.0,505.4" fill="#000"/>
<line x1="317.8" y1="498.3" x2="314.8" y2="504.4" stroke="#000" stroke-width="0.8"/>
<polygon points="313.8,506.4 313.6,503.8 315.9,505.0" fill="#000"/>
<line x1="326.6" y1="499.3" x2="323.9" y2="503.5" stroke="#000" stroke-width="0.8"/>
<polygon points="322.7,505.4 322.8,502.8 325.0,504.2" fill="#000"/>
<line x1="335.5" y1="499.9" x2="332.9" y2="503.1" stroke="#000" stroke-width="0.8"/>
<polygon points="331.5,504.8 331.8,502.3 333.9,504.0" fill="#000"/>
<line x1="344.7" y1="500.4" x2="341.7" y2="502.9" stroke="#000" stroke-width="0.8"/>
<polygon points="340.0,504.3 340.9,501.9 342.5,503.9" fill="#000"/>
<line x1="353.7" y1="500.6" x2="350.5" y2="502.8" stroke="#000" stroke-width="0.8"/>
<polygon points="348.7,504.1 349.7,501.7 351.2,503.9" fill="#000"/>
<line x1="362.6" y1="500.6" x2="359.3" y2="502.8" stroke="#000" stroke-width="0.8"/>
<polygon points="357.5,504.1 358.6,501.8 360.1,503.9" fill="#000"/>
<line x1="209.3" y1="508.8" x2="209.6" y2="511.5" stroke="#000" stroke-width="0.8"/>
<polygon points="209.9,513.6 208.3,511.6 210.9,511.3" fill="#000"/>
<line x1="218.3" y1="508.8" x2="218.5" y2="511.4" stroke="#000" stroke-width="0.8"/>
<polygon points="218.6,513.6 217.1,511.4 219.8,511.3" fill="#000"/>
<line x1="227.6" y1="509.1" x2="227.3" y2="511.1" stroke="#000" stroke-width="0.8"/>
<polygon points="227.0,513.3 226.0,510.9 228.6,511.3" fill="#000"/>
<line x1="236.9" y1="509.3" x2="236.2" y2="511.0" stroke="#000" stroke-width="0.8"/>
<polygon points="235.4,513.1 235.0,510.5 237.5,511.5" fill="#000"/>
<line x1="245.8" y1="509.4" x2="245.1" y2="511.0" stroke="#000" stroke-width="0.8"/>
<polygon points="244.2,513.0 243.9,510.5 246.3,511.6" fill="#000"/>
<line x1="254.8" y1="509.3" x2="253.9" y2="511.2" stroke="#000" stroke-width="0.8"/>
<polygon points="252.9,513.1 252.7,510.5 255.0,511.8" fill="#000"/>
<line x1="263.9" y1="509.1" x2="262.6" y2="511.4" stroke="#000" stroke-width="0.8"/>
<polygon points="261.5,513.3 261.4,510.8 263.7,512.1" fill="#000"/>
<line x1="273.1" y1="508.7" x2="271.2" y2="511.8" stroke="#000" stroke-width="0.8"/>
<polygon points="270.0,513.7 270.0,511.1 272.3,512.5" fill="#000"/>
<line x1="282.2" y1="508.1" x2="279.7" y2="512.4" stroke="#000" stroke-width="0.8"/>
<polygon points="278.6,514.3 278.6,511.7 280.9,513.0" fill="#000"/>
<line x1="291.2" y1="507.5" x2="288.3" y2="513.0" stroke="#000" stroke-width="0.8"/>
<polygon points="287.3,514.9 287.2,512.4 289.5,513.6" fill="#000"/>
<line x1="300.2" y1="506.8" x2="297.0" y2="513.6" stroke="#000" stroke-width="0.8"/>
<polygon points="296.0,515.6 295.8,513.0 298.2,514.1" fill="#000"/>
<line x1="309.1" y1="506.6" x2="305.7" y2="513.8" stroke="#000" stroke-width="0.8"/>
<polygon points="304.8,515.8 304.5,513.3 306.9,514.4" fill="#000"/>
<line x1="317.8" y1="507.2" x2="314.8" y2="513.2" stroke="#000" stroke-width="0.8"/>
<polygon points="313.8,515.2 313.6,512.6 315.9,513.8" fill="#000"/>
<line x1="326.4" y1="508.7" x2="324.1" y2="511.9" stroke="#000" stroke-width="0.8"/>
<polygon points="322.9,513.7 323.1,511.2 325.2,512.7" fill="#000"/>
<line x1="335.4" y1="508.9" x2="333.0" y2="511.8" stroke="#000" stroke-width="0.8"/>
<polygon points="331.6,513.5 332.0,511.0 334.0,512.7" fill="#000"/>
<line x1="344.6" y1="509.2" x2="341.7" y2="511.8" stroke="#000" stroke-width="0.8"/>
<polygon points="340.1,513.2 340.8,510.8 342.6,512.7" fill="#000"/>
<line x1="353.6" y1="509.4" x2="350.5" y2="511.7" stroke="#000" stroke-width="0.8"/>
<polygon points="348.8,513.0 349.7,510.7 351.3,512.8" fill="#000"/>
<line x1="362.5" y1="509.4" x2="359.4" y2="511.7" stroke="#000" stroke-width="0.8"/>
<polygon points="357.6,513.0 358.6,510.6 360.2,512.8" fill="#000"/>
<line x1="209.6" y1="517.8" x2="209.6" y2="520.1" stroke="#000" stroke-width="0.8"/>
<polygon points="209.6,522.3 208.3,520.1 210.9,520.0" fill="#000"/>
<line x1="218.7" y1="517.9" x2="218.5" y2="520.0" stroke="#000" stroke-width="0.8"/>
<polygon points="218.2,522.2 217.1,519.8 219.8,520.1" fill="#000"/>
<line x1="228.0" y1="518.2" x2="227.4" y2="519.9" stroke="#000" stroke-width="0.8"/>
<polygon points="226.6,521.9 226.1,519.4 228.6,520.3" fill="#000"/>
<line x1="237.0" y1="518.3" x2="236.3" y2="519.8" stroke="#000" stroke-width="0.8"/>
<polygon points="235.3,521.8 235.1,519.2 237.5,520.4" fill="#000"/>
<line x1="245.9" y1="518.3" x2="245.1" y2="519.8" stroke="#000" stroke-width="0.8"/>
<polygon points="244.1,521.8 243.9,519.2 246.3,520.4" fill="#000"/>
<line x1="254.9" y1="518.2" x2="253.9" y2="520.0" stroke="#000" stroke-width="0.8"/>
<polygon points="252.8,521.9 252.7,519.3 255.0,520.7" fill="#000"/>
<line x1="264.2" y1="517.9" x2="262.5" y2="520.4" stroke="#000" stroke-width="0.8"/>
<polygon points="261.2,522.2 261.4,519.6 263.5,521.1" fill="#000"/>
<line x1="273.4" y1="517.5" x2="271.0" y2="520.8" stroke="#000" stroke-width="0.8"/>
<polygon points="269.7,522.6 270.0,520.0 272.1,521.6" fill="#000"/>
<line x1="282.3" y1="517.0" x2="279.6" y2="521.3" stroke="#000" stroke-width="0.8"/>
<polygon points="278.5,523.1 278.5,520.5 280.7,522.0" fill="#000"/>
<line x1="291.3" y1="516.4" x2="288.3" y2="521.8" stroke="#000" stroke-width="0.8"/>
<polygon points="287.2,523.7 287.2,521.1 289.5,522.4" fill="#000"/>
<line x1="300.2" y1="516.0" x2="297.0" y2="522.1" stroke="#000" stroke-width="0.8"/>
<polygon points="296.0,524.1 295.9,521.5 298.2,522.7" fill="#000"/>
<line x1="309.0" y1="515.9" x2="305.9" y2="522.2" stroke="#000" stroke-width="0.8"/>
<polygon points="304.9,524.2 304.7,521.6 307.1,522.8" fill="#000"/>
<line x1="317.6" y1="517.1" x2="315.1" y2="521.1" stroke="#000" stroke-width="0.8"/>
<polygon points="314.0,523.0 314.0,520.4 316.2,521.8" fill="#000"/>
<line x1="326.4" y1="517.9" x2="324.3" y2="520.5" stroke="#000" stroke-width="0.8"/>
<polygon points="322.9,522.2 323.3,519.7 325.3,521.3" fill="#000"/>
<line x1="335.3" y1="517.8" x2="333.1" y2="520.5" stroke="#000" stroke-width="0.8"/>
<polygon points="331.7,522.3 332.1,519.7 334.1,521.4" fill="#000"/>
<line x1="344.4" y1="518.0" x2="341.8" y2="520.6" stroke="#000" stroke-width="0.8"/>
<polygon points="340.3,522.1 340.9,519.6 342.8,521.5" fill="#000"/>
<line x1="353.5" y1="518.2" x2="350.6" y2="520.5" stroke="#000" stroke-width="0.8"/>
<polygon points="348.9,521.9 349.8,519.5 351.4,521.6" fill="#000"/>
<line x1="362.4" y1="518.3" x2="359.4" y2="520.5" stroke="#000" stroke-width="0.8"/>
<polygon points="357.7,521.8 358.6,519.5 360.2,521.6" fill="#000"/>
<line x1="209.4" y1="526.8" x2="209.6" y2="528.8" stroke="#000" stroke-width="0.8"/>
<polygon points="209.8,531.0 208.3,529.0 210.9,528.7" fill="#000"/>
<line x1="218.5" y1="526.8" x2="218.5" y2="528.8" stroke="#000" stroke-width="0.8"/>
<polygon points="218.4,531.0 217.1,528.7 219.8,528.8" fill="#000"/>
<line x1="228.1" y1="527.0" x2="227.4" y2="528.7" stroke="#000" stroke-width="0.8"/>
<polygon points="226.5,530.8 226.2,528.2 228.6,529.2" fill="#000"/>
<line x1="237.1" y1="527.2" x2="236.3" y2="528.7" stroke="#000" stroke-width="0.8"/>
<polygon points="235.2,530.6 235.1,528.1 237.4,529.3" fill="#000"/>
<line x1="245.9" y1="527.2" x2="245.1" y2="528.7" stroke="#000" stroke-width="0.8"/>
<polygon points="244.1,530.6 244.0,528.1 246.3,529.3" fill="#000"/>
<line x1="255.2" y1="527.0" x2="253.8" y2="529.0" stroke="#000" stroke-width="0.8"/>
<polygon points="252.5,530.8 252.7,528.2 254.9,529.8" fill="#000"/>
<line x1="264.6" y1="526.8" x2="262.2" y2="529.4" stroke="#000" stroke-width="0.8"/>
<polygon points="260.8,531.0 261.3,528.5 263.2,530.3" fill="#000"/>
<line x1="273.8" y1="526.5" x2="270.8" y2="529.7" stroke="#000" stroke-width="0.8"/>
<polygon points="269.3,531.3 269.8,528.8 271.8,530.6" fill="#000"/>
<line x1="282.6" y1="525.9" x2="279.5" y2="530.1" stroke="#000" stroke-width="0.8"/>
<polygon points="278.2,531.9 278.4,529.3 280.6,530.9" fill="#000"/>
<line x1="291.4" y1="525.2" x2="288.2" y2="530.7" stroke="#000" stroke-width="0.8"/>
<polygon points="287.1,532.6 287.1,530.0 289.4,531.3" fill="#000"/>
<line x1="300.2" y1="524.9" x2="297.0" y2="530.9" stroke="#000" stroke-width="0.8"/>
<polygon points="296.0,532.9 295.9,530.3 298.2,531.6" fill="#000"/>
<line x1="309.0" y1="525.1" x2="306.0" y2="530.7" stroke="#000" stroke-width="0.8"/>
<polygon points="304.9,532.7 304.8,530.1 307.1,531.4" fill="#000"/>
<line x1="317.7" y1="526.0" x2="315.1" y2="529.9" stroke="#000" stroke-width="0.8"/>
<polygon points="313.9,531.8 314.0,529.2 316.2,530.7" fill="#000"/>
<line x1="326.4" y1="526.6" x2="324.2" y2="529.5" stroke="#000" stroke-width="0.8"/>
<polygon points="322.9,531.2 323.2,528.7 325.3,530.3" fill="#000"/>
<line x1="335.4" y1="526.7" x2="333.0" y2="529.4" stroke="#000" stroke-width="0.8"/>
<polygon points="331.6,531.1 332.1,528.5 334.0,530.3" fill="#000"/>
<line x1="344.6" y1="527.2" x2="341.8" y2="529.3" stroke="#000" stroke-width="0.8"/>
<polygon points="340.1,530.6 341.0,528.2 342.6,530.4" fill="#000"/>
<line x1="353.7" y1="527.4" x2="350.6" y2="529.2" stroke="#000" stroke-width="0.8"/>
<polygon points="348.7,530.4 350.0,528.1 351.3,530.4" fill="#000"/>
<line x1="362.5" y1="527.4" x2="359.5" y2="529.3" stroke="#000" stroke-width="0.8"/>
<polygon points="357.6,530.4 358.8,528.1 360.2,530.4" fill="#000"/>
<line x1="209.2" y1="535.6" x2="209.6" y2="537.7" stroke="#000" stroke-width="0.8"/>
<polygon points="210.0,539.9 208.3,538.0 210.9,537.5" fill="#000"/>
<line x1="218.2" y1="535.6" x2="218.4" y2="537.7" stroke="#000" stroke-width="0.8"/>
<polygon points="218.7,539.9 217.1,537.8 219.8,537.5" fill="#000"/>
<line x1="228.2" y1="535.8" x2="227.3" y2="537.7" stroke="#000" stroke-width="0.8"/>
<polygon points="226.4,539.7 226.1,537.1 228.5,538.3" fill="#000"/>
<line x1="237.9" y1="536.0" x2="236.0" y2="537.9" stroke="#000" stroke-width="0.8"/>
<polygon points="234.4,539.5 235.0,537.0 236.9,538.9" fill="#000"/>
<line x1="246.9" y1="536.0" x2="244.7" y2="538.0" stroke="#000" stroke-width="0.8"/>
<polygon points="243.1,539.5 243.8,537.0 245.7,539.0" fill="#000"/>
<line x1="255.8" y1="535.8" x2="253.4" y2="538.1" stroke="#000" stroke-width="0.8"/>
<polygon points="251.9,539.7 252.5,537.2 254.4,539.1" fill="#000"/>
<line x1="265.3" y1="535.6" x2="261.8" y2="538.5" stroke="#000" stroke-width="0.8"/>
<polygon points="260.1,539.9 261.0,537.5 262.7,539.5" fill="#000"/>
<line x1="274.3" y1="535.5" x2="270.5" y2="538.6" stroke="#000" stroke-width="0.8"/>
<polygon points="268.8,540.0 269.7,537.6 271.3,539.6" fill="#000"/>
<line x1="282.9" y1="535.0" x2="279.4" y2="538.9" stroke="#000" stroke-width="0.8"/>
<polygon points="277.9,540.5 278.4,538.0 280.3,539.8" fill="#000"/>
<line x1="291.4" y1="533.9" x2="288.2" y2="539.7" stroke="#000" stroke-width="0.8"/>
<polygon points="287.1,541.6 287.0,539.0 289.3,540.3" fill="#000"/>
<line x1="300.2" y1="533.5" x2="297.0" y2="540.0" stroke="#000" stroke-width="0.8"/>
<polygon points="296.0,542.0 295.8,539.4 298.1,540.6" fill="#000"/>
<line x1="309.1" y1="533.6" x2="305.8" y2="539.9" stroke="#000" stroke-width="0.8"/>
<polygon points="304.8,541.9 304.7,539.3 307.0,540.5" fill="#000"/>
<line x1="317.8" y1="534.4" x2="314.9" y2="539.2" stroke="#000" stroke-width="0.8"/>
<polygon points="313.8,541.1 313.8,538.6 316.0,539.9" fill="#000"/>
<line x1="326.6" y1="535.2" x2="324.0" y2="538.6" stroke="#000" stroke-width="0.8"/>
<polygon points="322.7,540.3 323.0,537.8 325.1,539.4" fill="#000"/>
<line x1="335.7" y1="535.8" x2="332.9" y2="538.2" stroke="#000" stroke-width="0.8"/>
<polygon points="331.3,539.7 332.1,537.3 333.8,539.2" fill="#000"/>
<line x1="344.8" y1="536.4" x2="341.8" y2="538.1" stroke="#000" stroke-width="0.8"/>
<polygon points="339.9,539.1 341.1,536.9 342.4,539.2" fill="#000"/>
<line x1="353.7" y1="536.5" x2="350.6" y2="538.0" stroke="#000" stroke-width="0.8"/>
<polygon points="348.7,539.0 350.0,536.9 351.2,539.2" fill="#000"/>
<line x1="362.6" y1="536.4" x2="359.5" y2="538.1" stroke="#000" stroke-width="0.8"/>
<polygon points="357.5,539.1 358.8,536.9 360.1,539.2" fill="#000"/>
<line x1="209.3" y1="544.5" x2="209.6" y2="546.5" stroke="#000" stroke-width="0.8"/>
<polygon points="209.9,548.7 208.3,546.8 210.9,546.3" fill="#000"/>
<line x1="218.4" y1="544.5" x2="218.4" y2="546.5" stroke="#000" stroke-width="0.8"/>
<polygon points="218.5,548.7 217.1,546.5 219.8,546.4" fill="#000"/>
<line x1="228.8" y1="544.7" x2="227.2" y2="546.7" stroke="#000" stroke-width="0.8"/>
<polygon points="225.8,548.5 226.2,545.9 228.2,547.6" fill="#000"/>
<line x1="238.6" y1="544.9" x2="235.5" y2="547.1" stroke="#000" stroke-width="0.8"/>
<polygon points="233.7,548.3 234.7,546.0 236.2,548.1" fill="#000"/>
<line x1="247.5" y1="544.9" x2="244.3" y2="547.1" stroke="#000" stroke-width="0.8"/>
<polygon points="242.5,548.3 243.6,546.0 245.1,548.1" fill="#000"/>
<line x1="256.3" y1="544.7" x2="253.2" y2="547.1" stroke="#000" stroke-width="0.8"/>
<polygon points="251.4,548.5 252.3,546.1 254.0,548.2" fill="#000"/>
<line x1="265.6" y1="544.5" x2="261.6" y2="547.4" stroke="#000" stroke-width="0.8"/>
<polygon points="259.8,548.7 260.8,546.4 262.4,548.5" fill="#000"/>
<line x1="274.5" y1="544.5" x2="270.4" y2="547.4" stroke="#000" stroke-width="0.8"/>
<polygon points="268.6,548.7 269.6,546.4 271.1,548.5" fill="#000"/>
<line x1="283.2" y1="544.2" x2="279.3" y2="547.6" stroke="#000" stroke-width="0.8"/>
<polygon points="277.6,549.0 278.4,546.6 280.2,548.6" fill="#000"/>
<line x1="291.5" y1="543.0" x2="288.2" y2="548.4" stroke="#000" stroke-width="0.8"/>
<polygon points="287.0,550.2 287.0,547.7 289.3,549.1" fill="#000"/>
<line x1="300.2" y1="542.5" x2="297.0" y2="548.8" stroke="#000" stroke-width="0.8"/>
<polygon points="296.0,550.7 295.8,548.2 298.1,549.4" fill="#000"/>
<line x1="309.1" y1="542.5" x2="305.9" y2="548.7" stroke="#000" stroke-width="0.8"/>
<polygon points="304.8,550.7 304.7,548.1 307.0,549.3" fill="#000"/>
<line x1="317.9" y1="543.1" x2="314.8" y2="548.2" stroke="#000" stroke-width="0.8"/>
<polygon points="313.7,550.1 313.7,547.5 316.0,548.9" fill="#000"/>
<line x1="326.7" y1="543.9" x2="323.9" y2="547.6" stroke="#000" stroke-width="0.8"/>
<polygon points="322.6,549.3 322.9,546.7 324.9,548.4" fill="#000"/>
<line x1="335.8" y1="544.7" x2="332.9" y2="547.1" stroke="#000" stroke-width="0.8"/>
<polygon points="331.2,548.5 332.1,546.1 333.7,548.1" fill="#000"/>
<line x1="344.8" y1="545.2" x2="341.8" y2="546.9" stroke="#000" stroke-width="0.8"/>
<polygon points="339.9,548.0 341.1,545.8 342.4,548.1" fill="#000"/>
<line x1="353.7" y1="545.3" x2="350.6" y2="546.9" stroke="#000" stroke-width="0.8"/>
<polygon points="348.7,547.9 350.0,545.7 351.2,548.1" fill="#000"/>
<line x1="362.5" y1="545.2" x2="359.5" y2="546.9" stroke="#000" stroke-width="0.8"/>
<polygon points="357.6,548.0 358.8,545.8 360.1,548.1" fill="#000"/>
<line x1="209.6" y1="553.4" x2="209.6" y2="555.3" stroke="#000" stroke-width="0.8"/>
<polygon points="209.6,557.5 208.3,555.3 210.9,555.4" fill="#000"/>
<line x1="219.0" y1="553.4" x2="218.5" y2="555.3" stroke="#000" stroke-width="0.8"/>
<polygon points="217.9,557.5 217.2,555.0 219.8,555.7" fill="#000"/>
<line x1="229.0" y1="553.6" x2="227.1" y2="555.7" stroke="#000" stroke-width="0.8"/>
<polygon points="225.6,557.3 226.1,554.8 228.0,556.6" fill="#000"/>
<line x1="238.5" y1="553.7" x2="235.5" y2="555.9" stroke="#000" stroke-width="0.8"/>
<polygon points="233.8,557.2 234.8,554.8 236.3,557.0" fill="#000"/>
<line x1="247.4" y1="553.7" x2="244.4" y2="555.9" stroke="#000" stroke-width="0.8"/>
<polygon points="242.6,557.2 243.6,554.8 245.1,557.0" fill="#000"/>
<line x1="256.3" y1="553.5" x2="253.1" y2="556.0" stroke="#000" stroke-width="0.8"/>
<polygon points="251.4,557.4 252.3,555.0 253.9,557.1" fill="#000"/>
<line x1="265.5" y1="553.3" x2="261.7" y2="556.2" stroke="#000" stroke-width="0.8"/>
<polygon points="259.9,557.6 260.9,555.2 262.4,557.3" fill="#000"/>
<line x1="274.5" y1="553.3" x2="270.4" y2="556.3" stroke="#000" stroke-width="0.8"/>
<polygon points="268.6,557.6 269.6,555.2 271.2,557.4" fill="#000"/>
<line x1="283.1" y1="553.1" x2="279.3" y2="556.4" stroke="#000" stroke-width="0.8"/>
<polygon points="277.7,557.8 278.5,555.4 280.2,557.4" fill="#000"/>
<line x1="291.6" y1="552.3" x2="288.2" y2="556.9" stroke="#000" stroke-width="0.8"/>
<polygon points="286.9,558.6 287.1,556.1 289.3,557.6" fill="#000"/>
<line x1="300.3" y1="551.7" x2="297.0" y2="557.3" stroke="#000" stroke-width="0.8"/>
<polygon points="295.9,559.2 295.9,556.6 298.2,557.9" fill="#000"/>
<line x1="309.1" y1="551.8" x2="305.9" y2="557.2" stroke="#000" stroke-width="0.8"/>
<polygon points="304.8,559.1 304.8,556.6 307.1,557.9" fill="#000"/>
<line x1="317.9" y1="552.1" x2="314.9" y2="556.9" stroke="#000" stroke-width="0.8"/>
<polygon points="313.7,558.8 313.8,556.2 316.0,557.6" fill="#000"/>
<line x1="326.8" y1="552.8" x2="323.9" y2="556.4" stroke="#000" stroke-width="0.8"/>
<polygon points="322.5,558.1 322.9,555.6 324.9,557.2" fill="#000"/>
<line x1="335.8" y1="553.4" x2="332.9" y2="556.0" stroke="#000" stroke-width="0.8"/>
<polygon points="331.2,557.5 332.0,555.0 333.8,557.0" fill="#000"/>
<line x1="344.8" y1="553.8" x2="341.8" y2="555.8" stroke="#000" stroke-width="0.8"/>
<polygon points="339.9,557.1 341.0,554.7 342.5,556.9" fill="#000"/>
<line x1="353.7" y1="554.0" x2="350.6" y2="555.8" stroke="#000" stroke-width="0.8"/>
<polygon points="348.7,556.9 349.9,554.7 351.3,556.9" fill="#000"/>
<line x1="362.5" y1="553.9" x2="359.5" y2="555.8" stroke="#000" stroke-width="0.8"/>
<polygon points="357.6,557.0 358.8,554.7 360.2,556.9" fill="#000"/>
<line x1="321.4" y1="298.2" x2="200" y2="301.5" stroke="#000" stroke-width="0.9"/>
<line x1="288" y1="305.8" x2="200" y2="309.6" stroke="#000" stroke-width="0.9"/>
<line x1="288" y1="289.1" x2="321.4" y2="301.2" stroke="#000" stroke-width="0.9"/>
<line x1="309.3" y1="287.6" x2="324.5" y2="302.8" stroke="#000" stroke-width="0.9"/>
<line x1="320" y1="287.6" x2="330.5" y2="310.4" stroke="#000" stroke-width="0.9"/>
<line x1="324.5" y1="286" x2="342.7" y2="316.4" stroke="#000" stroke-width="0.9"/>
<line x1="333.6" y1="289" x2="351.8" y2="319.5" stroke="#000" stroke-width="0.9"/>
<line x1="342.7" y1="292" x2="357.9" y2="313.4" stroke="#000" stroke-width="0.9"/>
<line x1="330.1" y1="398.0" x2="306.1" y2="478.0" stroke="#000" stroke-width="0.7"/>
<polygon points="306.1,478.0 305.2,475.4 307.4,475.7" fill="#000"/>
<line x1="329.5" y1="410.0" x2="301.0" y2="505.0" stroke="#000" stroke-width="0.7"/>
<polygon points="301.0,505.0 300.1,502.4 302.3,502.7" fill="#000"/>
<line x1="334.9" y1="402.0" x2="313.9" y2="472.0" stroke="#000" stroke-width="0.7"/>
<polygon points="313.9,472.0 313.0,469.4 315.2,469.7" fill="#000"/>
<line x1="332.5" y1="420.0" x2="306.1" y2="508.0" stroke="#000" stroke-width="0.7"/>
<polygon points="306.1,508.0 305.2,505.4 307.4,505.7" fill="#000"/>
<line x1="339.1" y1="408.0" x2="321.1" y2="468.0" stroke="#000" stroke-width="0.7"/>
<polygon points="321.1,468.0 320.2,465.4 322.4,465.7" fill="#000"/>
<line x1="319.5" y1="440.0" x2="294.0" y2="525.0" stroke="#000" stroke-width="0.7"/>
<polygon points="294.0,525.0 293.1,522.4 295.3,522.7" fill="#000"/>
<line x1="320.9" y1="452.0" x2="297.5" y2="530.0" stroke="#000" stroke-width="0.7"/>
<polygon points="297.5,530.0 296.6,527.4 298.8,527.7" fill="#000"/>
<line x1="329.7" y1="436.0" x2="308.7" y2="506.0" stroke="#000" stroke-width="0.7"/>
<polygon points="308.7,506.0 307.8,503.4 310.0,503.7" fill="#000"/>
<line x1="335.5" y1="430.0" x2="319.0" y2="485.0" stroke="#000" stroke-width="0.7"/>
<polygon points="319.0,485.0 318.1,482.4 320.3,482.7" fill="#000"/>
<line x1="312.5" y1="470.0" x2="291.5" y2="540.0" stroke="#000" stroke-width="0.7"/>
<polygon points="291.5,540.0 290.6,537.4 292.8,537.7" fill="#000"/>
<line x1="314.5" y1="480.0" x2="295.9" y2="542.0" stroke="#000" stroke-width="0.7"/>
<polygon points="295.9,542.0 295.0,539.4 297.2,539.7" fill="#000"/>
<line x1="310.0" y1="465.0" x2="287.5" y2="540.0" stroke="#000" stroke-width="0.7"/>
<polygon points="287.5,540.0 286.6,537.4 288.8,537.7" fill="#000"/>
<line x1="325.5" y1="460.0" x2="310.5" y2="510.0" stroke="#000" stroke-width="0.7"/>
<polygon points="310.5,510.0 309.6,507.4 311.8,507.7" fill="#000"/>
</g>
<line x1="288" y1="289.1" x2="321.4" y2="301.2" stroke="#000" stroke-width="0.9"/>
<line x1="309.3" y1="287.6" x2="324.5" y2="302.8" stroke="#000" stroke-width="0.9"/>
<line x1="320" y1="287.6" x2="330.5" y2="310.4" stroke="#000" stroke-width="0.9"/>
<line x1="324.5" y1="286" x2="342.7" y2="316.4" stroke="#000" stroke-width="0.9"/>
<line x1="333.6" y1="289" x2="351.8" y2="319.5" stroke="#000" stroke-width="0.9"/>
<line x1="206" y1="301.3" x2="200" y2="301.5" stroke="#000" stroke-width="0.9"/>
<line x1="206" y1="309.5" x2="200" y2="309.6" stroke="#000" stroke-width="0.9"/>
<polygon points="321.4,308.9 326.7,310.4 331.0,317.9 335.3,325.4 337.4,335.0 339.6,345.7 342.8,356.4 343.9,363.9 340.6,372.5 337.4,373.6 333.1,368.2 329.9,365.0 331.0,375.7 333.2,380.0 334.0,383.2 329.9,388.0 326.7,392.9 326.7,399.3 325.1,412.2 321.9,423.4 317.9,434.7 313.9,447.5 309.9,458.8 306.4,465.7 302.1,480.0 297.8,494.3 293.5,508.2 290.3,514.7 285.5,524.3 279.1,529.1 271.0,533.2 264.6,535.6 258.2,537.2 251.7,537.2 243.7,532.3 235.7,527.5 230.8,522.7 227.6,514.7 227.6,506.6 226.5,500.2 222.8,492.2 220.4,484.1 220.4,472.9 224.4,464.8 229.2,460.0 232.1,453.0 237.8,447.9 241.0,439.3 238.9,430.7 236.7,422.1 233.5,413.6 231.4,402.9 232.4,394.3 235.6,387.9 239.9,381.4 241.0,377.1 248.5,375.0 257.1,372.9 265.6,370.7 274.2,369.6 283.9,363.9 287.1,360.7 290.3,357.5 294.6,352.1 301.0,351.1 298.9,345.7 299.9,339.3 301.0,331.8 305.3,327.5 308.5,329.6 314.9,327.5 317.1,320.0 314.9,313.6 317.1,311.4" fill="#fff" stroke="#222" stroke-width="0.7"/>
<ellipse cx="222" cy="299" rx="2.5" ry="3.5" fill="none" stroke="#222" stroke-width="0.7"/>
<ellipse cx="227.5" cy="310" rx="1.6" ry="1.2" fill="none" stroke="#222" stroke-width="0.7"/>
<ellipse cx="239.5" cy="307" rx="2" ry="2.2" fill="none" stroke="#222" stroke-width="0.7"/>
<ellipse cx="252" cy="318" rx="1.8" ry="2.2" fill="none" stroke="#222" stroke-width="0.7"/>
<rect x="234.10" y="465.4" width="3.85" height="11.7" fill="#a01010"/>
<rect x="237.70" y="465.4" width="7.65" height="11.7" fill="#e01010"/>
<rect x="245.10" y="465.4" width="4.25" height="11.7" fill="#ff5020"/>
<rect x="249.10" y="465.4" width="4.95" height="11.7" fill="#ff9010"/>
<rect x="253.80" y="465.4" width="5.65" height="11.7" fill="#ffc010"/>
<rect x="259.20" y="465.4" width="5.65" height="11.7" fill="#fcd9b2"/>
<rect x="264.60" y="465.4" width="5.65" height="11.7" fill="#80e0c0"/>
<rect x="270.00" y="465.4" width="5.65" height="11.7" fill="#70d0e0"/>
<rect x="275.40" y="465.4" width="4.95" height="11.7" fill="#40a0f0"/>
<rect x="280.10" y="465.4" width="4.25" height="11.7" fill="#2060f0"/>
<rect x="284.10" y="465.4" width="5.35" height="11.7" fill="#0000c0"/>
<text x="238.9" y="484.4" font-family="'Liberation Sans', Arial, sans-serif" font-size="8.8" font-weight="bold" text-anchor="middle" dominant-baseline="central">-2</text>
<text x="259.2" y="484.4" font-family="'Liberation Sans', Arial, sans-serif" font-size="8.8" font-weight="bold" text-anchor="middle" dominant-baseline="central">0</text>
<text x="281.4" y="484.4" font-family="'Liberation Sans', Arial, sans-serif" font-size="8.8" font-weight="bold" text-anchor="middle" dominant-baseline="central">+2</text>
<rect x="249.5" y="494.4" width="12.7" height="12.1" fill="#fff" stroke="#000" stroke-width="0.8"/>
<line x1="253" y1="498.5" x2="258" y2="498.5" stroke="#000" stroke-width="0.8"/><polygon points="259,498.5 257,497.3 257,499.7" fill="#000"/>
<text x="255.9" y="502.6" font-family="'Liberation Sans', Arial, sans-serif" font-size="6" font-weight="bold" text-anchor="middle" dominant-baseline="central">0.1</text>
<rect x="202.0" y="292.1" width="163.7" height="266.8" fill="none" stroke="#8a8a8a" stroke-width="1"/>
<line x1="214.6" y1="558.9" x2="214.6" y2="555.9" stroke="#8a8a8a" stroke-width="1"/>
<line x1="214.6" y1="292.1" x2="214.6" y2="295.1" stroke="#8a8a8a" stroke-width="1"/>
<line x1="231.9" y1="558.9" x2="231.9" y2="555.9" stroke="#8a8a8a" stroke-width="1"/>
<line x1="231.9" y1="292.1" x2="231.9" y2="295.1" stroke="#8a8a8a" stroke-width="1"/>
<text x="231.9" y="567.2" font-family="'Liberation Sans', Arial, sans-serif" font-size="6.6" font-weight="normal" text-anchor="middle" dominant-baseline="central" fill="#000" textLength="11.0" lengthAdjust="spacingAndGlyphs">44°E</text>
<line x1="249.2" y1="558.9" x2="249.2" y2="555.9" stroke="#8a8a8a" stroke-width="1"/>
<line x1="249.2" y1="292.1" x2="249.2" y2="295.1" stroke="#8a8a8a" stroke-width="1"/>
<line x1="266.4" y1="558.9" x2="266.4" y2="555.9" stroke="#8a8a8a" stroke-width="1"/>
<line x1="266.4" y1="292.1" x2="266.4" y2="295.1" stroke="#8a8a8a" stroke-width="1"/>
<text x="266.44" y="567.2" font-family="'Liberation Sans', Arial, sans-serif" font-size="6.6" font-weight="normal" text-anchor="middle" dominant-baseline="central" fill="#000" textLength="11.0" lengthAdjust="spacingAndGlyphs">46°E</text>
<line x1="283.7" y1="558.9" x2="283.7" y2="555.9" stroke="#8a8a8a" stroke-width="1"/>
<line x1="283.7" y1="292.1" x2="283.7" y2="295.1" stroke="#8a8a8a" stroke-width="1"/>
<line x1="301.0" y1="558.9" x2="301.0" y2="555.9" stroke="#8a8a8a" stroke-width="1"/>
<line x1="301.0" y1="292.1" x2="301.0" y2="295.1" stroke="#8a8a8a" stroke-width="1"/>
<text x="300.98" y="567.2" font-family="'Liberation Sans', Arial, sans-serif" font-size="6.6" font-weight="normal" text-anchor="middle" dominant-baseline="central" fill="#000" textLength="11.0" lengthAdjust="spacingAndGlyphs">48°E</text>
<line x1="318.2" y1="558.9" x2="318.2" y2="555.9" stroke="#8a8a8a" stroke-width="1"/>
<line x1="318.2" y1="292.1" x2="318.2" y2="295.1" stroke="#8a8a8a" stroke-width="1"/>
<line x1="335.5" y1="558.9" x2="335.5" y2="555.9" stroke="#8a8a8a" stroke-width="1"/>
<line x1="335.5" y1="292.1" x2="335.5" y2="295.1" stroke="#8a8a8a" stroke-width="1"/>
<text x="335.52" y="567.2" font-family="'Liberation Sans', Arial, sans-serif" font-size="6.6" font-weight="normal" text-anchor="middle" dominant-baseline="central" fill="#000" textLength="11.0" lengthAdjust="spacingAndGlyphs">50°E</text>
<line x1="352.8" y1="558.9" x2="352.8" y2="555.9" stroke="#8a8a8a" stroke-width="1"/>
<line x1="352.8" y1="292.1" x2="352.8" y2="295.1" stroke="#8a8a8a" stroke-width="1"/>
<line x1="202.0" y1="306.3" x2="205.0" y2="306.3" stroke="#8a8a8a" stroke-width="1"/>
<line x1="365.7" y1="306.3" x2="362.7" y2="306.3" stroke="#8a8a8a" stroke-width="1"/>
<text x="195.7" y="306.3" font-family="'Liberation Sans', Arial, sans-serif" font-size="6.6" font-weight="normal" text-anchor="middle" dominant-baseline="central" fill="#000" transform="rotate(-90 195.7 306.3)" textLength="10.5" lengthAdjust="spacingAndGlyphs">12°S</text>
<line x1="202.0" y1="323.4" x2="205.0" y2="323.4" stroke="#8a8a8a" stroke-width="1"/>
<line x1="365.7" y1="323.4" x2="362.7" y2="323.4" stroke="#8a8a8a" stroke-width="1"/>
<line x1="202.0" y1="340.5" x2="205.0" y2="340.5" stroke="#8a8a8a" stroke-width="1"/>
<line x1="365.7" y1="340.5" x2="362.7" y2="340.5" stroke="#8a8a8a" stroke-width="1"/>
<text x="195.7" y="340.54" font-family="'Liberation Sans', Arial, sans-serif" font-size="6.6" font-weight="normal" text-anchor="middle" dominant-baseline="central" fill="#000" transform="rotate(-90 195.7 340.54)" textLength="10.5" lengthAdjust="spacingAndGlyphs">14°S</text>
<line x1="202.0" y1="357.7" x2="205.0" y2="357.7" stroke="#8a8a8a" stroke-width="1"/>
<line x1="365.7" y1="357.7" x2="362.7" y2="357.7" stroke="#8a8a8a" stroke-width="1"/>
<line x1="202.0" y1="374.8" x2="205.0" y2="374.8" stroke="#8a8a8a" stroke-width="1"/>
<line x1="365.7" y1="374.8" x2="362.7" y2="374.8" stroke="#8a8a8a" stroke-width="1"/>
<text x="195.7" y="374.78000000000003" font-family="'Liberation Sans', Arial, sans-serif" font-size="6.6" font-weight="normal" text-anchor="middle" dominant-baseline="central" fill="#000" transform="rotate(-90 195.7 374.78000000000003)" textLength="10.5" lengthAdjust="spacingAndGlyphs">16°S</text>
<line x1="202.0" y1="391.9" x2="205.0" y2="391.9" stroke="#8a8a8a" stroke-width="1"/>
<line x1="365.7" y1="391.9" x2="362.7" y2="391.9" stroke="#8a8a8a" stroke-width="1"/>
<line x1="202.0" y1="409.0" x2="205.0" y2="409.0" stroke="#8a8a8a" stroke-width="1"/>
<line x1="365.7" y1="409.0" x2="362.7" y2="409.0" stroke="#8a8a8a" stroke-width="1"/>
<text x="195.7" y="409.02" font-family="'Liberation Sans', Arial, sans-serif" font-size="6.6" font-weight="normal" text-anchor="middle" dominant-baseline="central" fill="#000" transform="rotate(-90 195.7 409.02)" textLength="10.5" lengthAdjust="spacingAndGlyphs">18°S</text>
<line x1="202.0" y1="426.1" x2="205.0" y2="426.1" stroke="#8a8a8a" stroke-width="1"/>
<line x1="365.7" y1="426.1" x2="362.7" y2="426.1" stroke="#8a8a8a" stroke-width="1"/>
<line x1="202.0" y1="443.3" x2="205.0" y2="443.3" stroke="#8a8a8a" stroke-width="1"/>
<line x1="365.7" y1="443.3" x2="362.7" y2="443.3" stroke="#8a8a8a" stroke-width="1"/>
<text x="195.7" y="443.26" font-family="'Liberation Sans', Arial, sans-serif" font-size="6.6" font-weight="normal" text-anchor="middle" dominant-baseline="central" fill="#000" transform="rotate(-90 195.7 443.26)" textLength="10.5" lengthAdjust="spacingAndGlyphs">20°S</text>
<line x1="202.0" y1="460.4" x2="205.0" y2="460.4" stroke="#8a8a8a" stroke-width="1"/>
<line x1="365.7" y1="460.4" x2="362.7" y2="460.4" stroke="#8a8a8a" stroke-width="1"/>
<line x1="202.0" y1="477.5" x2="205.0" y2="477.5" stroke="#8a8a8a" stroke-width="1"/>
<line x1="365.7" y1="477.5" x2="362.7" y2="477.5" stroke="#8a8a8a" stroke-width="1"/>
<text x="195.7" y="477.5" font-family="'Liberation Sans', Arial, sans-serif" font-size="6.6" font-weight="normal" text-anchor="middle" dominant-baseline="central" fill="#000" transform="rotate(-90 195.7 477.5)" textLength="10.5" lengthAdjust="spacingAndGlyphs">22°S</text>
<line x1="202.0" y1="494.6" x2="205.0" y2="494.6" stroke="#8a8a8a" stroke-width="1"/>
<line x1="365.7" y1="494.6" x2="362.7" y2="494.6" stroke="#8a8a8a" stroke-width="1"/>
<line x1="202.0" y1="511.7" x2="205.0" y2="511.7" stroke="#8a8a8a" stroke-width="1"/>
<line x1="365.7" y1="511.7" x2="362.7" y2="511.7" stroke="#8a8a8a" stroke-width="1"/>
<text x="195.7" y="511.74" font-family="'Liberation Sans', Arial, sans-serif" font-size="6.6" font-weight="normal" text-anchor="middle" dominant-baseline="central" fill="#000" transform="rotate(-90 195.7 511.74)" textLength="10.5" lengthAdjust="spacingAndGlyphs">24°S</text>
<line x1="202.0" y1="528.9" x2="205.0" y2="528.9" stroke="#8a8a8a" stroke-width="1"/>
<line x1="365.7" y1="528.9" x2="362.7" y2="528.9" stroke="#8a8a8a" stroke-width="1"/>
<line x1="202.0" y1="546.0" x2="205.0" y2="546.0" stroke="#8a8a8a" stroke-width="1"/>
<line x1="365.7" y1="546.0" x2="362.7" y2="546.0" stroke="#8a8a8a" stroke-width="1"/>
<text x="195.7" y="545.98" font-family="'Liberation Sans', Arial, sans-serif" font-size="6.6" font-weight="normal" text-anchor="middle" dominant-baseline="central" fill="#000" transform="rotate(-90 195.7 545.98)" textLength="10.5" lengthAdjust="spacingAndGlyphs">26°S</text>
<text x="283.9" y="573.8" font-family="'Liberation Sans', Arial, sans-serif" font-size="7.2" font-weight="normal" text-anchor="middle" dominant-baseline="central" fill="#000">lon</text>
<text x="188.5" y="426.4" font-family="'Liberation Sans', Arial, sans-serif" font-size="7.2" font-weight="normal" text-anchor="middle" dominant-baseline="central" fill="#000" transform="rotate(-90 188.5 426.4)">lat</text>
</g>
<g id="panel-f">
<clipPath id="dat-f"><rect x="388.0" y="295.7" width="155.3" height="259.8"/></clipPath>
<g clip-path="url(#dat-f)">
<polygon points="388.0,295.7 543.3,295.7 543.3,555.5 388.0,555.5" fill="#14eef0"/>
<polygon points="388.0,306.0 447.0,306.0 450.0,320.0 444.0,330.0 462.0,326.0 480.0,318.0 497.0,306.0 506.0,306.0 502.0,322.0 495.0,332.0 484.0,348.0 470.0,360.0 450.0,368.0 428.0,375.0 420.0,382.0 414.0,392.0 411.0,404.0 413.0,416.0 417.0,425.0 419.0,440.0 408.0,440.0 404.0,425.0 402.0,405.0 404.0,385.0 410.0,370.0 418.0,357.0 425.0,345.0 418.0,335.0 410.0,329.0 388.0,329.0" fill="#4cd4cc"/>
<polygon points="388.0,315.7 410.7,315.7 410.7,327.0 388.0,327.0" fill="#2cc4c8"/>
<polygon points="388.0,336.0 404.0,336.0 412.0,345.0 406.0,365.0 400.0,388.0 398.0,420.0 388.0,420.0" fill="#30f4f4"/>
<polygon points="394.0,345.0 400.0,345.0 401.0,380.0 398.0,400.0 394.0,400.0" fill="#70f8f4"/>
<polygon points="520.0,296.0 543.3,296.0 543.3,400.0 530.0,402.0 524.0,380.0 522.0,340.0 525.0,310.0" fill="#48d8d0"/>
<polygon points="530.0,330.0 543.3,320.0 543.3,395.0 535.0,390.0 530.0,360.0" fill="#20c0dc"/>
<polyline points="500.0,310.0 497.0,313.0 498.6,320.0 496.4,327.5 490.0,329.6 486.8,327.5 482.5,331.8 481.4,339.3 480.4,345.7 482.5,351.1 476.1,352.1 471.8,357.5 468.6,360.7 465.4,363.9 455.7,369.6 447.1,370.7 438.6,372.9 430.0,375.0 422.5,377.1 421.4,381.4 417.1,387.9 413.9,394.3 412.9,402.9 415.0,413.6 418.2,422.1 420.4,430.7 422.5,439.3" fill="none" stroke="#30c0dc" stroke-width="12" stroke-linejoin="round" stroke-linecap="round"/>
<polyline points="500.0,310.0 497.0,313.0 498.6,320.0 496.4,327.5 490.0,329.6 486.8,327.5 482.5,331.8 481.4,339.3 480.4,345.7 482.5,351.1 476.1,352.1 471.8,357.5 468.6,360.7 465.4,363.9 455.7,369.6 447.1,370.7 438.6,372.9 430.0,375.0 422.5,377.1 421.4,381.4 417.1,387.9 413.9,394.3 412.9,402.9 415.0,413.6 418.2,422.1 420.4,430.7 422.5,439.3" fill="none" stroke="#2a8cf2" stroke-width="7" stroke-linejoin="round" stroke-linecap="round"/>
<polyline points="500.0,310.0 497.0,313.0 498.6,320.0 496.4,327.5 490.0,329.6 486.8,327.5 482.5,331.8 481.4,339.3 480.4,345.7 482.5,351.1 476.1,352.1 471.8,357.5 468.6,360.7 465.4,363.9 455.7,369.6 447.1,370.7 438.6,372.9 430.0,375.0 422.5,377.1 421.4,381.4 417.1,387.9 413.9,394.3 412.9,402.9 415.0,413.6 418.2,422.1 420.4,430.7 422.5,439.3" fill="none" stroke="#7266e6" stroke-width="3.5" stroke-linejoin="round" stroke-linecap="round"/>
<polyline points="422.5,377.1 421.4,381.4 417.1,387.9 413.9,394.3 412.9,402.9 415.0,413.6" fill="none" stroke="#3a3aa0" stroke-width="2.5" stroke-linejoin="round" stroke-linecap="round"/>
<polygon points="412.0,388.0 416.0,384.0 418.0,392.0 415.0,402.0 411.0,400.0" fill="#000"/>
<polygon points="388.0,400.0 395.0,398.0 395.0,470.0 388.0,470.0" fill="#20e890"/>
<polygon points="395.0,398.0 403.0,398.0 403.0,470.0 395.0,470.0" fill="#90f0c0"/>
<polygon points="388.0,463.0 395.0,465.0 405.0,475.0 470.0,480.0 470.0,560.0 388.0,560.0" fill="#40e040"/>
<polygon points="388.0,470.0 395.0,473.0 405.0,482.0 470.0,490.0 470.0,560.0 388.0,560.0" fill="#10d010"/>
<polygon points="388.0,478.0 400.0,482.0 408.0,492.0 470.0,498.0 470.0,560.0 388.0,560.0" fill="#a8f040"/>
<polygon points="388.0,484.0 400.0,488.0 408.0,497.0 470.0,505.0 470.0,560.0 388.0,560.0" fill="#ffff10"/>
<polygon points="388.0,490.0 400.0,494.0 408.0,503.0 470.0,512.0 470.0,560.0 388.0,560.0" fill="#f0e8a8"/>
<polygon points="388.0,497.0 400.0,500.0 409.0,510.0 415.0,525.0 430.0,537.0 445.0,540.0 460.0,536.0 475.0,530.0 475.0,560.0 388.0,560.0" fill="#ffa840"/>
<polygon points="388.0,507.0 398.0,510.0 408.0,520.0 418.0,532.0 430.0,542.0 445.0,544.0 460.0,541.0 475.0,538.0 475.0,560.0 388.0,560.0" fill="#f8a080"/>
<polygon points="388.0,515.0 398.0,518.0 410.0,530.0 425.0,545.0 445.0,548.0 475.0,546.0 475.0,560.0 388.0,560.0" fill="#f87868"/>
<polygon points="388.0,520.0 398.0,523.0 405.0,535.0 415.0,552.0 425.0,560.0 425.0,560.0 388.0,560.0" fill="#ff1010"/>
<polygon points="388.0,524.0 399.0,527.0 401.0,553.0 388.0,556.0" fill="#a31c1c"/>
<polygon points="443.0,539.0 449.0,538.0 450.0,543.0 444.0,545.0" fill="#ff1010"/>
<polygon points="500.0,404.0 543.3,404.0 543.3,560.0 472.0,560.0 470.0,530.0 474.0,480.0 485.0,440.0 495.0,408.0" fill="#7cf040"/>
<polyline points="507.0,402.0 503.0,423.0 496.0,447.0 488.0,466.0 480.0,494.0 474.0,514.0 468.0,526.0" fill="none" stroke="#30e030" stroke-width="6" stroke-linejoin="round" stroke-linecap="round"/>
<polygon points="505.0,398.0 543.3,398.0 543.3,447.0 530.0,455.0 520.0,475.0 512.0,495.0 506.0,500.0 503.0,480.0 504.0,440.0" fill="#70f0c8"/>
<polygon points="512.0,398.0 528.0,398.0 526.0,440.0 519.0,468.0 511.0,485.0 508.0,470.0 509.0,430.0" fill="#40f0f0"/>
<polygon points="543.3,398.0 543.3,380.0 528.0,380.0 527.0,398.0" fill="#48d8d0"/>
<polyline points="506.0,405.0 501.0,440.0 496.0,478.0 495.0,508.0 498.0,521.0 511.0,504.0 526.0,485.0 546.3,462.0" fill="none" stroke="#10d010" stroke-width="5" stroke-linejoin="round" stroke-linecap="round"/>
<polyline points="503.0,412.0 498.0,450.0 492.0,490.0 492.0,512.0" fill="none" stroke="#40e040" stroke-width="4" stroke-linejoin="round" stroke-linecap="round"/>
<polyline points="466.0,529.0 480.0,531.0 494.0,534.0 510.0,516.0 525.0,498.0 546.3,476.0" fill="none" stroke="#ffff20" stroke-width="5" stroke-linejoin="round" stroke-linecap="round"/>
<polygon points="462.0,536.0 494.0,538.0 512.0,521.0 528.0,503.0 543.3,487.0 543.3,560.0 462.0,560.0" fill="#f0e4a0"/>
<polygon points="462.0,541.0 498.0,542.0 515.0,526.0 530.0,511.0 543.3,497.0 543.3,560.0 462.0,560.0" fill="#ffa830"/>
<polygon points="462.0,547.0 478.0,546.0 502.0,545.0 518.0,533.0 533.0,519.0 543.3,508.0 543.3,560.0 462.0,560.0" fill="#fa8470"/>
<polygon points="490.0,556.0 505.0,547.0 520.0,535.0 535.0,522.0 543.3,512.0 543.3,560.0 490.0,560.0" fill="#ff1818"/>
<polygon points="500.0,558.0 512.0,551.0 527.0,539.0 543.3,526.0 543.3,560.0 500.0,560.0" fill="#a01818"/>
<polygon points="522.0,558.0 532.0,549.0 543.3,539.0 543.3,560.0 522.0,560.0" fill="#d02878"/>
</g>
<polygon points="502.9,308.9 508.2,310.4 512.5,317.9 516.8,325.4 518.9,335.0 521.1,345.7 524.3,356.4 525.4,363.9 522.1,372.5 518.9,373.6 514.6,368.2 511.4,365.0 512.5,375.7 514.7,380.0 515.5,383.2 511.4,388.0 508.2,392.9 508.2,399.3 506.6,412.2 503.4,423.4 499.4,434.7 495.4,447.5 491.4,458.8 487.9,465.7 483.6,480.0 479.3,494.3 475.0,508.2 471.8,514.7 467.0,524.3 460.6,529.1 452.5,533.2 446.1,535.6 439.7,537.2 433.2,537.2 425.2,532.3 417.2,527.5 412.3,522.7 409.1,514.7 409.1,506.6 408.0,500.2 404.3,492.2 401.9,484.1 401.9,472.9 405.9,464.8 410.7,460.0 413.6,453.0 419.3,447.9 422.5,439.3 420.4,430.7 418.2,422.1 415.0,413.6 412.9,402.9 413.9,394.3 417.1,387.9 421.4,381.4 422.5,377.1 430.0,375.0 438.6,372.9 447.1,370.7 455.7,369.6 465.4,363.9 468.6,360.7 471.8,357.5 476.1,352.1 482.5,351.1 480.4,345.7 481.4,339.3 482.5,331.8 486.8,327.5 490.0,329.6 496.4,327.5 498.6,320.0 496.4,313.6 498.6,311.4" fill="#fff" stroke="#111" stroke-width="0.8"/>
<ellipse cx="403.5" cy="299" rx="2.5" ry="3.5" fill="#fff" stroke="#111" stroke-width="0.7"/>
<ellipse cx="409" cy="310" rx="1.6" ry="1.2" fill="#fff" stroke="#111" stroke-width="0.7"/>
<ellipse cx="421" cy="307" rx="2" ry="2.2" fill="#fff" stroke="#111" stroke-width="0.7"/>
<ellipse cx="433.5" cy="318" rx="1.8" ry="2.2" fill="#fff" stroke="#111" stroke-width="0.7"/>
<ellipse cx="504.6" cy="305.4" rx="1.8" ry="1.8" fill="#fff" stroke="#111" stroke-width="0.7"/>
<rect x="413.30" y="469.7" width="3.06" height="12.0" fill="#0808a0"/>
<rect x="416.06" y="469.7" width="3.06" height="12.0" fill="#3030d8"/>
<rect x="418.82" y="469.7" width="3.06" height="12.0" fill="#6a60d8"/>
<rect x="421.58" y="469.7" width="3.06" height="12.0" fill="#7878f0"/>
<rect x="424.34" y="469.7" width="3.06" height="12.0" fill="#5090f0"/>
<rect x="427.10" y="469.7" width="3.06" height="12.0" fill="#40b0f0"/>
<rect x="429.85" y="469.7" width="3.06" height="12.0" fill="#40d8e8"/>
<rect x="432.61" y="469.7" width="3.06" height="12.0" fill="#80f0f0"/>
<rect x="435.37" y="469.7" width="3.06" height="12.0" fill="#b0f8e0"/>
<rect x="438.13" y="469.7" width="3.06" height="12.0" fill="#20e020"/>
<rect x="440.89" y="469.7" width="3.06" height="12.0" fill="#10c010"/>
<rect x="443.65" y="469.7" width="3.06" height="12.0" fill="#c0f040"/>
<rect x="446.41" y="469.7" width="3.06" height="12.0" fill="#ffff20"/>
<rect x="449.17" y="469.7" width="3.06" height="12.0" fill="#f0e0a0"/>
<rect x="451.93" y="469.7" width="3.06" height="12.0" fill="#ffb020"/>
<rect x="454.69" y="469.7" width="3.06" height="12.0" fill="#ffa060"/>
<rect x="457.45" y="469.7" width="3.06" height="12.0" fill="#f88070"/>
<rect x="460.20" y="469.7" width="3.06" height="12.0" fill="#ff4040"/>
<rect x="462.96" y="469.7" width="3.06" height="12.0" fill="#b01818"/>
<rect x="465.72" y="469.7" width="3.06" height="12.0" fill="#801010"/>
<rect x="468.48" y="469.7" width="3.06" height="12.0" fill="#801010"/>
<rect x="471.24" y="469.7" width="3.06" height="12.0" fill="#ff20a0"/>
<text x="409.3" y="488.2" font-family="'Liberation Sans', Arial, sans-serif" font-size="8.8" font-weight="bold" textLength="17.1" lengthAdjust="spacingAndGlyphs" dominant-baseline="central">34.80</text>
<text x="433.1" y="488.2" font-family="'Liberation Sans', Arial, sans-serif" font-size="8.8" font-weight="bold" textLength="17.1" lengthAdjust="spacingAndGlyphs" dominant-baseline="central">34.95</text>
<text x="456.6" y="488.2" font-family="'Liberation Sans', Arial, sans-serif" font-size="8.8" font-weight="bold" textLength="17.1" lengthAdjust="spacingAndGlyphs" dominant-baseline="central">35.10</text>
<rect x="384.5" y="292.1" width="162.6" height="265.9" fill="none" stroke="#8a8a8a" stroke-width="1"/>
<line x1="396.3" y1="558.0" x2="396.3" y2="555.0" stroke="#8a8a8a" stroke-width="1"/>
<line x1="396.3" y1="292.1" x2="396.3" y2="295.1" stroke="#8a8a8a" stroke-width="1"/>
<line x1="413.6" y1="558.0" x2="413.6" y2="555.0" stroke="#8a8a8a" stroke-width="1"/>
<line x1="413.6" y1="292.1" x2="413.6" y2="295.1" stroke="#8a8a8a" stroke-width="1"/>
<text x="413.6" y="567.2" font-family="'Liberation Sans', Arial, sans-serif" font-size="6.6" font-weight="normal" text-anchor="middle" dominant-baseline="central" fill="#000" textLength="11.0" lengthAdjust="spacingAndGlyphs">44°E</text>
<line x1="430.9" y1="558.0" x2="430.9" y2="555.0" stroke="#8a8a8a" stroke-width="1"/>
<line x1="430.9" y1="292.1" x2="430.9" y2="295.1" stroke="#8a8a8a" stroke-width="1"/>
<line x1="448.1" y1="558.0" x2="448.1" y2="555.0" stroke="#8a8a8a" stroke-width="1"/>
<line x1="448.1" y1="292.1" x2="448.1" y2="295.1" stroke="#8a8a8a" stroke-width="1"/>
<text x="448.14000000000004" y="567.2" font-family="'Liberation Sans', Arial, sans-serif" font-size="6.6" font-weight="normal" text-anchor="middle" dominant-baseline="central" fill="#000" textLength="11.0" lengthAdjust="spacingAndGlyphs">46°E</text>
<line x1="465.4" y1="558.0" x2="465.4" y2="555.0" stroke="#8a8a8a" stroke-width="1"/>
<line x1="465.4" y1="292.1" x2="465.4" y2="295.1" stroke="#8a8a8a" stroke-width="1"/>
<line x1="482.7" y1="558.0" x2="482.7" y2="555.0" stroke="#8a8a8a" stroke-width="1"/>
<line x1="482.7" y1="292.1" x2="482.7" y2="295.1" stroke="#8a8a8a" stroke-width="1"/>
<text x="482.68" y="567.2" font-family="'Liberation Sans', Arial, sans-serif" font-size="6.6" font-weight="normal" text-anchor="middle" dominant-baseline="central" fill="#000" textLength="11.0" lengthAdjust="spacingAndGlyphs">48°E</text>
<line x1="500.0" y1="558.0" x2="500.0" y2="555.0" stroke="#8a8a8a" stroke-width="1"/>
<line x1="500.0" y1="292.1" x2="500.0" y2="295.1" stroke="#8a8a8a" stroke-width="1"/>
<line x1="517.2" y1="558.0" x2="517.2" y2="555.0" stroke="#8a8a8a" stroke-width="1"/>
<line x1="517.2" y1="292.1" x2="517.2" y2="295.1" stroke="#8a8a8a" stroke-width="1"/>
<text x="517.22" y="567.2" font-family="'Liberation Sans', Arial, sans-serif" font-size="6.6" font-weight="normal" text-anchor="middle" dominant-baseline="central" fill="#000" textLength="11.0" lengthAdjust="spacingAndGlyphs">50°E</text>
<line x1="534.5" y1="558.0" x2="534.5" y2="555.0" stroke="#8a8a8a" stroke-width="1"/>
<line x1="534.5" y1="292.1" x2="534.5" y2="295.1" stroke="#8a8a8a" stroke-width="1"/>
<line x1="384.5" y1="306.3" x2="387.5" y2="306.3" stroke="#8a8a8a" stroke-width="1"/>
<line x1="547.1" y1="306.3" x2="544.1" y2="306.3" stroke="#8a8a8a" stroke-width="1"/>
<text x="378.2" y="306.3" font-family="'Liberation Sans', Arial, sans-serif" font-size="6.6" font-weight="normal" text-anchor="middle" dominant-baseline="central" fill="#000" transform="rotate(-90 378.2 306.3)" textLength="10.5" lengthAdjust="spacingAndGlyphs">12°S</text>
<line x1="384.5" y1="323.4" x2="387.5" y2="323.4" stroke="#8a8a8a" stroke-width="1"/>
<line x1="547.1" y1="323.4" x2="544.1" y2="323.4" stroke="#8a8a8a" stroke-width="1"/>
<line x1="384.5" y1="340.5" x2="387.5" y2="340.5" stroke="#8a8a8a" stroke-width="1"/>
<line x1="547.1" y1="340.5" x2="544.1" y2="340.5" stroke="#8a8a8a" stroke-width="1"/>
<text x="378.2" y="340.54" font-family="'Liberation Sans', Arial, sans-serif" font-size="6.6" font-weight="normal" text-anchor="middle" dominant-baseline="central" fill="#000" transform="rotate(-90 378.2 340.54)" textLength="10.5" lengthAdjust="spacingAndGlyphs">14°S</text>
<line x1="384.5" y1="357.7" x2="387.5" y2="357.7" stroke="#8a8a8a" stroke-width="1"/>
<line x1="547.1" y1="357.7" x2="544.1" y2="357.7" stroke="#8a8a8a" stroke-width="1"/>
<line x1="384.5" y1="374.8" x2="387.5" y2="374.8" stroke="#8a8a8a" stroke-width="1"/>
<line x1="547.1" y1="374.8" x2="544.1" y2="374.8" stroke="#8a8a8a" stroke-width="1"/>
<text x="378.2" y="374.78000000000003" font-family="'Liberation Sans', Arial, sans-serif" font-size="6.6" font-weight="normal" text-anchor="middle" dominant-baseline="central" fill="#000" transform="rotate(-90 378.2 374.78000000000003)" textLength="10.5" lengthAdjust="spacingAndGlyphs">16°S</text>
<line x1="384.5" y1="391.9" x2="387.5" y2="391.9" stroke="#8a8a8a" stroke-width="1"/>
<line x1="547.1" y1="391.9" x2="544.1" y2="391.9" stroke="#8a8a8a" stroke-width="1"/>
<line x1="384.5" y1="409.0" x2="387.5" y2="409.0" stroke="#8a8a8a" stroke-width="1"/>
<line x1="547.1" y1="409.0" x2="544.1" y2="409.0" stroke="#8a8a8a" stroke-width="1"/>
<text x="378.2" y="409.02" font-family="'Liberation Sans', Arial, sans-serif" font-size="6.6" font-weight="normal" text-anchor="middle" dominant-baseline="central" fill="#000" transform="rotate(-90 378.2 409.02)" textLength="10.5" lengthAdjust="spacingAndGlyphs">18°S</text>
<line x1="384.5" y1="426.1" x2="387.5" y2="426.1" stroke="#8a8a8a" stroke-width="1"/>
<line x1="547.1" y1="426.1" x2="544.1" y2="426.1" stroke="#8a8a8a" stroke-width="1"/>
<line x1="384.5" y1="443.3" x2="387.5" y2="443.3" stroke="#8a8a8a" stroke-width="1"/>
<line x1="547.1" y1="443.3" x2="544.1" y2="443.3" stroke="#8a8a8a" stroke-width="1"/>
<text x="378.2" y="443.26" font-family="'Liberation Sans', Arial, sans-serif" font-size="6.6" font-weight="normal" text-anchor="middle" dominant-baseline="central" fill="#000" transform="rotate(-90 378.2 443.26)" textLength="10.5" lengthAdjust="spacingAndGlyphs">20°S</text>
<line x1="384.5" y1="460.4" x2="387.5" y2="460.4" stroke="#8a8a8a" stroke-width="1"/>
<line x1="547.1" y1="460.4" x2="544.1" y2="460.4" stroke="#8a8a8a" stroke-width="1"/>
<line x1="384.5" y1="477.5" x2="387.5" y2="477.5" stroke="#8a8a8a" stroke-width="1"/>
<line x1="547.1" y1="477.5" x2="544.1" y2="477.5" stroke="#8a8a8a" stroke-width="1"/>
<text x="378.2" y="477.5" font-family="'Liberation Sans', Arial, sans-serif" font-size="6.6" font-weight="normal" text-anchor="middle" dominant-baseline="central" fill="#000" transform="rotate(-90 378.2 477.5)" textLength="10.5" lengthAdjust="spacingAndGlyphs">22°S</text>
<line x1="384.5" y1="494.6" x2="387.5" y2="494.6" stroke="#8a8a8a" stroke-width="1"/>
<line x1="547.1" y1="494.6" x2="544.1" y2="494.6" stroke="#8a8a8a" stroke-width="1"/>
<line x1="384.5" y1="511.7" x2="387.5" y2="511.7" stroke="#8a8a8a" stroke-width="1"/>
<line x1="547.1" y1="511.7" x2="544.1" y2="511.7" stroke="#8a8a8a" stroke-width="1"/>
<text x="378.2" y="511.74" font-family="'Liberation Sans', Arial, sans-serif" font-size="6.6" font-weight="normal" text-anchor="middle" dominant-baseline="central" fill="#000" transform="rotate(-90 378.2 511.74)" textLength="10.5" lengthAdjust="spacingAndGlyphs">24°S</text>
<line x1="384.5" y1="528.9" x2="387.5" y2="528.9" stroke="#8a8a8a" stroke-width="1"/>
<line x1="547.1" y1="528.9" x2="544.1" y2="528.9" stroke="#8a8a8a" stroke-width="1"/>
<line x1="384.5" y1="546.0" x2="387.5" y2="546.0" stroke="#8a8a8a" stroke-width="1"/>
<line x1="547.1" y1="546.0" x2="544.1" y2="546.0" stroke="#8a8a8a" stroke-width="1"/>
<text x="378.2" y="545.98" font-family="'Liberation Sans', Arial, sans-serif" font-size="6.6" font-weight="normal" text-anchor="middle" dominant-baseline="central" fill="#000" transform="rotate(-90 378.2 545.98)" textLength="10.5" lengthAdjust="spacingAndGlyphs">26°S</text>
<text x="465.6" y="573.8" font-family="'Liberation Sans', Arial, sans-serif" font-size="7.2" font-weight="normal" text-anchor="middle" dominant-baseline="central" fill="#000">lon</text>
<text x="371.0" y="426.4" font-family="'Liberation Sans', Arial, sans-serif" font-size="7.2" font-weight="normal" text-anchor="middle" dominant-baseline="central" fill="#000" transform="rotate(-90 371.0 426.4)">lat</text>
</g>
<text x="182.8" y="265.0" font-family="'Liberation Serif', 'Times New Roman', serif" font-size="17.5" font-weight="bold" text-anchor="middle" dominant-baseline="central" fill="#000">a</text>
<text x="359.3" y="265.5" font-family="'Liberation Serif', 'Times New Roman', serif" font-size="17.5" font-weight="bold" text-anchor="middle" dominant-baseline="central" fill="#000">b</text>
<text x="549.3" y="266.0" font-family="'Liberation Serif', 'Times New Roman', serif" font-size="17.5" font-weight="bold" text-anchor="middle" dominant-baseline="central" fill="#000">c</text>
<text x="190.8" y="566.0" font-family="'Liberation Serif', 'Times New Roman', serif" font-size="17.5" font-weight="bold" text-anchor="middle" dominant-baseline="central" fill="#000">d</text>
<text x="372.5" y="566.5" font-family="'Liberation Serif', 'Times New Roman', serif" font-size="17.5" font-weight="bold" text-anchor="middle" dominant-baseline="central" fill="#000">e</text>
<text x="555.0" y="565.5" font-family="'Liberation Serif', 'Times New Roman', serif" font-size="17.5" font-weight="bold" text-anchor="middle" dominant-baseline="central" fill="#000">f</text>
<g id="chart-g">
<rect x="50.75" y="586.2" width="449.25" height="204.55" fill="none" stroke="#000" stroke-width="1"/>
<line x1="46.25" y1="586.2" x2="50.75" y2="586.2" stroke="#000" stroke-width="1"/>
<text x="42.6" y="586.2" font-family="'Liberation Sans', Arial, sans-serif" font-size="11.5" font-weight="normal" text-anchor="end" dominant-baseline="central" fill="#000">40</text>
<line x1="46.25" y1="637.3" x2="50.75" y2="637.3" stroke="#000" stroke-width="1"/>
<text x="42.6" y="637.3375000000001" font-family="'Liberation Sans', Arial, sans-serif" font-size="11.5" font-weight="normal" text-anchor="end" dominant-baseline="central" fill="#000">35</text>
<line x1="46.25" y1="688.5" x2="50.75" y2="688.5" stroke="#000" stroke-width="1"/>
<text x="42.6" y="688.475" font-family="'Liberation Sans', Arial, sans-serif" font-size="11.5" font-weight="normal" text-anchor="end" dominant-baseline="central" fill="#000">30</text>
<line x1="46.25" y1="739.6" x2="50.75" y2="739.6" stroke="#000" stroke-width="1"/>
<text x="42.6" y="739.6125000000001" font-family="'Liberation Sans', Arial, sans-serif" font-size="11.5" font-weight="normal" text-anchor="end" dominant-baseline="central" fill="#000">25</text>
<line x1="46.25" y1="790.8" x2="50.75" y2="790.8" stroke="#000" stroke-width="1"/>
<text x="42.6" y="790.75" font-family="'Liberation Sans', Arial, sans-serif" font-size="11.5" font-weight="normal" text-anchor="end" dominant-baseline="central" fill="#000">20</text>
<line x1="495.5" y1="586.2" x2="504.5" y2="586.2" stroke="#000" stroke-width="1"/>
<text x="510.5" y="586.2" font-family="'Liberation Sans', Arial, sans-serif" font-size="11.5" font-weight="normal" text-anchor="start" dominant-baseline="central" fill="#000">100</text>
<line x1="495.5" y1="637.3" x2="504.5" y2="637.3" stroke="#000" stroke-width="1"/>
<text x="510.5" y="637.3375000000001" font-family="'Liberation Sans', Arial, sans-serif" font-size="11.5" font-weight="normal" text-anchor="start" dominant-baseline="central" fill="#000">75</text>
<line x1="495.5" y1="688.5" x2="504.5" y2="688.5" stroke="#000" stroke-width="1"/>
<text x="510.5" y="688.475" font-family="'Liberation Sans', Arial, sans-serif" font-size="11.5" font-weight="normal" text-anchor="start" dominant-baseline="central" fill="#000">50</text>
<line x1="495.5" y1="739.6" x2="504.5" y2="739.6" stroke="#000" stroke-width="1"/>
<text x="510.5" y="739.6125000000001" font-family="'Liberation Sans', Arial, sans-serif" font-size="11.5" font-weight="normal" text-anchor="start" dominant-baseline="central" fill="#000">25</text>
<line x1="495.5" y1="790.8" x2="504.5" y2="790.8" stroke="#000" stroke-width="1"/>
<text x="510.5" y="790.75" font-family="'Liberation Sans', Arial, sans-serif" font-size="11.5" font-weight="normal" text-anchor="start" dominant-baseline="central" fill="#000">0</text>
<line x1="50.8" y1="790.75" x2="50.8" y2="794.75" stroke="#000" stroke-width="1"/>
<line x1="88.2" y1="790.75" x2="88.2" y2="794.75" stroke="#000" stroke-width="1"/>
<line x1="125.6" y1="790.75" x2="125.6" y2="794.75" stroke="#000" stroke-width="1"/>
<line x1="163.1" y1="790.75" x2="163.1" y2="794.75" stroke="#000" stroke-width="1"/>
<line x1="200.5" y1="790.75" x2="200.5" y2="794.75" stroke="#000" stroke-width="1"/>
<line x1="237.9" y1="790.75" x2="237.9" y2="794.75" stroke="#000" stroke-width="1"/>
<line x1="275.4" y1="790.75" x2="275.4" y2="794.75" stroke="#000" stroke-width="1"/>
<line x1="312.8" y1="790.75" x2="312.8" y2="794.75" stroke="#000" stroke-width="1"/>
<line x1="350.2" y1="790.75" x2="350.2" y2="794.75" stroke="#000" stroke-width="1"/>
<line x1="387.7" y1="790.75" x2="387.7" y2="794.75" stroke="#000" stroke-width="1"/>
<line x1="425.1" y1="790.75" x2="425.1" y2="794.75" stroke="#000" stroke-width="1"/>
<line x1="462.6" y1="790.75" x2="462.6" y2="794.75" stroke="#000" stroke-width="1"/>
<line x1="500.0" y1="790.75" x2="500.0" y2="794.75" stroke="#000" stroke-width="1"/>
<text x="70.06875" y="807.5" font-family="'Liberation Sans', Arial, sans-serif" font-size="11.5" font-weight="bold" text-anchor="middle" dominant-baseline="central" fill="#000">Aug</text>
<text x="107.50625" y="807.5" font-family="'Liberation Sans', Arial, sans-serif" font-size="11.5" font-weight="bold" text-anchor="middle" dominant-baseline="central" fill="#000">Sep</text>
<text x="144.94375" y="807.5" font-family="'Liberation Sans', Arial, sans-serif" font-size="11.5" font-weight="bold" text-anchor="middle" dominant-baseline="central" fill="#000">Oct</text>
<text x="182.38125" y="807.5" font-family="'Liberation Sans', Arial, sans-serif" font-size="11.5" font-weight="bold" text-anchor="middle" dominant-baseline="central" fill="#000">Nov</text>
<text x="219.81875" y="807.5" font-family="'Liberation Sans', Arial, sans-serif" font-size="11.5" font-weight="bold" text-anchor="middle" dominant-baseline="central" fill="#000">Dec</text>
<text x="257.25625" y="807.5" font-family="'Liberation Sans', Arial, sans-serif" font-size="11.5" font-weight="bold" text-anchor="middle" dominant-baseline="central" fill="#000">Jan</text>
<text x="294.69375" y="807.5" font-family="'Liberation Sans', Arial, sans-serif" font-size="11.5" font-weight="bold" text-anchor="middle" dominant-baseline="central" fill="#000">Feb</text>
<text x="332.13125" y="807.5" font-family="'Liberation Sans', Arial, sans-serif" font-size="11.5" font-weight="bold" text-anchor="middle" dominant-baseline="central" fill="#000">Mar</text>
<text x="369.56875" y="807.5" font-family="'Liberation Sans', Arial, sans-serif" font-size="11.5" font-weight="bold" text-anchor="middle" dominant-baseline="central" fill="#000">Apr</text>
<text x="407.00625" y="807.5" font-family="'Liberation Sans', Arial, sans-serif" font-size="11.5" font-weight="bold" text-anchor="middle" dominant-baseline="central" fill="#000">May</text>
<text x="444.44375" y="807.5" font-family="'Liberation Sans', Arial, sans-serif" font-size="11.5" font-weight="bold" text-anchor="middle" dominant-baseline="central" fill="#000">Jun</text>
<text x="481.88125" y="807.5" font-family="'Liberation Sans', Arial, sans-serif" font-size="11.5" font-weight="bold" text-anchor="middle" dominant-baseline="central" fill="#000">Jul</text>
<text x="278.3" y="595.8" font-family="'Liberation Sans', Arial, sans-serif" font-size="12" font-weight="normal" text-anchor="middle" dominant-baseline="central" fill="#000">Madagascar</text>
<text x="9.6" y="689.2" font-family="'Liberation Sans', Arial, sans-serif" font-size="14" font-weight="normal" text-anchor="middle" dominant-baseline="central" fill="#000" transform="rotate(-90 9.6 689.2)">sea &amp; land temp (C)</text>
<text x="540.8" y="690.0" font-family="'Liberation Sans', Arial, sans-serif" font-size="14" font-weight="normal" text-anchor="middle" dominant-baseline="central" fill="#000" transform="rotate(90 540.8 690.0)">vegetation&#160; fraction (%)</text>
<text x="9.3" y="588.6" font-family="'Liberation Serif', 'Times New Roman', serif" font-size="16.5" font-weight="bold" text-anchor="middle" dominant-baseline="central" fill="#000">g</text>
<line x1="231.4" y1="661.4" x2="231.4" y2="693.1" stroke="#22e022" stroke-width="2"/>
<line x1="268.9" y1="653.7" x2="268.9" y2="683.4" stroke="#22e022" stroke-width="2"/>
<line x1="293.8" y1="644.3" x2="293.8" y2="674.9" stroke="#22e022" stroke-width="2"/>
<line x1="318.8" y1="636.6" x2="318.8" y2="665.7" stroke="#22e022" stroke-width="2"/>
<path d="M56.7,744.0 L69.2,745.1 L81.7,744.9 L94.1,743.4 L106.6,743.4 L119.1,740.6 L131.6,738.0 L144.1,734.9 L156.5,732.0 L169.0,727.7 L181.5,723.4 L194.0,719.0 L206.5,714.3 L218.9,710.9 L231.4,707.7 L243.9,705.7 L256.4,704.9 L268.9,703.7 L281.3,703.1 L293.8,703.1 L306.3,702.9 L318.8,702.9 L331.3,702.9 L343.7,702.9 L356.2,703.1 L368.7,705.7 L381.2,709.4 L393.7,712.3 L406.1,716.3 L418.6,720.3 L431.1,724.9 L443.6,728.0 L456.1,732.9 L468.5,736.3 L481.0,740.0 L493.5,742.0" fill="none" stroke="#3366ee" stroke-width="2.2"/>
<circle cx="56.7" cy="744" r="3.1" fill="#3366ee"/>
<circle cx="69.2" cy="745.1" r="3.1" fill="#3366ee"/>
<circle cx="81.7" cy="744.9" r="3.1" fill="#3366ee"/>
<circle cx="94.1" cy="743.4" r="3.1" fill="#3366ee"/>
<circle cx="106.6" cy="743.4" r="3.1" fill="#3366ee"/>
<circle cx="119.1" cy="740.6" r="3.1" fill="#3366ee"/>
<circle cx="131.6" cy="738" r="3.1" fill="#3366ee"/>
<circle cx="144.1" cy="734.9" r="3.1" fill="#3366ee"/>
<circle cx="156.5" cy="732" r="3.1" fill="#3366ee"/>
<circle cx="169.0" cy="727.7" r="3.1" fill="#3366ee"/>
<circle cx="181.5" cy="723.4" r="3.1" fill="#3366ee"/>
<circle cx="194.0" cy="719" r="3.1" fill="#3366ee"/>
<circle cx="206.5" cy="714.3" r="3.1" fill="#3366ee"/>
<circle cx="218.9" cy="710.9" r="3.1" fill="#3366ee"/>
<circle cx="231.4" cy="707.7" r="3.1" fill="#3366ee"/>
<circle cx="243.9" cy="705.7" r="3.1" fill="#3366ee"/>
<circle cx="256.4" cy="704.9" r="3.1" fill="#3366ee"/>
<circle cx="268.9" cy="703.7" r="3.1" fill="#3366ee"/>
<circle cx="281.3" cy="703.1" r="3.1" fill="#3366ee"/>
<circle cx="293.8" cy="703.1" r="3.1" fill="#3366ee"/>
<circle cx="306.3" cy="702.9" r="3.1" fill="#3366ee"/>
<circle cx="318.8" cy="702.9" r="3.1" fill="#3366ee"/>
<circle cx="331.3" cy="702.9" r="3.1" fill="#3366ee"/>
<circle cx="343.7" cy="702.9" r="3.1" fill="#3366ee"/>
<circle cx="356.2" cy="703.1" r="3.1" fill="#3366ee"/>
<circle cx="368.7" cy="705.7" r="3.1" fill="#3366ee"/>
<circle cx="381.2" cy="709.4" r="3.1" fill="#3366ee"/>
<circle cx="393.7" cy="712.3" r="3.1" fill="#3366ee"/>
<circle cx="406.1" cy="716.3" r="3.1" fill="#3366ee"/>
<circle cx="418.6" cy="720.3" r="3.1" fill="#3366ee"/>
<circle cx="431.1" cy="724.9" r="3.1" fill="#3366ee"/>
<circle cx="443.6" cy="728" r="3.1" fill="#3366ee"/>
<circle cx="456.1" cy="732.9" r="3.1" fill="#3366ee"/>
<circle cx="468.5" cy="736.3" r="3.1" fill="#3366ee"/>
<circle cx="481.0" cy="740" r="3.1" fill="#3366ee"/>
<circle cx="493.5" cy="742" r="3.1" fill="#3366ee"/>
<path d="M56.7,702.3 L69.2,704.6 L81.7,705.7 L94.1,710.9 L106.6,712.9 L119.1,714.9 L131.6,717.4 L144.1,718.9 L156.5,719.7 L169.0,717.7 L181.5,714.9 L194.0,712.2 L206.5,705.7 L218.9,702.3 L231.4,693.1 L243.9,690.3 L256.4,687.1 L268.9,683.4 L281.3,679.1 L293.8,674.9 L306.3,671.4 L318.8,665.7 L331.3,662.9 L343.7,659.7 L356.2,658.3 L368.7,661.7 L381.2,663.4 L393.7,670.0 L406.1,673.7 L418.6,675.7 L431.1,682.0 L443.6,685.7 L456.1,689.4 L468.5,694.3 L481.0,696.6 L493.5,698.6" fill="none" stroke="#2e8b57" stroke-width="2.6"/>
<rect x="53.7" y="699.3" width="6" height="6" fill="#22dd22" stroke="#1faa3a" stroke-width="0.5"/>
<rect x="66.2" y="701.6" width="6" height="6" fill="#22dd22" stroke="#1faa3a" stroke-width="0.5"/>
<rect x="78.7" y="702.7" width="6" height="6" fill="#22dd22" stroke="#1faa3a" stroke-width="0.5"/>
<rect x="91.1" y="707.9" width="6" height="6" fill="#22dd22" stroke="#1faa3a" stroke-width="0.5"/>
<rect x="103.6" y="709.9" width="6" height="6" fill="#22dd22" stroke="#1faa3a" stroke-width="0.5"/>
<rect x="116.1" y="711.9" width="6" height="6" fill="#22dd22" stroke="#1faa3a" stroke-width="0.5"/>
<rect x="128.6" y="714.4" width="6" height="6" fill="#22dd22" stroke="#1faa3a" stroke-width="0.5"/>
<rect x="141.1" y="715.9" width="6" height="6" fill="#22dd22" stroke="#1faa3a" stroke-width="0.5"/>
<rect x="153.5" y="716.7" width="6" height="6" fill="#22dd22" stroke="#1faa3a" stroke-width="0.5"/>
<rect x="166.0" y="714.7" width="6" height="6" fill="#22dd22" stroke="#1faa3a" stroke-width="0.5"/>
<rect x="178.5" y="711.9" width="6" height="6" fill="#22dd22" stroke="#1faa3a" stroke-width="0.5"/>
<rect x="191.0" y="709.2" width="6" height="6" fill="#22dd22" stroke="#1faa3a" stroke-width="0.5"/>
<rect x="203.5" y="702.7" width="6" height="6" fill="#22dd22" stroke="#1faa3a" stroke-width="0.5"/>
<rect x="215.9" y="699.3" width="6" height="6" fill="#22dd22" stroke="#1faa3a" stroke-width="0.5"/>
<rect x="228.4" y="690.1" width="6" height="6" fill="#22dd22" stroke="#1faa3a" stroke-width="0.5"/>
<rect x="240.9" y="687.3" width="6" height="6" fill="#22dd22" stroke="#1faa3a" stroke-width="0.5"/>
<rect x="253.4" y="684.1" width="6" height="6" fill="#22dd22" stroke="#1faa3a" stroke-width="0.5"/>
<rect x="265.9" y="680.4" width="6" height="6" fill="#22dd22" stroke="#1faa3a" stroke-width="0.5"/>
<rect x="278.3" y="676.1" width="6" height="6" fill="#22dd22" stroke="#1faa3a" stroke-width="0.5"/>
<rect x="290.8" y="671.9" width="6" height="6" fill="#22dd22" stroke="#1faa3a" stroke-width="0.5"/>
<rect x="303.3" y="668.4" width="6" height="6" fill="#22dd22" stroke="#1faa3a" stroke-width="0.5"/>
<rect x="315.8" y="662.7" width="6" height="6" fill="#22dd22" stroke="#1faa3a" stroke-width="0.5"/>
<rect x="328.3" y="659.9" width="6" height="6" fill="#22dd22" stroke="#1faa3a" stroke-width="0.5"/>
<rect x="340.7" y="656.7" width="6" height="6" fill="#22dd22" stroke="#1faa3a" stroke-width="0.5"/>
<rect x="353.2" y="655.3" width="6" height="6" fill="#22dd22" stroke="#1faa3a" stroke-width="0.5"/>
<rect x="365.7" y="658.7" width="6" height="6" fill="#22dd22" stroke="#1faa3a" stroke-width="0.5"/>
<rect x="378.2" y="660.4" width="6" height="6" fill="#22dd22" stroke="#1faa3a" stroke-width="0.5"/>
<rect x="390.7" y="667.0" width="6" height="6" fill="#22dd22" stroke="#1faa3a" stroke-width="0.5"/>
<rect x="403.1" y="670.7" width="6" height="6" fill="#22dd22" stroke="#1faa3a" stroke-width="0.5"/>
<rect x="415.6" y="672.7" width="6" height="6" fill="#22dd22" stroke="#1faa3a" stroke-width="0.5"/>
<rect x="428.1" y="679.0" width="6" height="6" fill="#22dd22" stroke="#1faa3a" stroke-width="0.5"/>
<rect x="440.6" y="682.7" width="6" height="6" fill="#22dd22" stroke="#1faa3a" stroke-width="0.5"/>
<rect x="453.1" y="686.4" width="6" height="6" fill="#22dd22" stroke="#1faa3a" stroke-width="0.5"/>
<rect x="465.5" y="691.3" width="6" height="6" fill="#22dd22" stroke="#1faa3a" stroke-width="0.5"/>
<rect x="478.0" y="693.6" width="6" height="6" fill="#22dd22" stroke="#1faa3a" stroke-width="0.5"/>
<rect x="490.5" y="695.6" width="6" height="6" fill="#22dd22" stroke="#1faa3a" stroke-width="0.5"/>
<path d="M56.7,680.6 L69.2,665.7 L81.7,659.1 L94.1,642.3 L106.6,632.0 L119.1,617.1 L131.6,608.0 L144.1,603.7 L156.5,604.6 L169.0,606.6 L181.5,604.9 L194.0,616.3 L206.5,630.9 L218.9,640.0 L231.4,649.1 L243.9,656.6 L256.4,665.1 L268.9,675.7 L281.3,679.1 L293.8,674.3 L306.3,679.4 L318.8,679.4 L331.3,685.1 L343.7,679.7 L356.2,680.0 L368.7,684.3 L381.2,681.4 L393.7,688.6 L406.1,692.9 L418.6,694.9 L431.1,699.4 L443.6,700.6 L456.1,704.9 L468.5,703.4 L481.0,703.4 L493.5,695.7" fill="none" stroke="#ff1010" stroke-width="1.5"/>
<polygon points="56.7,676.6 60.3,683.2 53.1,683.2" fill="#fff" stroke="#ff1010" stroke-width="1"/>
<polygon points="69.2,661.7 72.8,668.3 65.6,668.3" fill="#fff" stroke="#ff1010" stroke-width="1"/>
<polygon points="81.7,655.1 85.3,661.7 78.1,661.7" fill="#fff" stroke="#ff1010" stroke-width="1"/>
<polygon points="94.1,638.3 97.7,644.9 90.5,644.9" fill="#fff" stroke="#ff1010" stroke-width="1"/>
<polygon points="106.6,628.0 110.2,634.6 103.0,634.6" fill="#fff" stroke="#ff1010" stroke-width="1"/>
<polygon points="119.1,613.1 122.7,619.7 115.5,619.7" fill="#fff" stroke="#ff1010" stroke-width="1"/>
<polygon points="131.6,604.0 135.2,610.6 128.0,610.6" fill="#fff" stroke="#ff1010" stroke-width="1"/>
<polygon points="144.1,599.7 147.7,606.3 140.5,606.3" fill="#fff" stroke="#ff1010" stroke-width="1"/>
<polygon points="156.5,600.6 160.1,607.2 152.9,607.2" fill="#fff" stroke="#ff1010" stroke-width="1"/>
<polygon points="169.0,602.6 172.6,609.2 165.4,609.2" fill="#fff" stroke="#ff1010" stroke-width="1"/>
<polygon points="181.5,600.9 185.1,607.5 177.9,607.5" fill="#fff" stroke="#ff1010" stroke-width="1"/>
<polygon points="194.0,612.3 197.6,618.9 190.4,618.9" fill="#fff" stroke="#ff1010" stroke-width="1"/>
<polygon points="206.5,626.9 210.1,633.5 202.9,633.5" fill="#fff" stroke="#ff1010" stroke-width="1"/>
<polygon points="218.9,636.0 222.5,642.6 215.3,642.6" fill="#fff" stroke="#ff1010" stroke-width="1"/>
<polygon points="231.4,645.1 235.0,651.7 227.8,651.7" fill="#fff" stroke="#ff1010" stroke-width="1"/>
<polygon points="243.9,652.6 247.5,659.2 240.3,659.2" fill="#fff" stroke="#ff1010" stroke-width="1"/>
<polygon points="256.4,661.1 260.0,667.7 252.8,667.7" fill="#fff" stroke="#ff1010" stroke-width="1"/>
<polygon points="268.9,671.7 272.5,678.3 265.3,678.3" fill="#fff" stroke="#ff1010" stroke-width="1"/>
<polygon points="281.3,675.1 284.9,681.7 277.7,681.7" fill="#fff" stroke="#ff1010" stroke-width="1"/>
<polygon points="293.8,670.3 297.4,676.9 290.2,676.9" fill="#fff" stroke="#ff1010" stroke-width="1"/>
<polygon points="306.3,675.4 309.9,682.0 302.7,682.0" fill="#fff" stroke="#ff1010" stroke-width="1"/>
<polygon points="318.8,675.4 322.4,682.0 315.2,682.0" fill="#fff" stroke="#ff1010" stroke-width="1"/>
<polygon points="331.3,681.1 334.9,687.7 327.7,687.7" fill="#fff" stroke="#ff1010" stroke-width="1"/>
<polygon points="343.7,675.7 347.3,682.3 340.1,682.3" fill="#fff" stroke="#ff1010" stroke-width="1"/>
<polygon points="356.2,676.0 359.8,682.6 352.6,682.6" fill="#fff" stroke="#ff1010" stroke-width="1"/>
<polygon points="368.7,680.3 372.3,686.9 365.1,686.9" fill="#fff" stroke="#ff1010" stroke-width="1"/>
<polygon points="381.2,677.4 384.8,684.0 377.6,684.0" fill="#fff" stroke="#ff1010" stroke-width="1"/>
<polygon points="393.7,684.6 397.3,691.2 390.1,691.2" fill="#fff" stroke="#ff1010" stroke-width="1"/>
<polygon points="406.1,688.9 409.7,695.5 402.5,695.5" fill="#fff" stroke="#ff1010" stroke-width="1"/>
<polygon points="418.6,690.9 422.2,697.5 415.0,697.5" fill="#fff" stroke="#ff1010" stroke-width="1"/>
<polygon points="431.1,695.4 434.7,702.0 427.5,702.0" fill="#fff" stroke="#ff1010" stroke-width="1"/>
<polygon points="443.6,696.6 447.2,703.2 440.0,703.2" fill="#fff" stroke="#ff1010" stroke-width="1"/>
<polygon points="456.1,700.9 459.7,707.5 452.5,707.5" fill="#fff" stroke="#ff1010" stroke-width="1"/>
<polygon points="468.5,699.4 472.1,706.0 464.9,706.0" fill="#fff" stroke="#ff1010" stroke-width="1"/>
<polygon points="481.0,699.4 484.6,706.0 477.4,706.0" fill="#fff" stroke="#ff1010" stroke-width="1"/>
<polygon points="493.5,691.7 497.1,698.3 489.9,698.3" fill="#fff" stroke="#ff1010" stroke-width="1"/>
<rect x="196.9" y="757.9" width="194.1" height="26.3" fill="#fff" stroke="#000" stroke-width="1"/>
<line x1="200" y1="770.5" x2="231.6" y2="770.5" stroke="#3366ee" stroke-width="2.2"/><circle cx="215" cy="770.5" r="3.1" fill="#3366ee"/>
<text x="233.4" y="770.8" font-family="'Liberation Sans', Arial, sans-serif" font-size="12" font-weight="normal" text-anchor="start" dominant-baseline="central" fill="#000">SST</text>
<line x1="261.5" y1="770.5" x2="292.7" y2="770.5" stroke="#ff1010" stroke-width="1.5"/>
<polygon points="276.6,766.5 280.2,773.1 273,773.1" fill="#fff" stroke="#ff1010" stroke-width="1"/>
<text x="294.5" y="770.8" font-family="'Liberation Sans', Arial, sans-serif" font-size="12" font-weight="normal" text-anchor="start" dominant-baseline="central" fill="#000">Land T</text>
<line x1="333" y1="770.5" x2="366" y2="770.5" stroke="#2e8b57" stroke-width="2.6"/><rect x="347" y="767.5" width="6" height="6" fill="#22dd22"/>
<text x="369" y="770.8" font-family="'Liberation Sans', Arial, sans-serif" font-size="12" font-weight="normal" text-anchor="start" dominant-baseline="central" fill="#000">Veg</text>
</g>
<g id="chart-h">
<rect x="50.5" y="829.0" width="450.80" height="210.80" fill="none" stroke="#000" stroke-width="1"/>
<line x1="46.0" y1="829.0" x2="50.5" y2="829.0" stroke="#000" stroke-width="1"/>
<text x="42.6" y="829.0" font-family="'Liberation Sans', Arial, sans-serif" font-size="11.5" font-weight="bold" text-anchor="end" dominant-baseline="central" fill="#000">60</text>
<line x1="46.0" y1="859.1" x2="50.5" y2="859.1" stroke="#000" stroke-width="1"/>
<text x="42.6" y="859.1142857142858" font-family="'Liberation Sans', Arial, sans-serif" font-size="11.5" font-weight="bold" text-anchor="end" dominant-baseline="central" fill="#000">50</text>
<line x1="46.0" y1="889.2" x2="50.5" y2="889.2" stroke="#000" stroke-width="1"/>
<text x="42.6" y="889.2285714285714" font-family="'Liberation Sans', Arial, sans-serif" font-size="11.5" font-weight="bold" text-anchor="end" dominant-baseline="central" fill="#000">40</text>
<line x1="46.0" y1="919.3" x2="50.5" y2="919.3" stroke="#000" stroke-width="1"/>
<text x="42.6" y="919.3428571428572" font-family="'Liberation Sans', Arial, sans-serif" font-size="11.5" font-weight="bold" text-anchor="end" dominant-baseline="central" fill="#000">30</text>
<line x1="46.0" y1="949.5" x2="50.5" y2="949.5" stroke="#000" stroke-width="1"/>
<text x="42.6" y="949.4571428571428" font-family="'Liberation Sans', Arial, sans-serif" font-size="11.5" font-weight="bold" text-anchor="end" dominant-baseline="central" fill="#000">20</text>
<line x1="46.0" y1="979.6" x2="50.5" y2="979.6" stroke="#000" stroke-width="1"/>
<text x="42.6" y="979.5714285714286" font-family="'Liberation Sans', Arial, sans-serif" font-size="11.5" font-weight="bold" text-anchor="end" dominant-baseline="central" fill="#000">10</text>
<line x1="46.0" y1="1009.7" x2="50.5" y2="1009.7" stroke="#000" stroke-width="1"/>
<text x="42.6" y="1009.6857142857142" font-family="'Liberation Sans', Arial, sans-serif" font-size="11.5" font-weight="bold" text-anchor="end" dominant-baseline="central" fill="#000">0</text>
<line x1="46.0" y1="1039.8" x2="50.5" y2="1039.8" stroke="#000" stroke-width="1"/>
<text x="42.6" y="1039.8" font-family="'Liberation Sans', Arial, sans-serif" font-size="11.5" font-weight="bold" text-anchor="end" dominant-baseline="central" fill="#000">-10</text>
<line x1="50.5" y1="1039.8" x2="50.5" y2="1043.8" stroke="#000" stroke-width="1"/>
<line x1="88.1" y1="1039.8" x2="88.1" y2="1043.8" stroke="#000" stroke-width="1"/>
<line x1="125.6" y1="1039.8" x2="125.6" y2="1043.8" stroke="#000" stroke-width="1"/>
<line x1="163.2" y1="1039.8" x2="163.2" y2="1043.8" stroke="#000" stroke-width="1"/>
<line x1="200.8" y1="1039.8" x2="200.8" y2="1043.8" stroke="#000" stroke-width="1"/>
<line x1="238.3" y1="1039.8" x2="238.3" y2="1043.8" stroke="#000" stroke-width="1"/>
<line x1="275.9" y1="1039.8" x2="275.9" y2="1043.8" stroke="#000" stroke-width="1"/>
<line x1="313.5" y1="1039.8" x2="313.5" y2="1043.8" stroke="#000" stroke-width="1"/>
<line x1="351.0" y1="1039.8" x2="351.0" y2="1043.8" stroke="#000" stroke-width="1"/>
<line x1="388.6" y1="1039.8" x2="388.6" y2="1043.8" stroke="#000" stroke-width="1"/>
<line x1="426.2" y1="1039.8" x2="426.2" y2="1043.8" stroke="#000" stroke-width="1"/>
<line x1="463.7" y1="1039.8" x2="463.7" y2="1043.8" stroke="#000" stroke-width="1"/>
<line x1="501.3" y1="1039.8" x2="501.3" y2="1043.8" stroke="#000" stroke-width="1"/>
<text x="71.88333333333333" y="1054.5" font-family="'Liberation Sans', Arial, sans-serif" font-size="11.8" font-weight="bold" text-anchor="middle" dominant-baseline="central" fill="#000">Aug</text>
<text x="109.45" y="1054.5" font-family="'Liberation Sans', Arial, sans-serif" font-size="11.8" font-weight="bold" text-anchor="middle" dominant-baseline="central" fill="#000">Sep</text>
<text x="147.01666666666668" y="1054.5" font-family="'Liberation Sans', Arial, sans-serif" font-size="11.8" font-weight="bold" text-anchor="middle" dominant-baseline="central" fill="#000">Oct</text>
<text x="184.58333333333334" y="1054.5" font-family="'Liberation Sans', Arial, sans-serif" font-size="11.8" font-weight="bold" text-anchor="middle" dominant-baseline="central" fill="#000">Nov</text>
<text x="222.15" y="1054.5" font-family="'Liberation Sans', Arial, sans-serif" font-size="11.8" font-weight="bold" text-anchor="middle" dominant-baseline="central" fill="#000">Dec</text>
<text x="259.7166666666667" y="1054.5" font-family="'Liberation Sans', Arial, sans-serif" font-size="11.8" font-weight="bold" text-anchor="middle" dominant-baseline="central" fill="#000">Jan</text>
<text x="297.2833333333334" y="1054.5" font-family="'Liberation Sans', Arial, sans-serif" font-size="11.8" font-weight="bold" text-anchor="middle" dominant-baseline="central" fill="#000">Feb</text>
<text x="334.85" y="1054.5" font-family="'Liberation Sans', Arial, sans-serif" font-size="11.8" font-weight="bold" text-anchor="middle" dominant-baseline="central" fill="#000">Mar</text>
<text x="372.41666666666674" y="1054.5" font-family="'Liberation Sans', Arial, sans-serif" font-size="11.8" font-weight="bold" text-anchor="middle" dominant-baseline="central" fill="#000">Apr</text>
<text x="409.9833333333334" y="1054.5" font-family="'Liberation Sans', Arial, sans-serif" font-size="11.8" font-weight="bold" text-anchor="middle" dominant-baseline="central" fill="#000">May</text>
<text x="447.55000000000007" y="1054.5" font-family="'Liberation Sans', Arial, sans-serif" font-size="11.8" font-weight="bold" text-anchor="middle" dominant-baseline="central" fill="#000">Jun</text>
<text x="485.11666666666673" y="1054.5" font-family="'Liberation Sans', Arial, sans-serif" font-size="11.8" font-weight="bold" text-anchor="middle" dominant-baseline="central" fill="#000">Jul</text>
<text x="283.0" y="846.0" font-family="'Liberation Sans', Arial, sans-serif" font-size="12" font-weight="normal" text-anchor="middle" dominant-baseline="central" fill="#000">Madagascar</text>
<text x="12.2" y="933.8" font-family="'Liberation Sans', Arial, sans-serif" font-size="14" font-weight="bold" text-anchor="middle" dominant-baseline="central" fill="#000" transform="rotate(-90 12.2 933.8)">rainfall (mm/day)</text>
<text x="9.3" y="820.0" font-family="'Liberation Serif', 'Times New Roman', serif" font-size="16.5" font-weight="bold" text-anchor="middle" dominant-baseline="central" fill="#000">h</text>
<path d="M50.7,1008.2 L53.0,1007.3 L55.0,1006.1 L57.0,987.4 L58.7,997.3 L60.7,1006.1 L62.2,1007.3 L63.6,1006.7 L65.0,1004.0 L66.5,1002.4 L67.9,1001.6 L69.3,999.2 L70.7,994.9 L72.2,999.0 L73.6,1003.1 L75.0,1004.7 L76.4,1006.1 L77.8,1005.7 L79.3,1005.3 L80.7,1006.1 L82.2,1004.5 L83.6,1000.4 L85.0,1004.7 L86.4,1006.1 L87.8,1003.6 L89.3,1003.1 L90.7,1005.8 L92.1,1008.2 L93.5,1004.6 L95.0,1002.5 L96.5,1005.7 L97.9,1006.1 L99.3,1004.7 L100.7,1003.1 L102.1,1000.2 L103.6,999.9 L105.0,996.7 L106.5,999.9 L107.9,1006.1 L109.3,1004.2 L110.7,1004.6 L112.2,1004.5 L113.6,1001.6 L115.9,995.8 L117.9,1006.1 L119.3,1001.8 L120.7,994.0 L122.2,999.1 L123.6,1004.6 L125.0,997.9 L126.4,994.6 L127.9,1000.1 L129.3,1004.6 L130.7,997.8 L132.1,988.6 L133.6,996.2 L135.0,1003.1 L136.4,1000.7 L137.9,994.6 L139.3,998.0 L140.7,998.8 L142.1,994.8 L143.6,990.2 L145.0,985.9 L146.4,993.8 L147.9,998.8 L149.3,994.5 L150.7,987.4 L152.1,993.1 L153.6,995.8 L155.0,992.3 L156.4,989.6 L157.9,987.8 L159.3,980.8 L160.7,987.1 L162.1,997.3 L163.6,992.7 L165.0,988.6 L166.2,991.6 L167.5,996.1 L169.1,996.1 L170.7,993.1 L172.1,986.4 L173.6,983.0 L175.0,984.4 L176.4,977.8 L177.9,988.6 L179.3,997.3 L180.7,993.4 L182.1,991.6 L183.6,988.3 L185.0,987.4 L186.4,980.7 L187.9,980.2 L190.0,980.5 L191.6,977.5 L192.4,974.2 L193.2,983.8 L194.8,979.0 L196.4,985.3 L197.2,988.6 L198.8,977.5 L200.5,985.3 L202.1,987.1 L204.5,973.2 L206.1,975.7 L206.9,980.5 L208.5,990.1 L210.1,983.8 L212.5,963.0 L214.1,969.3 L215.7,961.2 L217.3,975.7 L219.7,966.0 L221.4,974.2 L223.0,967.8 L225.4,975.7 L227.0,968.5 L228.6,959.7 L229.9,961.2 L231.0,934.7 L232.1,946.7 L233.4,964.5 L235.8,970.8 L238.2,940.4 L239.8,946.7 L241.4,959.7 L243.1,948.6 L244.7,940.4 L246.3,956.4 L248.7,932.3 L250.3,951.6 L251.1,966.0 L253.5,946.7 L255.1,953.4 L256.7,944.3 L258.3,956.4 L259.9,948.6 L261.5,964.5 L263.2,946.7 L264.8,941.9 L265.6,970.8 L267.2,950.1 L268.8,956.4 L271.2,938.9 L272.8,904.9 L274.4,940.4 L276.0,937.1 L277.6,950.1 L279.2,941.9 L280.5,949.5 L282.5,975.1 L284.2,957.6 L286.2,955.2 L287.5,965.1 L288.8,962.7 L290.0,948.3 L291.2,942.5 L292.5,952.8 L293.8,962.7 L295.0,946.5 L296.2,935.0 L297.5,939.6 L298.8,937.7 L300.0,952.8 L301.2,957.6 L302.5,940.1 L304.5,957.6 L306.2,975.1 L307.5,956.5 L308.8,940.1 L310.0,945.2 L311.2,930.2 L312.5,927.8 L313.8,932.6 L315.0,937.7 L316.2,952.1 L317.5,975.1 L318.8,947.6 L320.0,920.2 L321.6,898.1 L323.2,880.2 L325.0,895.3 L326.0,932.6 L327.0,957.6 L328.8,980.2 L330.5,957.6 L332.0,919.0 L333.8,957.6 L335.0,975.1 L336.2,967.5 L337.5,970.2 L339.5,966.3 L341.2,967.5 L343.2,965.1 L345.0,982.6 L347.0,965.1 L348.8,950.1 L350.5,960.3 L352.0,975.1 L353.8,980.2 L355.8,987.7 L357.0,965.1 L358.2,912.7 L359.5,917.5 L360.5,940.1 L361.2,952.8 L362.5,982.6 L363.8,975.1 L365.0,956.4 L366.2,970.2 L367.5,987.7 L368.8,985.3 L370.0,995.2 L371.2,992.9 L372.5,985.3 L373.8,977.8 L375.0,975.1 L376.2,987.7 L377.5,992.8 L378.8,985.3 L380.0,986.5 L381.2,993.4 L382.3,982.0 L383.5,988.9 L384.6,995.8 L385.8,980.8 L387.0,998.2 L388.1,992.5 L389.3,986.5 L390.4,990.1 L391.6,993.4 L393.9,995.8 L395.1,986.5 L396.2,970.2 L398.1,962.1 L399.7,968.1 L400.9,982.0 L402.0,995.8 L404.4,999.4 L406.0,998.2 L407.8,1001.6 L410.2,1000.7 L412.5,988.9 L413.6,991.3 L414.8,995.8 L416.7,978.4 L417.6,988.9 L418.3,993.4 L419.9,986.5 L420.8,992.5 L421.8,995.8 L424.1,1002.8 L426.4,1002.8 L428.0,977.2 L429.2,993.4 L429.9,1002.8 L432.2,994.6 L433.4,997.0 L434.5,1000.7 L436.8,999.4 L438.0,1001.6 L440.3,1007.6 L442.6,1008.5 L445.0,1006.4 L446.1,1005.2 L447.7,1006.4 L449.6,1006.4 L451.9,1007.6 L454.2,1002.8 L455.4,1006.4 L456.6,1007.6 L458.3,1008.2 L460.0,1007.6 L462.4,1006.4 L464.1,1006.3 L465.8,1007.6 L468.2,1002.8 L469.8,991.3 L471.0,983.2 L472.1,986.5 L472.8,998.2 L474.0,1005.2 L475.1,1007.6 L477.4,1007.9 L479.8,1008.8 L482.1,1006.4 L483.2,1002.8 L484.4,998.2 L485.6,995.8 L486.7,999.4 L487.9,1007.6 L489.0,1005.2 L490.2,1004.0 L491.4,1002.8 L493.7,1000.7 L494.8,997.0 L496.0,995.8 L497.2,998.2 L498.3,1000.7 L499.5,1004.0 L500.6,1007.6" fill="none" stroke="#0a14f0" stroke-width="2.0" stroke-linejoin="round"/>
<path d="M50.7,1008.2 L52.0,1007.7 L53.3,1007.6 L54.6,1008.6 L55.8,1008.6 L57.1,1007.7 L58.4,1007.8 L59.7,1007.8 L61.0,1008.2 L62.3,1007.9 L63.6,1007.9 L64.9,1007.9 L66.1,1008.3 L67.4,1008.0 L68.7,1008.0 L70.0,1007.9 L71.2,1007.6 L72.5,1007.3 L73.8,1007.4 L75.0,1007.9 L76.2,1008.0 L77.5,1008.3 L78.8,1008.5 L80.0,1008.6 L81.2,1008.1 L82.5,1008.3 L83.8,1008.2 L85.0,1007.7 L86.2,1008.1 L87.5,1008.1 L88.8,1008.5 L90.0,1008.2 L91.2,1008.7 L92.5,1008.3 L93.8,1008.5 L95.0,1008.1 L96.2,1007.5 L97.5,1007.9 L98.8,1008.4 L100.0,1007.6 L101.2,1007.7 L102.5,1007.7 L103.8,1007.5 L105.0,1007.7 L106.2,1007.6 L107.5,1008.1 L108.8,1007.3 L110.0,1007.9 L111.2,1007.3 L112.5,1008.3 L113.8,1007.6 L115.0,1007.6 L116.2,1007.9 L117.5,1007.8 L118.8,1007.9 L120.0,1007.4 L121.2,1007.9 L122.5,1007.5 L123.8,1008.0 L125.0,1007.9 L126.4,1007.0 L127.8,1006.5 L129.3,1006.6 L130.7,1006.1 L132.0,1006.1 L133.4,1005.8 L134.7,1006.2 L136.0,1006.6 L137.3,1007.1 L138.7,1007.1 L140.0,1007.0 L141.2,1006.5 L142.5,1007.0 L143.8,1005.7 L145.0,1006.1 L146.2,1006.1 L147.5,1004.9 L148.8,1005.5 L150.0,1004.9 L151.2,1003.5 L152.5,1003.3 L153.8,1003.1 L155.0,1002.5 L156.2,1002.9 L157.5,1003.1 L158.8,1003.7 L160.0,1004.3 L161.2,1004.7 L162.5,1004.9 L163.8,1004.5 L165.0,1004.6 L166.2,1003.5 L167.5,1003.6 L168.8,1004.2 L170.0,1003.1 L171.8,1002.5 L173.6,1003.1 L175.1,1002.2 L176.5,1001.5 L178.0,1001.9 L179.4,1002.0 L180.7,1000.3 L182.1,1000.4 L183.6,1000.3 L185.0,997.7 L186.4,997.6 L187.9,995.8 L190.0,998.8 L191.6,998.5 L193.2,995.8 L194.8,995.8 L196.4,997.7 L198.0,997.4 L199.6,998.2 L200.9,997.0 L202.2,998.3 L203.5,998.1 L204.8,996.0 L206.1,996.7 L207.7,997.1 L209.3,996.6 L210.9,997.3 L212.5,996.9 L214.1,994.2 L215.7,991.9 L217.0,992.0 L218.4,989.1 L219.7,988.6 L221.1,992.2 L222.4,991.3 L223.8,994.9 L225.4,994.1 L227.0,989.3 L228.6,987.7 L230.2,988.5 L231.8,985.3 L233.1,987.9 L234.5,987.3 L235.8,990.1 L237.1,988.9 L238.5,986.3 L239.8,982.3 L241.4,982.2 L243.1,984.4 L244.7,984.7 L246.3,985.9 L247.9,982.9 L249.5,982.9 L251.1,987.1 L252.7,985.1 L254.3,979.9 L255.9,983.6 L257.5,982.9 L259.1,982.7 L260.7,981.1 L262.5,981.4 L263.8,982.0 L265.0,983.8 L266.2,980.6 L267.5,981.7 L268.8,977.8 L270.0,977.0 L271.2,977.1 L272.5,972.6 L273.8,974.9 L275.0,976.6 L276.2,978.2 L277.5,982.6 L278.8,982.8 L280.0,983.5 L281.2,986.5 L282.5,986.7 L283.8,987.5 L285.0,990.1 L286.2,989.0 L287.5,989.4 L288.8,988.9 L290.0,989.2 L291.2,986.7 L292.5,986.5 L293.8,986.3 L295.0,986.3 L296.2,983.8 L297.5,982.6 L298.8,981.8 L300.0,986.0 L301.2,985.3 L302.5,987.5 L303.8,990.7 L305.0,992.8 L306.2,990.9 L307.5,990.4 L308.8,985.3 L310.0,985.3 L311.2,986.9 L312.5,986.1 L313.8,987.4 L315.0,987.7 L316.2,988.4 L317.5,984.9 L318.8,985.5 L320.0,982.6 L321.2,986.5 L322.5,986.5 L323.8,989.0 L325.0,987.7 L326.2,990.2 L327.5,990.1 L328.8,992.9 L330.0,992.8 L331.2,993.0 L332.5,994.0 L333.8,992.0 L335.0,990.1 L336.2,989.0 L337.5,991.3 L338.8,989.8 L340.0,991.3 L341.2,991.7 L342.5,995.2 L343.8,998.3 L345.0,1000.0 L346.2,999.4 L347.5,999.1 L348.8,997.6 L350.0,997.8 L351.2,998.1 L352.5,998.8 L353.8,996.5 L355.0,995.2 L356.2,995.1 L357.5,992.8 L358.8,994.9 L360.0,996.4 L361.2,998.2 L362.5,1000.0 L363.8,1001.5 L365.0,1001.8 L366.2,1001.4 L367.5,1001.6 L368.8,1002.9 L370.0,1002.3 L371.2,1003.8 L372.5,1004.0 L373.8,1004.8 L375.0,1004.8 L376.2,1004.9 L377.5,1004.6 L378.8,1005.1 L380.0,1004.7 L381.2,1004.9 L382.5,1005.3 L383.8,1004.8 L385.0,1005.2 L386.2,1005.8 L387.5,1005.0 L388.8,1005.1 L390.0,1005.6 L391.2,1006.3 L392.5,1006.4 L394.2,1004.2 L396.0,1002.2 L397.5,1002.8 L399.0,1003.7 L400.5,1005.0 L402.0,1005.0 L403.5,1005.4 L405.0,1006.1 L406.2,1006.6 L407.5,1006.8 L408.8,1005.9 L410.0,1006.6 L411.2,1006.4 L412.5,1006.0 L413.8,1006.5 L415.0,1007.0 L416.2,1006.1 L417.5,1007.0 L418.8,1007.5 L420.0,1007.0 L421.2,1006.8 L422.5,1007.6 L423.8,1007.4 L425.0,1006.8 L426.2,1007.0 L427.5,1007.9 L428.8,1007.4 L430.0,1007.5 L431.2,1007.5 L432.5,1007.9 L433.8,1007.5 L435.0,1008.2 L436.2,1008.0 L437.5,1007.9 L438.8,1007.3 L440.0,1007.9 L441.2,1008.4 L442.5,1007.6 L443.8,1008.2 L445.0,1007.8 L446.2,1008.0 L447.5,1007.9 L448.8,1007.6 L450.0,1008.0 L451.2,1008.3 L452.5,1008.3 L453.8,1008.4 L455.0,1007.5 L456.2,1007.7 L457.5,1007.3 L458.8,1007.7 L460.0,1008.4 L461.2,1007.7 L462.5,1007.6 L463.8,1007.6 L465.0,1007.9 L466.2,1008.0 L467.5,1007.9 L468.8,1007.5 L470.0,1007.9 L471.3,1008.2 L472.5,1007.9 L473.8,1007.9 L475.1,1007.4 L476.4,1007.6 L477.6,1007.5 L478.9,1007.6 L480.2,1008.2 L481.4,1008.3 L482.7,1008.0 L484.0,1008.3 L485.2,1008.1 L486.5,1007.8 L487.8,1007.6 L489.1,1008.0 L490.3,1007.7 L491.6,1008.5 L492.9,1008.3 L494.1,1007.6 L495.4,1008.5 L496.7,1008.2 L498.0,1008.6 L499.2,1008.6 L500.5,1008.2" fill="none" stroke="#0a8a0a" stroke-width="2.8" stroke-linejoin="round"/>
<path d="M50.7,1009.4 L52.0,1009.6 L53.2,1009.3 L54.5,1009.5 L55.8,1009.3 L57.0,1009.3 L58.3,1009.7 L59.5,1009.7 L60.8,1009.1 L62.1,1009.6 L63.3,1009.6 L64.6,1009.0 L65.9,1009.4 L67.1,1009.1 L68.4,1009.4 L69.7,1009.3 L70.9,1009.7 L72.2,1009.3 L73.5,1009.1 L74.7,1009.4 L76.0,1009.2 L77.2,1009.2 L78.5,1009.7 L79.8,1009.2 L81.0,1009.3 L82.3,1009.5 L83.6,1009.7 L84.8,1009.1 L86.1,1009.4 L87.4,1009.2 L88.6,1009.1 L89.9,1009.2 L91.2,1009.0 L92.4,1009.5 L93.7,1009.1 L94.9,1009.4 L96.2,1009.0 L97.5,1009.1 L98.7,1009.7 L100.0,1009.4 L101.2,1009.7 L102.5,1009.6 L103.8,1009.0 L105.0,1009.4 L106.2,1009.3 L107.5,1009.5 L108.8,1009.4 L110.0,1009.4 L111.2,1009.5 L112.5,1009.3 L113.8,1009.3 L115.0,1009.0 L116.2,1009.2 L117.5,1009.0 L118.8,1009.0 L120.0,1008.9 L121.2,1009.2 L122.5,1009.6 L123.8,1009.0 L125.0,1008.9 L126.2,1009.0 L127.5,1009.2 L128.8,1009.1 L130.0,1009.5 L131.2,1009.0 L132.5,1009.2 L133.8,1009.5 L135.0,1009.6 L136.2,1009.0 L137.5,1008.9 L138.8,1009.6 L140.0,1009.0 L141.2,1009.3 L142.5,1009.5 L143.8,1009.4 L145.0,1009.0 L146.2,1008.9 L147.5,1009.6 L148.8,1009.1 L150.0,1009.2 L151.2,1009.6 L152.5,1009.0 L153.8,1009.4 L155.0,1008.9 L156.2,1008.8 L157.5,1009.2 L158.8,1008.8 L160.0,1009.3 L161.2,1009.5 L162.5,1009.1 L163.8,1009.5 L165.0,1009.4 L166.2,1009.2 L167.5,1009.0 L168.8,1009.4 L170.0,1009.5 L171.2,1008.8 L172.5,1009.3 L173.8,1008.7 L175.0,1009.1 L176.4,1008.5 L177.8,1008.7 L179.2,1008.4 L180.6,1008.1 L182.0,1007.9 L183.3,1008.0 L184.7,1008.4 L186.0,1008.8 L187.3,1008.2 L188.7,1007.5 L190.0,1007.1 L191.3,1006.5 L192.7,1007.1 L194.0,1007.2 L195.3,1006.8 L196.7,1007.5 L198.0,1007.1 L199.3,1007.3 L200.7,1006.2 L202.0,1006.7 L203.3,1006.6 L204.7,1007.2 L206.0,1006.4 L207.3,1006.3 L208.6,1005.9 L209.9,1006.6 L211.2,1005.5 L212.5,1005.5 L214.1,1004.4 L215.7,1004.8 L217.3,1003.1 L218.7,1001.6 L220.0,1000.9 L221.4,999.7 L223.8,1003.1 L225.4,1001.9 L227.0,1001.6 L228.6,1002.9 L230.2,1003.1 L231.8,1004.6 L233.4,1004.4 L235.0,1006.0 L236.6,1005.5 L238.2,1006.6 L239.8,1006.4 L241.4,1005.3 L243.1,1003.9 L244.7,1004.0 L246.3,1003.4 L247.9,1001.9 L249.5,1000.7 L251.1,1003.3 L252.7,1006.4 L254.3,1006.6 L255.9,1006.6 L257.5,1006.4 L259.9,998.2 L261.2,1001.0 L262.5,1002.8 L263.8,1004.8 L265.0,1006.4 L266.2,1003.0 L267.5,1000.0 L268.8,997.2 L270.0,992.8 L271.2,996.9 L272.5,1000.0 L273.8,998.6 L275.0,998.8 L276.2,1001.6 L277.5,1001.6 L278.8,1000.0 L280.0,998.8 L281.2,1000.8 L282.5,1004.0 L283.8,1006.1 L285.0,1007.6 L286.2,1007.6 L287.5,1006.6 L288.8,1007.1 L290.0,1006.4 L291.2,1005.4 L292.5,1003.3 L293.8,1001.6 L295.0,1000.1 L296.2,1001.0 L297.5,998.8 L298.8,1001.3 L300.0,1002.8 L301.2,1004.3 L302.5,1005.2 L303.8,1005.0 L305.0,1006.1 L306.2,1006.4 L307.5,1006.3 L308.8,1007.6 L310.0,1007.6 L311.2,1007.0 L312.5,1005.7 L313.8,1005.2 L315.0,1005.4 L316.2,1006.8 L317.5,1007.6 L318.8,1007.9 L320.0,1008.0 L321.2,1007.5 L322.5,1007.6 L323.8,1008.1 L325.0,1007.5 L326.2,1007.7 L327.5,1008.2 L328.8,1008.6 L330.0,1008.7 L331.2,1008.3 L332.5,1008.5 L333.8,1008.5 L335.0,1008.9 L336.2,1009.1 L337.5,1009.3 L338.8,1009.1 L340.0,1008.7 L341.2,1009.2 L342.5,1009.1 L343.8,1009.0 L345.0,1009.0 L346.2,1009.0 L347.5,1008.6 L348.8,1009.3 L350.0,1009.4 L351.2,1008.6 L352.5,1008.6 L353.8,1008.5 L355.0,1009.0 L356.2,1008.6 L357.5,1008.6 L358.8,1009.2 L360.0,1008.8 L361.2,1008.7 L362.5,1008.9 L363.8,1009.0 L365.0,1009.2 L366.2,1009.1 L367.5,1009.2 L368.8,1009.4 L370.0,1008.9 L371.2,1009.2 L372.5,1008.7 L373.8,1009.4 L375.0,1008.7 L376.2,1008.9 L377.5,1008.7 L378.8,1008.7 L380.0,1008.7 L381.2,1009.0 L382.5,1009.5 L383.8,1008.8 L385.0,1009.3 L386.2,1009.2 L387.5,1008.9 L388.8,1009.0 L390.0,1009.1 L391.2,1008.7 L392.5,1009.0 L393.8,1009.2 L395.0,1009.3 L396.2,1008.8 L397.5,1009.1 L398.8,1008.8 L400.0,1009.1 L401.3,1009.2 L402.5,1009.3 L403.8,1009.1 L405.0,1008.8 L406.3,1009.4 L407.5,1008.8 L408.8,1008.7 L410.1,1008.8 L411.3,1008.8 L412.6,1009.5 L413.8,1009.0 L415.1,1008.8 L416.3,1009.5 L417.6,1009.3 L418.8,1009.3 L420.1,1009.1 L421.4,1009.2 L422.6,1009.1 L423.9,1008.9 L425.1,1009.5 L426.4,1009.5 L427.6,1009.4 L428.9,1009.4 L430.1,1009.5 L431.4,1008.7 L432.7,1008.8 L433.9,1009.5 L435.2,1009.1 L436.4,1009.3 L437.7,1009.3 L438.9,1009.3 L440.2,1009.0 L441.5,1009.1 L442.7,1009.3 L444.0,1009.4 L445.2,1009.3 L446.5,1009.5 L447.7,1009.1 L449.0,1009.0 L450.2,1009.3 L451.5,1009.5 L452.8,1009.4 L454.0,1009.3 L455.3,1009.1 L456.5,1008.9 L457.8,1009.3 L459.0,1008.9 L460.3,1009.1 L461.6,1009.2 L462.8,1009.3 L464.1,1009.2 L465.3,1009.0 L466.6,1009.3 L467.8,1009.0 L469.1,1009.2 L470.4,1009.4 L471.6,1009.2 L472.9,1009.0 L474.1,1009.6 L475.4,1009.3 L476.6,1009.3 L477.9,1008.9 L479.1,1008.8 L480.4,1009.3 L481.7,1008.9 L482.9,1009.0 L484.2,1009.4 L485.4,1009.2 L486.7,1009.5 L487.9,1009.0 L489.2,1009.1 L490.4,1008.9 L491.7,1009.0 L493.0,1009.1 L494.2,1009.0 L495.5,1009.2 L496.7,1009.6 L498.0,1009.2 L499.2,1009.6 L500.5,1009.2" fill="none" stroke="#b04010" stroke-width="1.8" stroke-linejoin="round"/>
<rect x="60" y="838.2" width="83.4" height="53" fill="#fff" stroke="#000" stroke-width="1"/>
<line x1="66.7" y1="846.5" x2="96.7" y2="846.5" stroke="#0a8a0a" stroke-width="3"/>
<text x="98.1" y="846.8" font-family="'Liberation Sans', Arial, sans-serif" font-size="12" font-weight="normal" text-anchor="start" dominant-baseline="central" fill="#000">mean</text>
<line x1="66.7" y1="863.5" x2="96.7" y2="863.5" stroke="#b04010" stroke-width="2"/>
<text x="98.1" y="863.8" font-family="'Liberation Sans', Arial, sans-serif" font-size="12" font-weight="normal" text-anchor="start" dominant-baseline="central" fill="#000">2.50%</text>
<line x1="66.7" y1="881.5" x2="96.7" y2="881.5" stroke="#0a14f0" stroke-width="2"/>
<text x="98.1" y="881.8" font-family="'Liberation Sans', Arial, sans-serif" font-size="12" font-weight="normal" text-anchor="start" dominant-baseline="central" fill="#000">97.50%</text>
<line x1="373.8" y1="873.8" x2="350.5" y2="894.5" stroke="#000" stroke-width="1.5"/>
<polyline points="352.2,884.2 350.2,894.8 360.5,893.8" fill="none" stroke="#000" stroke-width="1.5"/>
</g>
</svg></body></html>
